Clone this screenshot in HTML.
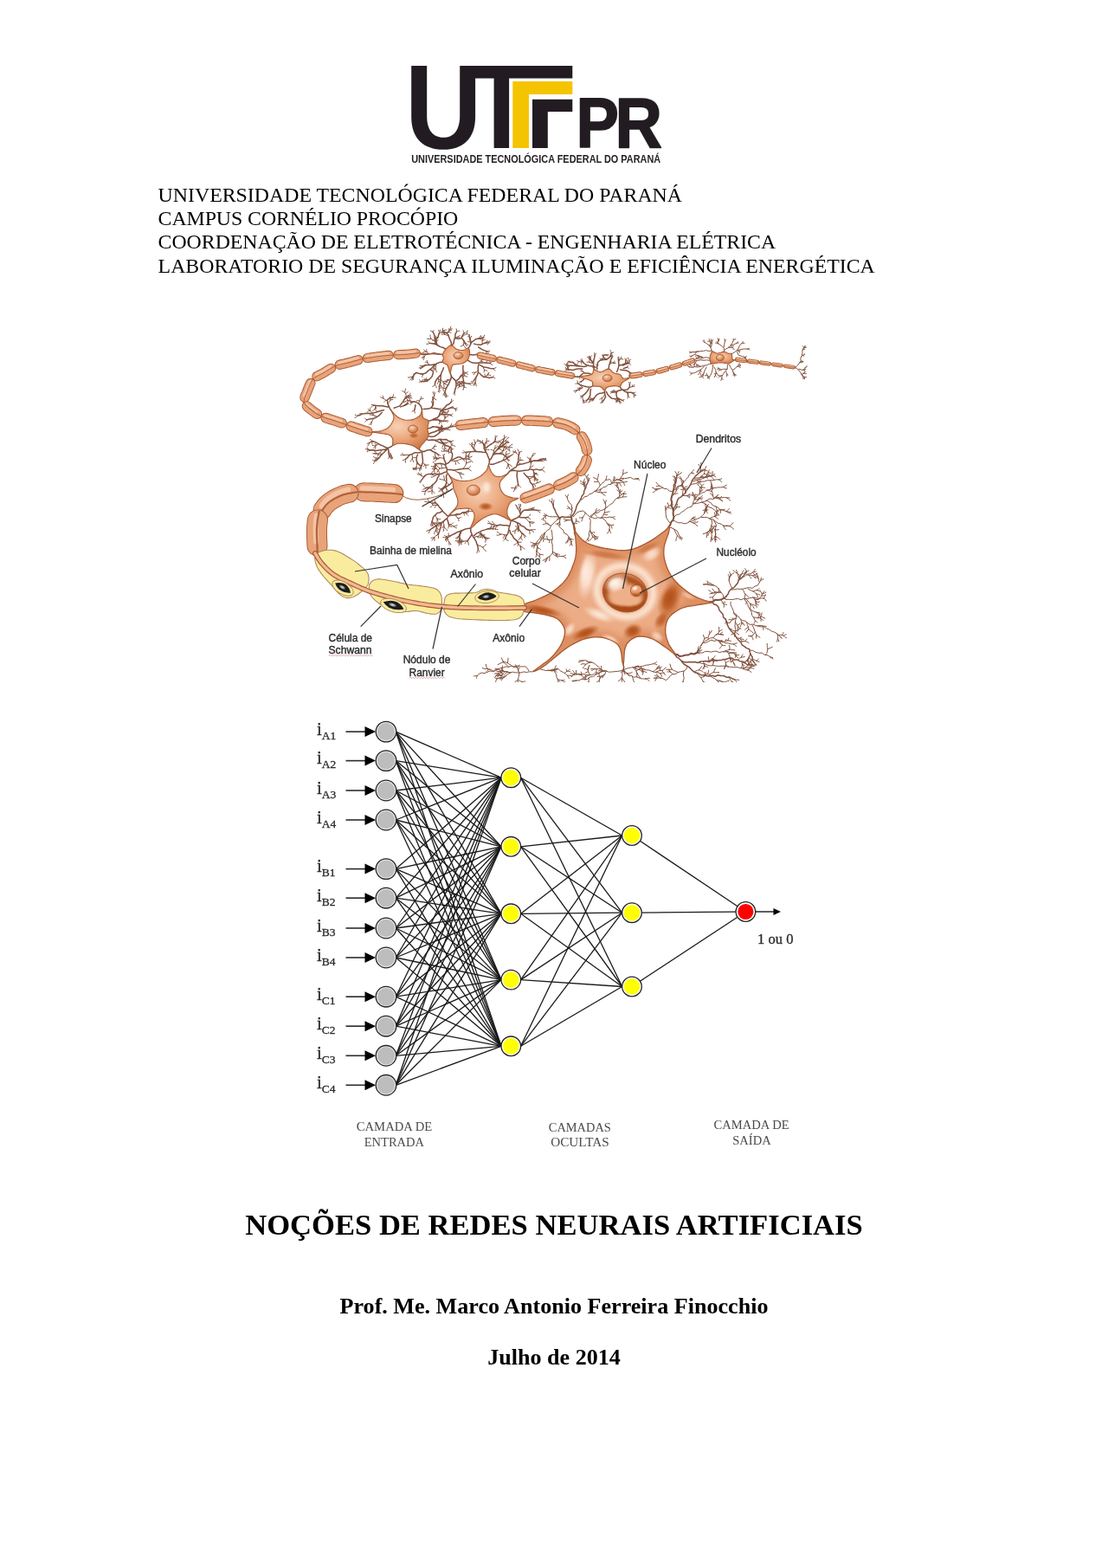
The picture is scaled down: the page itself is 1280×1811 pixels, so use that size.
<!DOCTYPE html>
<html lang="pt-BR"><head><meta charset="utf-8"><title>Noções de Redes Neurais Artificiais</title>
<style>
html,body{margin:0;padding:0;background:#fff;}
body{width:1280px;height:1811px;position:relative;overflow:hidden;font-family:"Liberation Serif",serif;color:#000;}
.abs{position:absolute;white-space:nowrap;line-height:1;}
.hdr{font-size:23.83px;left:182.6px;filter:grayscale(1);}
.c{left:0;width:1280px;text-align:center;font-weight:bold;filter:grayscale(1);}
svg{overflow:visible}
</style></head><body>
<svg width="0" height="0" style="position:absolute"><defs>
<filter id="bl" x="-5%" y="-5%" width="110%" height="110%"><feGaussianBlur stdDeviation="0.6"/></filter>
<filter id="bl2" x="-5%" y="-5%" width="110%" height="110%"><feGaussianBlur stdDeviation="0.7"/></filter>
</defs></svg>
<svg class="abs" style="left:0;top:0" width="1280" height="200" viewBox="0 0 1280 200"><g filter="url(#bl)">
<path fill="#231f20" d="M475.2 76 H493.2 V134 C493.2 150 500 158.8 512.2 158.8 C524.4 158.8 531.2 150 531.2 134 V76 H661.3 V90.6 H588.1 V171 H570.6 V90.6 H549.1 V135 C549.1 160 535 172.8 512.2 172.8 C489.4 172.8 475.2 160 475.2 135 Z"/>
<path fill="#f5c400" d="M592.3 94 H661.3 V109 H611 V171 H592.3 Z"/>
<path fill="#231f20" d="M615 114.7 H661.3 V129 H632.8 V171 H615 Z"/>
<g font-family="Liberation Sans, sans-serif" font-weight="bold" font-size="81.5" fill="#231f20" stroke="#231f20" stroke-width="1.6" stroke-linejoin="round"><text id="pP" x="665.6" y="170.4" textLength="49.5" lengthAdjust="spacingAndGlyphs">P</text><text id="pR" x="710.6" y="170.4" textLength="54.5" lengthAdjust="spacingAndGlyphs">R</text></g>
<text id="sub" x="475.2" y="187.5" font-family="Liberation Sans, sans-serif" font-weight="bold" font-size="12.6" fill="#231f20" textLength="288" lengthAdjust="spacingAndGlyphs">UNIVERSIDADE TECNOLÓGICA FEDERAL DO PARANÁ</text>
</g></svg>
<div class="abs hdr" id="l1" style="top:213.6px">UNIVERSIDADE TECNOLÓGICA FEDERAL DO PARANÁ</div>
<div class="abs hdr" id="l2" style="top:240.9px;letter-spacing:-0.07px">CAMPUS CORNÉLIO PROCÓPIO</div>
<div class="abs hdr" id="l3" style="top:268.2px;letter-spacing:-0.04px">COORDENAÇÃO DE ELETROTÉCNICA - ENGENHARIA ELÉTRICA</div>
<div class="abs hdr" id="l4" style="top:295.5px">LABORATORIO DE SEGURANÇA ILUMINAÇÃO E EFICIÊNCIA ENERGÉTICA</div>
<div class="abs c" id="t1" style="top:1397.3px;font-size:34.6px">NOÇÕES DE REDES NEURAIS ARTIFICIAIS</div>
<div class="abs c" id="t2" style="top:1496.3px;font-size:26.1px">Prof. Me. Marco Antonio Ferreira Finocchio</div>
<div class="abs c" id="t3" style="top:1555.3px;font-size:26.1px">Julho de 2014</div>
<svg class="abs" style="left:0;top:360px" width="1280" height="440" viewBox="0 360 1280 440">
<defs>
<radialGradient id="gb" cx="45%" cy="40%" r="65%"><stop offset="0" stop-color="#f7d2b6"/><stop offset="0.55" stop-color="#eaa57a"/><stop offset="1" stop-color="#cf7a46"/></radialGradient>
<radialGradient id="gn" cx="40%" cy="30%" r="80%"><stop offset="0" stop-color="#f9d9c2"/><stop offset="0.5" stop-color="#e39a6c"/><stop offset="1" stop-color="#b85a26"/></radialGradient>
<radialGradient id="gbig" gradientUnits="userSpaceOnUse" cx="715" cy="680" r="110"><stop offset="0" stop-color="#f4c3a0"/><stop offset="0.3" stop-color="#f2bb96"/><stop offset="0.6" stop-color="#e9a177"/><stop offset="1" stop-color="#dc8c5c"/></radialGradient>
<radialGradient id="gd"><stop offset="0" stop-color="#b2501a" stop-opacity="1"/><stop offset="0.45" stop-color="#b6551f" stop-opacity="0.8"/><stop offset="1" stop-color="#c06028" stop-opacity="0"/></radialGradient>
<radialGradient id="gl"><stop offset="0" stop-color="#fdeee3" stop-opacity="1"/><stop offset="0.45" stop-color="#fce6d6" stop-opacity="0.8"/><stop offset="1" stop-color="#f8d8c2" stop-opacity="0"/></radialGradient>
<radialGradient id="gw"><stop offset="0" stop-color="#fff6ef" stop-opacity="1"/><stop offset="0.5" stop-color="#fdebde" stop-opacity="0.8"/><stop offset="1" stop-color="#f8d8c2" stop-opacity="0"/></radialGradient>
<filter id="bl3" x="-20%" y="-20%" width="140%" height="140%"><feGaussianBlur stdDeviation="2.5"/></filter>
<filter id="bl1" x="-20%" y="-20%" width="140%" height="140%"><feGaussianBlur stdDeviation="1"/></filter>
<radialGradient id="gnb" cx="38%" cy="32%" r="75%"><stop offset="0" stop-color="#f8d8c0"/><stop offset="0.45" stop-color="#eaa67c"/><stop offset="1" stop-color="#cf7a48"/></radialGradient>
<filter id="bl4" x="-10%" y="-10%" width="120%" height="120%"><feGaussianBlur stdDeviation="4"/></filter>
<radialGradient id="gk"><stop offset="0" stop-color="#e6e6e6"/><stop offset="0.5" stop-color="#9a9a9a"/><stop offset="1" stop-color="#1c1c1c"/></radialGradient>
<clipPath id="clipimg"><rect x="340" y="372" width="600" height="416"/></clipPath>
</defs>
<g filter="url(#bl2)" clip-path="url(#clipimg)">
<g fill="none" stroke="#80503c" stroke-linecap="round" stroke-linejoin="round"><path stroke-width="1.5" d="M511 409.5l-3 -0.5 -3.3 -0.6 -3.3 -0.6 -3.3 0.8 -3.3 0.5 -3.3 0.3 -3.4 0.1 -2.9 -1.2M514.8 403.1l-2.7 -1.6 -3.3 -0.9 -2.9 -1.6 -3 -1.6 -3.3 -0.6 -3.1 -0.4M503.7 398l-1 -3.5 -0.6 -3.8 -0.3 -4 -1.7 -3.2M503.8 393l2.1 -4 1.5 -4.3M521.2 398.6l0.2 -3 -1.4 -3 -1.2 -2.8 -1.1 -3.3 -2.4 -2.2 -2.6 -1.5M515.2 384.4l1.8 -0.3 1.5 -0.8M522.6 398.6l1.6 -2.6 0.4 -3.3 1.2 -3.1 0.1 -3.4 1.5 -2.7M526.5 390.8l3.1 0.4 3.3 -0.7 1.5 -3.1 1.7 -2.7M533.9 391l2 2.7 1.5 3.1M541.4 401.8l1.5 -2.7 1.4 -3.1 -1 -3.3 -0.7 -3M544 395.6l2.7 -1.6 2.7 -2.3 3.4 -0.8 3.2 -0.1M547.7 397.1l3.6 1 4 0.2 3.5 -1.7 3.5 -1.4M552.7 400.9l2.9 2 3.3 1.7 3.4 1M542.8 409.5l3.5 0.4 3.5 -0.4M540.2 415.9l2.6 1.7 3.1 1.5 3.4 0.1 3.3 0.1 3.5 -0.4 3.4 0 3.4 0.3 3.1 0.3M552.7 420.9l3.1 1.5 3.3 1.6 3.6 0.6 3.6 0.9 3.5 0.2M552.5 422.2l-0.3 3.6 0.3 3.7 -1 3.6 -2 3.2 -1.9 3M553.9 430.9l2.1 2.3 2.7 2.2 3.3 0.2 3.4 0.8 3.1 -0.6M520.1 431l1.2 2.9 -0.3 3.5 -1.5 3.2 -1.3 3.2 -1.9 3 -1.5 3.1 -1 3.1M521.4 434.7l2.3 2.4 2.6 2.5 0.7 3.3 -0.1 3.5 -1.1 3.4 -0.7 3.2M535 422.2l-0.2 3.4 0.3 3.6 -0.4 3.5 0.1 3.6 0.8 3.6 0.1 3.6 0.5 3.3M535.2 442l3.5 0.7 3.6 0.5M527.7 439.3l2.6 -2 1.9 -3.1 2.6 -2M511 418.3l-3.2 0.3 -3.2 1.2 -2.6 2 -2.3 2.4 -2.5 2.2 -2.7 2 -2.5 2.4 -3 1.1M497.7 427.1l2.7 1.9 -0.2 2.8 -1.4 3.4 -2.5 2.6 -2.8 2.5 -3.7 0.3 -3.3 0.1M502.3 420.8l-3.5 0.8 -3.9 -0 -3.8 0.1 -3.4 1.5M509.8 432.2l-2.5 2.6 -2.5 3 -2 3.2 -0.4 3.3M488.5 432l-3.6 -0.4 -3.8 -1.1 -2.9 1.6 -0.7 3.4M512.4 424.7l-0.9 2.8 -1.5 2.9 -0.7 3.2 -0.3 3.2 -0.1 3.2 -0.4 3.2 -1.1 3.1 0.1 3"/><path stroke-width="1" d="M492.3 409.3l-0.9 1.2 -1.1 0.9 -1.2 0.8M489.1 412.2l-0.2 1.1 0 1.1 0.4 1M489.1 412.2l-0.8 0.3 -0.8 0.3 -0.6 0.6M490.3 411.4l-0.1 0.9 -0.1 0.9 -0.2 0.8M495.7 408.9l-1.1 -1.3 -1.4 -1 -1.6 -0.7M491.6 405.9l-1.2 0.3 -1.1 0.5 -1 0.8M491.6 405.9l-0.6 -0.7 -0.7 -0.6 -0.6 -0.8M493.2 406.6l-0.1 -1 -0.3 -1 -0.1 -1M485.2 408.3l-0.8 0.4 -0.9 0.4 -0.9 0.1M485.2 408.3l-1 -0.4 -1.1 -0.5 -1.1 -0.4M505.2 398.6l-0.6 -1.2 -0.2 -1.3 0.1 -1.4M504.5 394.7l-0.2 -0.9 -0 -1 -0.3 -0.8M504.5 394.7l0.4 -0.7 0.7 -0.6 0.5 -0.7M504.6 397.4l-0.7 -0.5 -0.7 -0.4 -0.7 -0.4M505.4 398.7l-0.5 -1.7 -0.8 -1.5 -1 -1.4M503.1 394.1l0 -1.3 -0.2 -1.3 -0.2 -1.3M503.1 394.1l-1.3 -0.5 -1.2 -0.5 -1.3 -0.1M504.9 397l-1 0 -1.1 -0.1 -1 -0.1M496.5 396.4l-1.2 0.5 -1.2 0.4 -1.3 0M496.5 396.4l-0.6 -0.6 -0.5 -0.6 -0.4 -0.7M502.6 393.6l0.4 -1.1 0.4 -1.2 0.4 -1.2M503.8 390.1l1 -0.3 1 -0.1 1 -0.1M503.8 390.1l-0.3 -0.6 -0 -0.7 0.1 -0.7M502.6 394.1l-1.7 -0.7 -1.4 -1.4 -1.7 -0.8M497.8 391.2l-1.4 0.3 -1.4 0 -1.5 -0.3M497.8 391.2l-0.5 -1.4 -0.2 -1.4 -0.2 -1.4M500.1 383.5l-0.9 -0.6 -1 -0.4 -1 -0.6M500.1 383.5l0.1 -0.8 0.4 -0.7 0.6 -0.6M506.8 386.4l1.5 -1.4 1.6 -1 1.3 -1.6M511.2 382.4l1.4 -0.7 1.4 -0.5 1.5 -0.1M511.2 382.4l0.1 -1.1 0.3 -1.1 0.1 -1.1M509.9 384l1.2 0.3 1.2 0.2 1.2 -0M507.4 384.7l-0 -1.2 -0.3 -1.2 -0.5 -1.1M507.4 384.7l0.7 -1.1 0.3 -1.2 0.2 -1.3M518.1 387.8l-1.5 -0.4 -1.4 -0.6 -1.3 -0.8M513.9 386l-1.3 0.2 -1.2 0.1 -1.2 -0M513.9 386l-0.9 -0.6 -0.8 -0.6 -0.7 -0.7M513.9 386l-0.3 -0.9 -0.4 -0.8 -0.3 -1M512.7 382.8l-0.7 0.3 -0.8 0.3 -0.8 0.3M512.7 382.8l-0.6 -0.6 -0.4 -0.7 -0.5 -0.6M517.4 383.9l0.7 -1.3 0.9 -1.1 0.9 -1.1M519.9 380.4l0.5 -1.1 0.1 -1.1 0.4 -1M519.9 380.4l0.8 -0.3 0.9 -0.2 0.8 0M519 381.5l0.9 0.2 0.8 -0.1 0.9 0.1M518.5 383.3l0.3 -1.2 0 -1.3 -0 -1.3M518.5 383.3l0.9 0.2 0.8 0.5 0.9 0.3M525.6 390.1l1.2 -0.2 1 -0.6 1.2 -0.3M529 389l0.6 0.2 0.7 0.2 0.7 0.3M529 389l0.7 -0.5 0.7 -0.6 0.9 -0.2M526.8 389.9l0.6 0.2 0.6 0.4 0.6 0.4M527.4 383.5l0.1 -1.3 -0.1 -1.2 -0.3 -1.2M527.4 383.5l1 -0.8 1.2 -0.4 1.3 -0.1M533.7 389l1.8 -1.2 1.7 -1.3 1.9 -0.9M539.1 385.6l1.2 0.4 1.2 0.3 1 0.6M539.1 385.6l0.6 -1.3 0.2 -1.3 0.2 -1.3M536.1 384.7l-0.2 -1 -0.4 -0.9 -0.4 -1M536.1 384.7l0.9 -0.1 0.7 -0.4 0.6 -0.5M535.9 393.7l-0 1.6 -0.2 1.7 -0.5 1.6M535.2 398.6l1 1 0.8 1 0.6 1.3M535.2 398.6l-1 0.5 -1.1 0.5 -1 0.7M535.9 395.3l0.8 0.5 0.9 0.4 1 0.2M537.4 396.8l1.2 0.4 1 0.7 1.2 0.5M537.4 396.8l0.4 1.2 0.8 1 0.8 0.9M543.8 397.2l-0.5 -1.7 -0.1 -1.7 -0.2 -1.8M543 392l-0.6 -1.3 -0.3 -1.4 -0.4 -1.5M543 392l0.3 -1.3 0.7 -1.1 0.7 -1.2M543.3 395.5l-0.9 -0.5 -1 -0.3 -1 -0.4M542.6 389.7l-0.5 -0.6 -0.7 -0.5 -0.8 -0.3M542.6 389.7l0.1 -0.9 -0.1 -1 -0.2 -1M549.6 391.6l1.4 -0.1 1.4 -0 1.2 -0.6M553.6 390.9l0.6 -0.9 0.4 -1 0.6 -1M553.6 390.9l1.1 -0.2 1.1 -0.4 1.2 -0.1M553.6 390.9l0.9 0.6 0.9 0.5 0.8 0.8M556 390.8l1.1 -0.5 1 -0.6 1.2 -0.4M556 390.8l0.9 0.2 1 -0 0.9 -0.2M558.7 396.6l1.6 -0 1.5 -0.6 1.4 -0.5M563.2 395.5l1.1 0.2 1 -0.2 1 -0.4M563.2 395.5l0.9 -0.7 0.9 -0.5 1 -0.5M561.8 396l0.6 0.7 0.6 0.8 0.7 0.6M557.2 397.4l-0.1 -2 -0 -2 0.4 -1.9M557.5 391.5l-0.7 -1.2 -0.6 -1.2 -0.6 -1.3M557.5 391.5l0.7 -1.5 0.7 -1.5 0.8 -1.4M557.1 393.4l1.1 -0.3 1.1 -0.5 1.1 -0.4M562.3 395.2l0.4 -0.6 0.2 -0.7 0 -0.8M562.3 395.2l0.8 0.5 0.8 0.6 0.9 0.4M561.6 405.4l0.2 1.4 0.6 1.3 1 1M563.4 409.1l1.1 0.3 1.1 0.4 1.2 0M563.4 409.1l0.4 0.7 0.4 0.7 0.7 0.6M563.4 409.1l0.2 0.8 0.1 0.9 0.1 0.8M562.3 405.6l1.2 0.1 1.1 -0.2 1.1 -0.3M562.3 405.6l0.8 0.7 0.9 0.5 0.9 0.5M549.8 409.5l1 -0.6 0.8 -0.8 0.8 -0.9M549.8 409.5l1.2 0.4 1.2 0.5 1.3 0.2M561.1 419.1l1.2 -1.4 1.2 -1.4 0.8 -1.6M564.3 414.7l-0.5 -0.8 -0.4 -1 -0.3 -1M564.3 414.7l1 -0.5 0.9 -0.7 1 -0.5M563.5 416.3l1 0.4 0.9 0.6 0.9 0.6M553.4 419.2l1 -1.1 1 -1.1 1 -1.1M556.4 415.9l-0.2 -0.8 0.1 -0.8 0.2 -0.9M556.4 415.9l0.8 -0.6 0.8 -0.7 0.9 -0.5M556.4 415.9l1 -0.5 1.1 -0.2 1.1 -0.4M555.4 417l0.8 0.4 0.8 0.3 0.9 0.1M566 419.5l1 -0.6 0.8 -0.9 0.9 -0.7M566 419.5l1 0.5 0.9 0.7 0.8 0.9M557.8 423.4l0.6 1.3 0.6 1.4 0.5 1.3M559.5 427.4l1.2 0.2 1.1 0.2 1.1 0.5M559.5 427.4l-0 0.8 -0.3 0.8 -0.1 0.9M569.8 425.7l1.1 -0.2 1.1 -0.4 1 -0.7M569.8 425.7l0.7 0.8 0.7 0.7 0.8 0.7M549.8 435.9l0.1 2 -0.3 2 -0.7 1.8M548.9 441.7l0.7 1.3 0.4 1.4 0.2 1.5M548.9 441.7l-0.2 1.3 -0.4 1.3 -0.8 1.1M548.9 441.7l-0.8 0.9 -0.8 0.9 -0.6 1.1M552.4 427.6l-0.9 1.2 -1.2 0.9 -1.3 0.5M549 430.2l-1.2 -0.1 -1.1 0.1 -1.2 0.2M549 430.2l-0.7 0.9 -0.6 0.9 -0.6 0.8M547.6 439.3l-0.5 1.2 -0.6 1.1 -0.9 0.9M547.6 439.3l-1.1 0.6 -1 0.6 -1.2 0.3M559 435.4l1.4 -0.6 1.4 -0.7 1.2 -0.9M563 433.2l0.4 -0.7 0.4 -0.8 0.4 -0.8M563 433.2l0.8 -0.8 0.5 -1 0.5 -1.1M563 433.2l1.3 -0.1 1.3 0 1.1 0.5M560.4 434.8l-0.1 -1 -0.3 -0.9 0.1 -0.9M568.5 435.8l0.6 -0.6 0.7 -0.4 0.7 -0.5M568.5 435.8l1.1 0.1 1.1 0.4 1.1 0.4M521 437.4l-1.2 0.5 -1.1 0.8 -1 0.8M517.7 439.5l-1 0.2 -1.1 0.1 -0.9 0.3M517.7 439.5l-0.7 0.7 -0.7 0.5 -0.8 0.4M518.7 438.7l-0.8 -0.1 -0.8 -0.1 -0.8 0.2M513.9 452.9l0.8 1 0.4 1.3 0.2 1.3M515.3 456.5l0.7 0.4 0.7 0.3 0.7 0.1M515.3 456.5l0.2 0.8 0.1 0.8 0.1 0.9M515.3 456.5l-0.3 0.7 -0.2 0.7 -0.2 0.7M514.7 453.9l0.1 0.8 -0 0.8 0.2 0.8M513.8 453l0.1 1.3 -0.2 1.4 -0 1.3M513.8 453l-0.8 1 -0.6 1.2 -0.3 1.2M527 442.7l1.7 0.2 1.8 0 1.8 -0.2M532.3 442.7l1 0.8 0.8 1 0.7 1M532.3 442.7l1.4 -0.2 1.3 -0.2 1.4 -0.3M528.7 442.9l0.8 -0.7 0.9 -0.6 1 -0.3M526.6 440.9l1.3 0.2 1.4 0 1.4 0.1M530.7 441.2l0.5 0.7 0.7 0.6 0.6 0.7M530.7 441.2l1 -0.3 1.1 -0.2 1.1 -0.2M529.3 441.1l0.8 0.1 0.8 -0.1 0.8 0.1M525.1 453l-0.1 1.1 0.2 1.1 0.1 1M525.1 453l-0.3 0.7 -0.5 0.6 -0.6 0.5M535.1 428.7l0.9 0.8 1.1 0.5 1.1 0.5M538.2 430.5l0.8 0.6 0.7 0.7 0.6 0.8M538.2 430.5l0.7 -0.2 0.8 -0.4 0.6 -0.4M536 445.2l-1.5 0.6 -1.6 0.3 -1.7 -0.1M531.2 446l-1 -0.9 -1 -0.9 -1 -0.9M531.2 446l-0.6 0.9 -0.8 0.7 -1 0.5M535.5 439.4l-1.2 1.6 -1.6 1.3 -1.3 1.6M531.4 443.9l-0.5 1.1 -0.5 1.1 -0.5 1M531.4 443.9l-1.5 0.8 -1.5 0.6 -1.7 0.1M531.4 443.9l-1.4 0.3 -1.3 0.8 -1.4 0.5M534.3 441l-0.5 1.1 -0.1 1.3 -0.2 1.2M536.2 446.8l0.7 0.4 0.6 0.3 0.8 0.2M536.2 446.8l-0.5 1.1 -0.4 1.2 -0.3 1.3M542.3 443.2l1.2 -0.4 1.2 -0.4 1.3 0M542.3 443.2l0.8 0.6 0.9 0.5 0.7 0.7M531.4 435.7l1.6 -0.7 1.8 -0.6 1.7 -0.5M536.5 433.9l0.3 -1.3 0.6 -1.2 1 -1M536.5 433.9l1.1 0.4 1.2 0.3 1 0.7M534.8 432.2l0.6 -0.7 0.3 -0.8 0.4 -0.7M534.8 432.2l1.2 -0.3 1 -0.5 1 -0.6M502.5 421.4l-0.5 1.2 -0.2 1.2 -0.5 1.1M501.3 424.9l0.2 0.9 0.3 0.7 0.1 0.9M501.3 424.9l-0.6 0.5 -0.4 0.6 -0.6 0.5M502 422.6l-0.7 0.1 -0.7 0.4 -0.7 0.2M503.6 420.5l0.1 1.9 -0.2 1.8 -0.5 1.7M503 425.9l0.6 1.2 0.3 1.3 0.6 1.3M503 425.9l-0.9 0.6 -0.8 0.8 -0.8 0.7M489 431.9l-0.5 1.1 -0.5 1.1 -0.2 1.2M489 431.9l-1.1 0.1 -1 0.1 -1 -0M495.9 438.3l-1.2 -0 -1.2 0.2 -1.2 0.2M492.3 438.7l-0.4 0.5 -0.5 0.5 -0.6 0.3M492.3 438.7l-0.7 -0.6 -0.8 -0.5 -0.7 -0.7M493.5 438.5l-0.4 -0.6 -0.3 -0.6 -0.3 -0.7M495.7 438.4l-1.5 0.3 -1.5 -0.3 -1.5 0.3M491.2 438.7l-0.5 0.8 -0.5 0.7 -0.3 0.9M491.2 438.7l-1.3 0 -1.2 0.2 -1.3 0.3M494.2 438.7l-0.6 0.7 -0.9 0.4 -0.8 0.4M486.5 440.7l-0.8 0.2 -0.8 0.2 -0.7 0.4M486.5 440.7l-0.7 -0.5 -0.6 -0.8 -0.6 -0.7M492.3 421.6l-1.4 0.9 -1.2 0.9 -1.4 0.7M488.3 424.1l-1.1 0.3 -1 0.5 -0.9 0.7M488.3 424.1l-0.6 0.9 -0.8 0.6 -0.8 0.4M496.3 421.6l-1 -0.7 -0.7 -1 -0.7 -1M493.9 418.9l-0.7 -0.4 -0.9 -0.3 -0.9 0M493.9 418.9l-0 -0.9 -0.3 -0.9 -0.5 -0.9M487.7 423.2l-1.1 0.7 -1.1 0.7 -1.3 0.4M487.7 423.2l-0.8 -0.3 -0.8 -0.3 -0.9 -0.3M506.4 435.9l-0 1.6 0.3 1.5 0.1 1.6M506.8 440.6l0.8 0.5 0.9 0.4 0.8 0.5M506.8 440.6l-0.6 0.9 -0.5 0.9 -0.3 1M506.4 437.5l0.7 0.5 0.8 0.6 0.7 0.7M502.4 444.3l0.8 1 0.7 1.2 0.3 1.2M502.4 444.3l-0.6 0.9 -1 0.7 -1.1 0.4M480.9 430.6l-1.4 1.6 -1.6 1.3 -1.4 1.6M476.5 435.1l-0.1 1.4 -0.1 1.4 -0.3 1.3M476.5 435.1l-1 1.3 -0.8 1.5 -1.2 1.2M476.5 435.1l-1.7 0.2 -1.6 0.6 -1.8 0.1M477.5 435.5l-0 1 0.1 0.9 -0.1 1M477.5 435.5l-0.4 0.7 -0.3 0.7 -0.3 0.8M508.3 443.8l1 1.5 1.1 1.4 1.2 1.3M511.6 448l1.2 0.4 1.2 -0 1.1 -0.4M511.6 448l0.4 1.1 -0 1.2 0.3 1.1M509.3 445.3l-0.1 1.1 0.2 1 0.2 1.1M509 437.9l1.1 1.7 1.6 1.3 1.2 1.6M512.9 442.5l1.3 -0.3 1.1 -0.6 1.3 -0.3M512.9 442.5l1.1 0.8 1.2 0.6 1.4 0.3M512.9 442.5l-0.1 1.5 0.1 1.5 0.2 1.5M511.7 440.9l1.2 -0.4 1.1 -0.2 1.2 0.2M507.5 449.3l0.4 1.2 0.1 1.2 -0.3 1.3M507.5 449.3l-0.5 1.1 -0.6 1.1 -0.2 1.2"/></g><g fill="none" stroke="#80503c" stroke-linecap="round" stroke-linejoin="round"><path stroke-width="1.5" d="M452.4 474.8l-1.9 -2.7 -1.5 -3.2 -1.2 -3.3 -0.4 -3.6 2.9 -2.3 3.2 -0.8M448.5 470l-3.2 -0.6 -3.5 -0.6 -3.5 0 -3.5 -0.4 -3.3 -0.3M443.5 473.8l-3.1 0.5 -3.1 1 -3.2 0.9 -3.3 0.9 -3.3 0.5 -3.4 -0.4 -3.3 0.6 -3.1 0.3M441.1 476.4l-2.1 2.4 -2.5 2 -2.9 1.7 -3.2 1.1 -3.4 0.3 -3 1M455.2 471.2l3.1 -1.1 3.1 -1 2 -2.5 2.2 -2.7 1.7 -2.9 2.1 -2.7 2.9 -1.3M462.7 469.9l3.8 -1.3 3.3 -2.2M487.5 474.8l-0.4 -3.1 -1.1 -3 -2.2 -2.4 -2.7 -1.8 -3.1 -0.8 -2.8 1.2M480 467.7l-0.5 3 -0.7 2.8M489 472.5l3.2 -0.2 3.3 -0.2 2.8 -1.3 2 -2.7 0 -3.4 -0.3 -3.2M499 471.3l4.1 0.5 4.2 0.7M495.2 486.2l3 -0.6 2.8 -1.7 3 -1.1 2.8 -1.7 1.1 -3.2 1.1 -3 2.4 -2.2 2.5 -2 2 -2.7 3 -1.3 2.2 -2.2M510.2 474.9l3.4 -1.7 4 -1 3.4 -1.5M509 478.8l3.9 -0.1 4.2 -0 3.9 0.7M500.2 485l3.6 -0.2 3.7 0.5 3.7 1.1 3.6 -0.2M494 494.9l3.1 -0.7 3.2 -1.4 3.6 0.4 3.2 0.2 3.2 1.1 3.4 0.5 3.5 -0.2 3.1 -1.7 3.2 -0.5M495.2 501.2l3.2 -1.4 3.6 -1.1 3.4 -1.5 3.6 -1 3.3 -1.1M495.2 503.8l3.2 0.6 3.5 -0.4 2.9 -1.8 2.8 -2.2 2.2 -2.3M492.7 507.5l2.9 1.1 3.4 -0.5 3.2 0.2 3.2 -0.3 3.1 -0.7 3.4 0.5 3.3 -0.3 2.9 1.7 2.9 0.7M502.7 508.8l3 1.3 3.2 1.4 3.3 1 2.9 1.9 3.3 1.1 2.6 1.9M483.9 518.9l2.6 2 3.6 0.6 3.3 -1.6 3.6 -0.4 3.1 2 3.3 1.4 2.6 2M487.5 521.5l0.2 3 0.3 3.1 0.4 3.2 -0 3.1 -1.1 3.1 -1 2.8M486 522.5l-3.2 0.4 -3.5 -0.2 -3 1.7 -3.4 1.1 -2.1 2.9 -2.5 2.1M482.4 525.2l-1.2 3.1 -0.1 3.5 1.4 3.3 2.3 2.2M453.6 514.5l-2.5 1.8 -2.9 1.1 -3.2 -0.9 -2.9 -1.6 -3.1 -1.2 -2.9 -1.8 -2.9 -1.5 -3 -0.9M448.5 517.6l-3.2 1.3 -3.7 0.6 -3.6 0.5 -3.7 0.5 -3.7 -0.7 -3.5 0.2M447.3 518.9l-2.2 2 -2.3 2.3 -2.4 2.2 -1.8 2.8 -2.4 2.2 -2.3 1.9M448.8 519l0.1 4.2 1.1 4.1"/><path stroke-width="1" d="M448 466.3l1 -1.5 1.2 -1.3 0.7 -1.6M450.9 461.9l1.1 -0 0.9 -0.4 1 -0.2M450.9 461.9l0.4 -1.1 -0.1 -1.2 -0.5 -1.1M447.5 462.7l-1.6 -0.5 -1.4 -0.7 -1.1 -1.1M443.4 460.4l-1.3 -0.5 -1.2 -0.6 -1.2 -0.5M443.4 460.4l-0.5 -1.1 -0.4 -1.1 -0.4 -1.1M445.9 462.2l-0.7 0.6 -0.6 0.7 -0.6 0.7M453.5 458.9l0.5 -1.1 0.4 -1.1 0.2 -1.1M453.5 458.9l1.2 0.3 1.2 -0.1 1.2 0.1M434.4 468.4l-0.6 1.2 -0.3 1.4 -0.4 1.3M433.1 472.3l0.6 0.8 0.7 0.7 0.6 0.8M433.1 472.3l-0.6 0.9 -0.9 0.6 -1 0.7M433.8 469.6l0.5 0.7 0.3 0.8 0.1 0.8M431.5 468.1l-0.8 0.9 -1 0.7 -1 0.7M431.5 468.1l-0.8 -0.3 -0.7 -0.3 -0.8 -0.1M430.4 477.1l-1.1 -0.8 -0.8 -1 -0.9 -1M427.6 474.3l-1 0.2 -1 0.3 -0.9 0.5M427.6 474.3l-0.9 -0.5 -0.7 -0.7 -0.8 -0.7M427.6 474.3l0 -0.9 0.1 -0.9 0.1 -0.9M418.5 478l-1.5 1 -1.6 0.6 -1.7 0.5M413.7 480.1l-1.3 -0.1 -1.2 -0.3 -1.1 -0.7M413.7 480.1l-1.1 0.9 -1.2 0.8 -1.3 0.6M417 479l-1 0.3 -1 0.1 -1.1 -0.1M417.7 478.1l-0.7 0.8 -0.9 0.7 -0.9 0.6M417.7 478.1l-0.7 -0.3 -0.8 0 -0.8 0.1M432 483.1l-1 1.2 -0.7 1.5 -0.9 1.4M429.4 487.2l-0.9 1 -0.9 1.1 -0.7 1.2M429.4 487.2l-0 1.2 -0.3 1 -0.4 1.1M435.7 481.3l-1.6 -0.6 -1.6 -0.5 -1.5 -0.8M431 479.4l-1.2 -0.1 -1.3 -0.2 -1.3 -0.2M431 479.4l-0.6 -0.7 -0.7 -0.7 -0.6 -0.7M432.5 480.2l-0.6 -0.8 -0.6 -0.8 -0.4 -0.9M424 484.9l-0.8 0.7 -0.7 0.8 -0.6 0.8M424 484.9l-0.8 -0.4 -0.8 -0.5 -0.7 -0.6M467.7 460.5l1.5 -0.5 1.4 -0.6 1.5 -0.2M472.1 459.2l1.3 0.5 1.3 0 1.2 0.4M472.1 459.2l0.8 -1 0.9 -0.8 0.8 -1M470.6 459.4l0.5 -0.7 0.5 -0.8 0.3 -0.9M469.3 458.4l-0.2 -1.9 -0.5 -1.8 -1 -1.6M467.6 453.1l-0.9 -0.6 -1 -0.5 -1 -0.5M467.6 453.1l0.3 -1.4 0.3 -1.4 0.4 -1.3M468.6 454.7l0.8 -0.7 1.1 -0.5 0.7 -0.9M472.3 457l0.7 -0.9 0.5 -1.1 0.8 -1M472.3 457l0.9 0.5 1 0.5 1 0.1M465.9 468.8l1.2 -0.2 1.2 -0.4 1 -0.6M469.3 467.6l0.3 -1 0.6 -0.9 0.2 -0.9M469.3 467.6l1 -0.2 0.9 -0.5 1 -0.2M468.3 468.2l0.6 -0.3 0.6 -0.4 0.5 -0.6M469.8 466.4l0.7 -0.9 0.5 -1 0.2 -1.2M469.8 466.4l0.8 -0.2 0.7 -0.4 0.6 -0.6M476.8 464.2l-1.9 -0.7 -1.9 -1 -2 -0.3M471 462.2l-1 -1.4 -1 -1.3 -1.2 -1.1M471 462.2l-1.5 0.9 -1.5 0.7 -1.6 0.8M474.9 463.5l-0.7 -1.1 -0.8 -0.9 -0.4 -1.2M483.8 466.4l0.2 -1.8 0.7 -1.7 0.8 -1.6M485.5 461.3l0.5 -1.1 0.5 -1 0.2 -1.1M485.5 461.3l1.2 -0.5 1.2 -0.5 1.2 -0.2M484.7 462.9l-1.1 -0.1 -1 -0.2 -1.1 0.1M475.2 464.9l-0.2 0.9 -0.4 0.8 -0.4 0.7M475.2 464.9l-0.9 -0.4 -0.9 -0.5 -0.8 -0.6M478.8 473.5l0 1.2 0.3 1.1 0.2 1.2M478.8 473.5l-0.8 0.6 -0.9 0.6 -1 0.4M500 462l0.9 -1.8 0.5 -2 0.3 -2M501.7 456.2l0.4 -1.1 0.2 -1.1 -0.2 -1.2M501.7 456.2l-0.7 -1.1 -0.6 -1.2 -0.2 -1.3M500.9 460.2l1.1 0.3 1 0.7 1 0.7M498.7 470.2l0.6 -1.2 0.3 -1.4 -0 -1.3M499.6 466.3l-0.6 -0.9 -0.2 -0.9 -0.2 -0.9M499.6 466.3l0.4 -0.7 0.6 -0.5 0.5 -0.6M500 461.5l-0.2 -1.1 -0.2 -1 0 -1.1M500 461.5l0.6 -1 0.2 -1.2 0.2 -1.2M507.3 472.5l0.7 -0.1 0.8 -0.3 0.7 -0.3M507.3 472.5l0.7 0.5 0.8 0.4 0.9 0.2M506.9 481l1.1 -1.6 1.6 -1.2 1.4 -1.5M511 476.7l0.5 -1.3 0.8 -1.2 1 -1M511 476.7l1.2 -0 1.3 -0.1 1.2 -0.4M509.6 478.2l1.1 -0.4 1.1 -0.6 1 -0.6M504.4 482.6l1.3 1.1 0.9 1.4 1.1 1.3M507.7 486.4l1 -0.1 0.9 0.1 1 0.3M507.7 486.4l0.9 0.6 0.6 0.8 0.9 0.6M507.7 486.4l0.1 1.2 -0.1 1.1 -0.5 1.1M509.8 474.1l1.2 0.3 1 0.6 1 0.8M513 475.8l0.5 0.5 0.5 0.5 0.3 0.6M513 475.8l0.9 0 0.8 0.1 0.9 0.2M521.1 464.5l0.2 -1.2 0.4 -1.2 0 -1.2M521.1 464.5l0.8 -0.5 0.8 -0.7 0.7 -0.7M520.9 470.8l1.5 0.5 1.6 0.1 1.5 0.7M525.5 472.1l0.9 -0.2 0.9 -0.4 0.7 -0.6M525.5 472.1l0.9 0.3 0.9 0.4 0.9 0.3M525.5 472.1l0.5 0.8 0.3 1 0.2 0.9M521 470.7l0.7 -0.5 0.7 -0.4 0.8 -0.3M521 470.7l0.9 -0 0.9 -0.2 0.9 0.1M514.5 478.7l1 -0.6 0.9 -0.9 0.6 -1M517 476.2l0.3 -0.6 0 -0.7 0.2 -0.7M517 476.2l0.5 -0.6 0.5 -0.6 0.7 -0.5M521 479.4l0.7 -0.5 0.6 -0.5 0.7 -0.4M521 479.4l0.6 0.5 0.4 0.6 0.5 0.6M511.7 486.4l1 -1.5 1.2 -1.2 0.9 -1.5M514.8 482.2l-0.4 -1.1 -0.6 -1 -0.8 -0.8M514.8 482.2l0.8 -0.7 1 -0.5 1.1 -0.2M513.9 483.7l-0.1 -1 -0.3 -1 -0.4 -1M514.8 486.2l1 -0.3 1 -0.1 1.1 0.2M514.8 486.2l0.9 0.3 0.8 0.5 0.7 0.7M505.8 493.3l0.8 1.2 1.1 1 1.4 0.6M509.1 496.1l0.8 0.9 0.9 0.9 1 0.8M509.1 496.1l0.9 -0.2 0.9 -0.3 0.9 -0.4M506.6 494.5l0.9 -0.2 0.9 0.1 0.8 0.3M517.9 494.4l0.8 -0.9 0.9 -0.8 0.9 -0.7M520.5 492l0.9 -0.1 0.8 -0 0.7 -0.3M520.5 492l0.4 -1 0.5 -0.8 0.4 -1M523.5 492.6l0.5 -0.9 0.6 -0.7 0.5 -0.8M523.5 492.6l1.3 0.1 1.2 -0.3 1.3 -0.2M507.4 496.6l0.8 -1 0.9 -0.9 0.7 -1.1M509.8 493.6l0.1 -0.9 -0 -0.8 -0.1 -0.9M509.8 493.6l0.4 -0.8 0.3 -0.8 0.1 -0.9M509.8 493.6l0.6 -0.4 0.7 -0.1 0.7 -0.4M509.8 495.9l1.9 0.4 1.9 -0.1 1.8 -0.5M515.4 495.7l1.5 0.5 1.5 0.2 1.5 0.3M515.4 495.7l0.7 -1.1 0.9 -0.9 0.8 -1.1M512.3 495.1l1 -0.6 1.1 -0.2 1 -0.6M512.3 495.1l0.6 0.5 0.5 0.6 0.7 0.5M506.7 500.7l0.6 -1.7 0.2 -1.8 0.1 -1.9M507.6 495.3l-1.1 -0.9 -1 -1.2 -0.9 -1.2M507.6 495.3l0.9 -1.2 1.2 -1 1.4 -0.6M507.5 497.2l-0.5 -1 -0.6 -0.9 -0.4 -1.1M509.8 497.7l0 -1 -0 -1 -0.2 -0.9M509.8 497.7l0.8 -0.3 0.8 -0.2 0.9 0M507.9 507.5l1.2 1.1 1.4 1.1 1.1 1.2M511.6 510.9l1.2 0.6 1.3 0.3 1.3 0.1M511.6 510.9l0.2 1.2 0.4 1.1 0.7 0.9M509.1 508.6l0.4 1 0.7 0.7 0.4 1M518.7 509.4l1 1.5 1.1 1.3 1 1.5M521.8 513.7l-0.7 1.2 -0.7 1.3 -0.3 1.4M521.8 513.7l1.4 0.7 1.4 0.3 1.3 0.8M507.7 507.5l1.8 1 1.6 1.4 1.4 1.6M512.5 511.5l-0.2 1.7 -0.6 1.7 -0.7 1.5M512.5 511.5l1.7 -0.2 1.8 0.1 1.7 -0.4M509.5 508.5l0.3 1.2 0.6 1.1 0.5 1.1M521 509.9l0.8 -0.4 0.9 -0.3 0.9 -0.2M521 509.9l0.6 0.8 0.5 0.9 0.6 0.7M519.4 516.2l-0.2 1.4 -0.5 1.3 -0.6 1.4M518.1 520.3l-0.6 0.6 -0.8 0.6 -0.8 0.4M518.1 520.3l0.3 1 -0.1 1.1 0.2 1.1M519.2 517.6l-0.4 0.7 -0.5 0.8 -0.5 0.6M513.1 513.1l0.3 1.5 0.4 1.4 0.1 1.5M513.9 517.5l0.8 0.6 0.7 0.8 0.8 0.6M513.9 517.5l-0.2 1 -0.2 1.1 -0.5 0.9M513.4 514.6l0.8 0.3 0.9 0.1 0.9 -0M521 517.4l0.9 0.3 0.7 0.4 0.8 0.4M521 517.4l0.5 0.6 0.5 0.6 0.3 0.8M497.2 519.6l1.5 -0.8 1.4 -1.1 1.1 -1.4M501.2 516.3l0.9 -0.3 1 -0.3 1 -0.1M501.2 516.3l0.4 -1.1 0.7 -0.9 0.9 -0.8M500.1 517.7l1 0.4 0.8 0.7 1 0.4M502.4 522.4l0.2 1.8 0 1.8 0.6 1.7M503.2 527.7l-0.6 1 -0.8 0.8 -0.5 1M503.2 527.7l1.1 0.7 1 0.8 1.2 0.6M506 524.9l0.9 0.3 0.8 0.4 0.8 0.4M506 524.9l0.3 0.7 0.1 0.7 0.4 0.7M486.3 539.7l-1.6 0.9 -1.9 0.3 -1.9 0.3M480.9 541.2l-1 0.8 -1.2 0.3 -1.3 0.1M480.9 541.2l-1.2 0.3 -1.3 -0 -1.2 -0.3M480.9 541.2l-1.3 -0.3 -1.4 -0.3 -1.3 0.1M484.7 540.6l0 1.2 0.2 1.1 -0 1.1M488.3 534.2l1.1 1 1.3 1 1.1 1M491.8 537.2l0.2 1.2 -0.1 1.3 -0 1.2M491.8 537.2l1.1 -0.1 1.1 -0 1.1 -0.2M490.7 536.2l-0.3 0.8 -0.4 0.9 -0.6 0.7M486.3 539.8l0.1 0.7 0.1 0.8 0.1 0.8M486.3 539.8l-0.4 0.8 -0.5 0.8 -0.5 0.9M473 525.5l-2 -0.2 -2 0 -2 0.4M467 525.7l-1 -0.6 -0.8 -0.7 -0.7 -1M467 525.7l-1.3 0.2 -1.4 -0.2 -1.4 -0.1M476.2 524.4l-0.1 1.9 0.4 1.9 -0.2 1.9M476.3 530.1l0.5 1.1 0.5 1.2 0.2 1.2M476.3 530.1l-0.7 1 -0.9 0.8 -0.5 1.1M476.5 528.2l1.2 0.2 1.1 0.2 1.2 -0M468.3 530.5l-0 1.2 0.1 1.2 -0 1.3M468.3 530.5l-1 0.4 -1 0.4 -1 0.4M482 534l-0.6 1.8 -0 1.9 -0.5 1.8M480.9 539.5l-0.8 0.8 -0.9 0.9 -0.9 0.6M480.9 539.5l-0.3 1.1 0 1.2 0.3 1.1M484.8 537.3l0.9 0.1 0.8 0.3 0.9 0.2M484.8 537.3l0.5 0.6 0.4 0.7 0.4 0.6M437.6 512.8l-1.5 0.4 -1.2 0.8 -1.1 1M433.8 515l0.1 1.1 -0.2 1.1 -0.3 1M433.8 515l-0.7 1 -0.8 0.7 -0.8 0.8M433.8 515l-1.1 -0.2 -1.2 -0.3 -1.2 -0.1M434.9 514l-0.8 -0.4 -0.7 -0.6 -0.5 -0.8M431.3 509.8l-1.5 0.4 -1.6 0.4 -1.4 0.9M426.8 511.5l-0.5 1.3 -0.7 1.1 -0.7 1.2M426.8 511.5l-0.9 0.1 -0.9 0.4 -0.9 0.4M429.8 510.2l-0.1 1 0.1 1 0.1 0.9M430.2 509.5l-1.1 0.3 -1.1 0.5 -1 0.7M430.2 509.5l-0.7 -0.8 -0.9 -0.6 -0.9 -0.3M441.2 519.6l-0.9 1.7 -1.2 1.5 -1.5 1.1M437.6 523.9l-1.6 0.2 -1.6 0.2 -1.6 -0.1M437.6 523.9l-0.6 1 -0.3 1 -0.1 1.1M439.1 522.8l0.8 0.9 0.6 1 0.8 0.8M428.3 519.9l-1.1 -0.4 -1.1 -0.4 -1.2 -0.3M424.9 518.8l-0.3 -0.6 -0.2 -0.7 -0.2 -0.7M424.9 518.8l-0.8 -0 -0.8 -0.1 -0.8 -0M427.2 519.5l-0.7 0 -0.7 -0.1 -0.7 -0.2M427.1 520l-1 0.5 -0.8 0.8 -1.1 0.5M427.1 520l-1 -0.2 -1 0.1 -1 0.2M438.9 527.8l-1.3 0.8 -1.5 0.5 -1.6 0M434.5 529.1l-1.1 -0.6 -1.1 -0.5 -0.9 -0.7M434.5 529.1l-0.9 0.8 -0.5 1 -0.2 1.2M436.1 529.1l-0.7 0.7 -0.4 0.9 -0.1 0.9M440.4 525.5l-2 -0.4 -1.9 -0.6 -1.8 -1M434.7 523.5l-1.4 0.1 -1.3 0.1 -1.4 0.2M434.7 523.5l-0.9 -1.2 -0.9 -1.2 -1.3 -1M433.9 532.3l-0.8 1 -0.9 0.9 -0.6 1.2M433.9 532.3l-1.1 0 -1.1 -0.2 -1 -0.6M448.9 521.5l1.4 1.2 1 1.5 0.5 1.8M451.8 526l0.6 1 0.6 0.9 0.5 1M451.8 526l0 1.4 0.2 1.3 -0.1 1.3M451.8 526l0.2 1.4 0.5 1.3 0.8 1.1M451.3 524.2l-0.7 0.9 -0.6 0.9 -0.8 0.7M450 527.3l0.6 0.9 0.7 0.9 0.9 0.7M450 527.3l-0.4 0.8 -0.6 0.8 -0.6 0.7"/></g><g fill="none" stroke="#80503c" stroke-linecap="round" stroke-linejoin="round"><path stroke-width="1.5" d="M686.2 426.6l-0.8 -3.1 0.2 -3.4 0.2 -3.4 0.9 -3.3 0.4 -3.2M685.2 419.2l-2.1 -2.7 -2.3 -2.6M684.1 423.1l-3.3 -0.6 -3.4 -0.9 -3 -2.1 -2 -2.8M677.6 423.1l-3.2 0.3 -3.4 -0.3 -3.3 -0.9 -3.2 -1.5 -2.4 -2.1M672.9 426l-3.6 0 -3.7 0.3 -3.7 1.2 -3.8 -0.6 -3.5 -0M670.1 423.1l-3.3 -0.4 -3.5 -0.4 -3.5 -0.1 -3.3 0M690 421.9l0.6 -3.4 2.5 -2.3 3.7 -0.6 3.6 -0.4 2.9 -1.7 2.5 -2.4M701 415.5l-3.2 -2.2 -1.7 -3.1 4 -0.2M703.2 425.7l0.3 -3.2 1.1 -3.2 0.9 -3.3 1.3 -3M690 426.6l-0.5 -2.1 0.5 -2.1M712.6 429.5l1.4 -3.4 0.9 -3.8 -0.2 -3.7 -0.3 -3.7M715.6 422.1l3.5 -0.8 3.6 -1.7 0.1 -3.7M719.3 422.1l3.4 -1.6 3.6 -1M716.5 426.9l3 0.6 3.2 0.3 3 1 2.5 1.7M720.2 425.8l2.1 -0.9 2.2 -0.7M716.4 446.8l1.5 2.9 3.4 0.7 3.5 -0.3 2.5 -2.8 0.1 -3.3M719.3 450.4l2.7 1.8 3.3 1.1 3.5 -0.1 3.1 0.8M717.9 450.4l-3.5 0.9 -3.6 1.7 -3.7 0.1M712.5 452.4l-0.6 3.3 0.8 3.5 3.2 1.7 2.9 1.5M724.7 453.4l0.8 2 0.1 2.2M712.7 459.9l2.1 1.8 1.3 2.5M698.5 451.5l0.1 3.4 1 3.5 -1.7 3.1 -2.1 2.7M698.2 453.2l-2.9 0.8 -3.3 0.6 -2.9 1.6 -2 2.7 -1.6 2.5M700.4 452.4l1.5 3.1 2.5 2.7 2.6 2.1 3.4 0.3M685.1 445.7l-3.2 1.6 -3.7 -0.6 -3.7 -0.8 -3.7 -1.1 -3.1 -1.9M680.5 448.6l-2.2 3.4 -2.7 3.2 -3.2 2.4M682.5 449.6l-0.6 3.3 -0 3.6 -1.6 3.4 -2.3 2.4M672.9 447.6l-3.4 2 -3.7 1.5M683.2 432.4l-2.8 -1.1 -3.2 -0.2 -3.1 -0.1 -2.6 1.9 -1.9 2.2M674.8 437.4l-1.5 1.8 -1.9 1.6M670.1 435.3l-3.1 -0.4 -3 -0"/><path stroke-width="1" d="M685.6 419.7l-1.4 -0.5 -1.4 -0.2 -1.4 -0.4M681.4 418.6l-0.5 -1 -0.1 -1.1 0.1 -1.1M681.4 418.6l-1.1 -0.3 -1.1 -0.1 -1.1 -0.1M684.2 419.2l-0.3 -0.9 -0 -0.8 -0 -0.9M687.1 410.2l-0.2 -0.8 -0.2 -0.9 -0.1 -0.9M687.1 410.2l0.6 -0.6 0.4 -0.8 0.4 -0.8M682.7 416.1l-0.1 -1.2 -0.2 -1.1 -0.4 -1.2M682 412.6l0.5 -0.7 0.5 -0.6 0.6 -0.6M682 412.6l-0.5 -0.4 -0.6 -0.4 -0.5 -0.5M682.4 413.8l-0.5 -0.6 -0.3 -0.6 -0.3 -0.6M680.8 413.9l-0.8 -0.5 -0.9 -0.4 -0.7 -0.5M680.8 413.9l-0.2 -0.9 -0.2 -0.9 -0 -0.9M673.2 417.9l-1.4 0 -1.4 -0.2 -1.4 -0.1M669 417.6l-0.7 -0.4 -0.8 -0.2 -0.8 -0.3M669 417.6l-0.7 0.8 -0.7 0.7 -0.5 0.8M671.8 417.9l-0.2 0.9 -0 0.8 0.1 0.8M672.4 416.7l-0.6 -0.2 -0.6 -0.2 -0.6 -0.3M672.4 416.7l-0.3 -0.7 0 -0.7 0 -0.8M662.9 419.3l-1.4 -0.4 -1.4 -0.3 -1.5 -0.3M658.6 418.3l-0.7 -0.5 -0.9 -0.3 -0.9 -0.2M658.6 418.3l-1.1 0 -1.1 0.5 -1.1 0.2M660.1 418.6l-0.7 -0.6 -0.7 -0.5 -0.8 -0.4M662.1 418.6l-0.6 -0.2 -0.7 -0.1 -0.6 0M662.1 418.6l-0.4 -0.5 -0.4 -0.5 -0.4 -0.4M657.3 426.9l-1.1 -1.2 -0.8 -1.5 -0.3 -1.6M655.1 422.6l-1.1 -0.8 -1.2 -0.6 -1 -0.9M655.1 422.6l0 -1 -0.2 -1 0.1 -1M655.1 422.6l0.5 -0.9 0.1 -0.9 0.2 -1M656.2 425.7l-0.1 -1 0.1 -1 0 -0.9M654.6 426.9l-0.5 0.4 -0.5 0.3 -0.5 0.4M654.6 426.9l-0.6 -0.8 -0.4 -0.9 -0.4 -0.9M658.9 422.2l-1 0.7 -0.9 0.9 -0.7 1M656.3 424.8l-0.8 0.4 -0.7 0.6 -0.9 0.2M656.3 424.8l0.1 1 0.5 1 0.2 1M656.5 422.2l-0.6 0.3 -0.7 0 -0.7 0.1M656.5 422.2l-0.6 -0.7 -0.9 -0.4 -0.6 -0.7M704.7 412.2l0.4 -1.5 0.3 -1.5 0.8 -1.3M706.2 407.9l-0.1 -1.2 -0.5 -1.1 -0.6 -1.1M706.2 407.9l0.9 -0.3 1 -0.3 0.8 -0.4M705.1 410.7l0.9 0 0.9 0.2 0.9 0.1M705.8 411.1l0.1 -1 0.1 -1.1 -0.2 -1M705.8 411.1l0.6 -0.2 0.6 -0.3 0.5 -0.4M698 413.5l-1 0.2 -1.1 0.3 -0.9 0.5M695 414.5l-0.7 -0.1 -0.7 -0.2 -0.6 -0.3M695 414.5l-0.5 0.4 -0.4 0.4 -0.4 0.5M697 413.7l-0.3 0.6 -0.1 0.6 -0.2 0.7M700.1 410l0.9 -0.3 1 0.1 1 -0M700.1 410l0.7 0.5 0.8 0.3 0.9 0.1M704.2 420.4l1.2 -0.6 1.4 -0.5 1.4 -0.3M708.2 419l0.8 -0.5 0.7 -0.6 0.4 -0.8M708.2 419l1 0.2 1 -0.1 0.9 0.1M708.2 419l0.8 0.3 0.8 0.3 0.8 0.1M705.4 419.8l0.3 -0.8 0.2 -0.9 0.1 -0.8M706.8 413l0.1 -0.9 0.1 -1 -0 -1M706.8 413l0.7 -0.2 0.5 -0.4 0.4 -0.5M689.7 425.1l-0.9 -0.5 -0.9 -0.5 -1 -0.2M686.9 423.9l-0.7 0.1 -0.7 0 -0.7 0.2M686.9 423.9l-0.6 -0.3 -0.7 -0.3 -0.4 -0.5M686.9 423.9l-0.3 -0.5 -0.2 -0.5 -0.2 -0.6M687.9 424.1l-0.6 0.3 -0.5 0.3 -0.5 0.3M690 422.4l-0.3 -0.6 -0.5 -0.5 -0.5 -0.4M690 422.4l0.5 -0.3 0.5 -0.4 0.4 -0.4M714.6 417.2l0.9 -0.8 0.8 -1 0.8 -0.8M717.1 414.6l0.2 -0.9 0.2 -0.8 0.2 -0.9M717.1 414.6l0.9 -0.1 0.9 0.2 0.9 0.3M715.5 416.4l0.1 -0.7 0 -0.8 0.3 -0.6M714.4 414.9l-0.2 -0.7 -0.1 -0.7 -0.1 -0.8M714.4 414.9l0.2 -0.9 0.3 -0.9 -0 -1M722.7 419.6l0.9 -0.2 1 -0.2 0.9 0M725.5 419.2l0.6 -0.5 0.6 -0.5 0.6 -0.5M725.5 419.2l0.5 0.3 0.5 0.3 0.5 0.2M722.8 415.9l-0.2 -0.7 -0.4 -0.5 -0.4 -0.6M722.8 415.9l0.3 -0.6 0.4 -0.6 0.1 -0.7M723.8 420.2l1.1 -1 0.8 -1.4 0.8 -1.3M726.5 416.5l-0.3 -1.1 -0.3 -1.2 -0.5 -1M726.5 416.5l0.9 -0.4 0.7 -0.5 0.7 -0.6M724.9 419.2l-0.3 -0.9 0 -0.9 0 -1M726.3 419.5l0.5 -0.6 0.4 -0.6 0.6 -0.5M726.3 419.5l0.9 0.4 0.8 0.6 0.6 0.8M726.8 429.5l0.2 1.1 0.3 1.1 0.1 1.1M727.4 432.8l-0.5 0.7 -0.3 0.8 -0.5 0.7M727.4 432.8l0.5 0.5 0.5 0.6 0.3 0.6M728.2 430.5l0.9 0.3 1 0.3 0.9 0.1M728.2 430.5l0.6 0.7 0.7 0.6 0.6 0.7M724.5 424.2l0.2 -0.6 0.4 -0.6 0.4 -0.5M724.5 424.2l0.6 0.2 0.5 0.4 0.6 0.4M727.3 447.4l1.1 -0.4 1.3 -0.1 1.2 -0.5M730.9 446.4l0.7 0 0.8 -0.1 0.7 -0.1M730.9 446.4l0.7 -0.6 0.7 -0.6 0.5 -0.8M729.7 446.9l0.4 -0.6 0.3 -0.7 0.1 -0.8M727.4 444l-0.2 -0.8 -0.4 -0.8 -0.2 -0.8M727.4 444l0.4 -0.8 0.3 -0.9 0.3 -0.9M729.8 453.5l0.8 1 0.9 0.9 0.9 0.9M732.4 456.3l0.1 0.8 0 0.9 -0 0.8M732.4 456.3l0.8 0.1 0.8 0.1 0.9 -0.1M731.9 454l0.8 -0.2 0.7 -0.3 0.6 -0.5M731.9 454l0.7 0.7 0.5 0.8 0.4 0.9M712.1 452.4l-1 -0.5 -1.2 -0.2 -1.1 -0.1M708.8 451.6l-0.6 -0.2 -0.7 -0 -0.6 -0.1M708.8 451.6l-0.5 0.6 -0.5 0.5 -0.5 0.6M709.9 451.7l-0.3 -0.6 -0.3 -0.6 -0.4 -0.6M707.1 453.1l-0.5 0.4 -0.6 0.3 -0.6 0.4M707.1 453.1l-0.6 -0.4 -0.6 -0.2 -0.5 -0.4M713.5 459.6l0.1 1 -0.2 1 -0.5 0.9M712.9 462.5l0.1 0.8 -0 0.8 -0 0.7M712.9 462.5l-0.2 0.7 -0.3 0.7 -0.4 0.6M712.9 462.5l-0.6 0.4 -0.5 0.5 -0.4 0.5M718.8 462.4l0.8 -0.3 0.6 -0.3 0.8 -0.2M718.8 462.4l0.5 0.5 0.6 0.3 0.7 0.1M725.6 457.6l0.5 0.4 0.5 0.5 0.7 0.3M725.6 457.6l-0.3 0.8 -0.1 0.9 -0.1 0.8M716.1 464.2l0.6 0.3 0.6 0.4 0.7 0.2M716.1 464.2l0.1 0.6 0.1 0.7 -0.2 0.7M698.9 455.8l-1.2 1.1 -0.8 1.5 -1.2 1.1M695.7 459.5l-0.1 1 -0.3 1 -0.1 1M695.7 459.5l-1 0.4 -0.9 0.6 -0.9 0.6M695.8 464.2l-0.2 0.7 -0.4 0.6 -0.5 0.5M695.8 464.2l-0.7 0.3 -0.8 0.2 -0.6 0.4M686.6 459.7l-1.6 0.5 -1.7 0.3 -1.5 0.8M681.8 461.3l-0.5 1.4 -0.4 1.3 -0.7 1.2M681.8 461.3l-0.9 -0.1 -1 -0.1 -1 -0M685 460.2l-0.1 1 -0.1 1 -0.3 0.9M685.5 461.4l-0.4 0.5 -0.5 0.4 -0.5 0.5M685.5 461.4l-0.7 0.2 -0.7 0.3 -0.7 0.3M709.5 460.5l1 1 1.3 0.7 1.4 0.4M713.2 462.6l0.7 -0.4 0.6 -0.6 0.5 -0.6M713.2 462.6l0.7 0.6 0.9 0.5 0.9 0.3M711.8 462.2l0.7 -0.5 0.7 -0.5 0.8 -0.2M710.4 460.6l0.8 -0.1 0.8 -0.1 0.8 -0.3M710.4 460.6l0.9 0.1 0.9 -0 0.9 -0.1M672.8 445.4l-1.1 0.8 -1 0.9 -1 1M669.7 448.1l-0.7 0.2 -0.8 0.1 -0.8 -0.2M669.7 448.1l-0.1 0.9 -0.1 1 -0.3 1M671.7 446.2l-0.6 -0.6 -0.6 -0.5 -0.7 -0.4M667.7 442.9l-0.9 0 -1 0.1 -0.9 0.2M667.7 442.9l-0.3 -1 -0.2 -1 -0.3 -1M673 457.2l0 1.6 0.2 1.6 0.4 1.6M673.6 462l0.7 1 1 0.8 1.2 0.5M673.6 462l0.5 1.1 0.6 1.1 0.4 1.2M673.6 462l0.1 1.2 0.1 1.2 0 1.2M672.4 457.6l-0.5 0.8 -0.5 0.7 -0.6 0.8M672.4 457.6l-0.7 0 -0.6 -0.2 -0.7 -0.2M681.3 457.9l0.7 0.9 0.7 1.1 0.3 1.2M683 461.1l1 0.2 0.9 0.5 1 0.2M683 461.1l-0.5 0.7 -0.4 0.8 -0 0.9M678 462.3l-0.2 0.8 -0.1 0.8 0.2 0.8M678 462.3l-0.7 0.2 -0.7 -0.1 -0.7 -0.2M665.8 451.1l-0.4 0.8 -0.3 0.8 -0.5 0.7M665.8 451.1l-1 0.1 -0.9 0.3 -1 0.3M675.9 431.1l-0.8 -0.9 -1 -0.7 -1.1 -0.6M673 428.9l-0.8 -0 -0.7 -0.2 -0.7 -0.2M673 428.9l-0.5 -0.9 -0.7 -0.6 -0.8 -0.5M669.6 435.1l-0 0.8 0 0.7 0.3 0.8M669.6 435.1l-1 0.4 -0.9 0.3 -1 0.1M671.4 440.8l-0.6 0.4 -0.7 0.4 -0.6 0.4M671.4 440.8l-0.6 -0.1 -0.6 0.2 -0.5 0.1M664 434.9l-0.8 0.3 -0.8 0.5 -0.8 0.5M664 434.9l-0.6 -0.8 -0.6 -0.8 -0.5 -0.8"/></g><g fill="none" stroke="#80503c" stroke-linecap="round" stroke-linejoin="round"><path stroke-width="1" d="M822.5 406l-1 -3.3 -1.7 -3.2 -3 -2.4 -2.9 -1.9M820.1 400l0.1 -0.9 0.1 -0.8 0.4 -0.8M820.7 397.5l-0.2 -0.7 -0 -0.7 -0.1 -0.7M820.7 397.5l0.4 -0.5 0.4 -0.4 0.4 -0.5M820.2 399.1l-0.5 -0.2 -0.4 -0.2 -0.5 -0.3M813.9 395.2l-0.6 -0.4 -0.6 -0.5 -0.7 -0.3M813.9 395.2l-0.3 -0.9 -0.2 -0.8 -0.3 -0.9M821.3 401l1 -3.4 0.2 -3.6M822.3 396.7l-0.7 -1 -0.8 -0.9 -1 -0.8M819.8 394l-0.7 0.1 -0.8 0.1 -0.7 -0M819.8 394l-0 -0.8 -0.3 -0.9 -0.3 -0.8M820.8 394.8l0.4 -0.7 0.2 -0.7 0.2 -0.7M822.5 394l-0.4 -0.7 -0.3 -0.7 -0.3 -0.7M822.5 394l0.4 -0.6 0.4 -0.5 0.6 -0.4M822.3 405l-3.2 0.5 -3.4 -0.8 -3.4 0.7 -3.4 0.3 -3.4 0.5 -3.4 0.2 -3.1 0.4M806.7 406l-0.9 -0.1 -0.8 0.1 -0.8 0.4M804.2 406.4l-0 0.8 -0.3 0.7 -0.3 0.6M804.2 406.4l-0.5 0.1 -0.6 0.3 -0.4 0.3M799 406.8l-0.8 0.3 -0.7 0.5 -0.7 0.2M799 406.8l-0.8 -0.1 -0.8 -0.3 -0.9 -0.1M836.3 406l0.4 -3.2 -2.1 -2.6 -2.8 -2 -2.8 -1.8M829.7 396.9l-0.1 -1.3 0.2 -1.2 0.2 -1.2M830 393.2l0.5 -0.6 0.3 -0.7 0.2 -0.7M830 393.2l-0.4 -0.8 -0.2 -0.9 -0.3 -0.8M829.8 394.4l0.4 -0.6 0.2 -0.8 0.3 -0.6M829 396.4l-0.8 -0 -0.8 -0.1 -0.8 -0.2M829 396.4l-0.4 -0.8 -0.4 -0.9 -0.6 -0.6M836.3 401l0.5 -3.5 0.7 -3.5M837.5 394l-0.1 -0.9 -0.3 -0.9 -0.2 -0.8M837.5 394l0.4 -0.6 0.5 -0.5 0.6 -0.5M837.7 403.6l3.2 -1.7 2.9 -2.6 2.2 -3.2 1.4 -3.4M841.6 401.3l1.5 0.2 1.5 -0.3 1.5 0.2M846.1 401.4l0.5 -0.7 0.4 -0.8 0.2 -0.8M846.1 401.4l0.8 0.6 0.7 0.9 0.5 0.9M844.6 401.2l0.2 -0.9 0.1 -0.9 0.1 -0.9M847.4 392.7l-0.3 -0.4 -0.1 -0.6 -0 -0.5M847.4 392.7l0.7 -0.5 0.9 -0.3 0.9 -0.4M844 398.7l3.7 -0.7 3.3 -1.7M851 396.3l0.6 -0.5 0.5 -0.5 0.6 -0.5M851 396.3l0.7 0 0.7 -0.2 0.7 0M845.2 408.6l3 -1.6 2.9 -2.1 2.2 -2.9 1.3 -3.4 2.7 -2.2M851.5 404.4l0.8 0.4 0.8 0.3 0.7 0.4M853.8 405.5l0.3 0.6 0.1 0.6 0 0.6M853.8 405.5l0.5 -0.3 0.4 -0.1 0.5 -0.1M852.3 404.8l0.3 0.3 0.5 0.3 0.4 0.3M857.3 396.4l0.5 -0.5 0.4 -0.7 0.4 -0.6M857.3 396.4l0.9 0 0.9 0.1 0.9 -0.1M851.5 404.9l3.8 -1.3 4.2 -0.6 4 0.1M863.5 403.1l0.6 -0.3 0.6 -0.3 0.7 -0.1M863.5 403.1l0.9 0.2 0.9 0.4 0.7 0.6M851.4 406.5l1.8 3.6 3.9 1.5 3.9 0.9M859.6 412.2l0.8 1.1 1 1 0.7 1.2M862.1 415.5l0.1 1.2 0.6 1 0.2 1.2M862.1 415.5l0.5 0.7 0.7 0.6 0.7 0.5M861 412.5l0.6 -0.3 0.5 -0.4 0.4 -0.5M861 412.5l0.3 0.7 0.3 0.7 0.2 0.7M819.8 413.7l-3.3 -1 -3.8 0.4 -3.4 -1.6 -3.5 -1.1 -3.7 -0.9 -3.1 1.7M811.4 412.5l-1.5 0 -1.4 -0.2 -1.4 0.1M807.1 412.4l-0.6 -0.6 -0.7 -0.5 -0.8 -0.4M807.1 412.4l-0.6 0.8 -0.6 0.7 -0.9 0.4M808.5 412.3l-0.7 -0.5 -0.6 -0.5 -0.8 -0.4M799 411.2l-0.4 0.6 -0.5 0.6 -0.4 0.5M799 411.2l-0.7 0.1 -0.8 0.1 -0.7 -0.2M812.2 413.8l-3.5 0.4 -3.5 -0.4M805.2 413.8l-0.7 0.4 -0.7 0.3 -0.8 0.3M805.2 413.8l-0.6 -0.7 -0.4 -0.7 -0.5 -0.8M819.8 416.2l-3.3 -0.3 -3.5 0.3 -3.5 -0.3 -3.5 0.4 -3.2 -0.1M805.2 416.3l-0.9 1.2 -0.8 1.3 -0.8 1.2M802.7 420l-0.7 0.7 -0.7 0.5 -0.8 0.5M802.7 420l-0.3 1.2 -0.1 1.2 -0.4 1.1M803.5 418.8l-0.5 0.7 -0.4 0.8 -0.5 0.7M802.8 416.2l-0.5 0.6 -0.3 0.6 -0.5 0.6M802.8 416.2l-0.7 -0.4 -0.5 -0.7 -0.3 -0.8M822.3 420.1l-3.1 0.4 -3.1 1.4 -3.3 0.3 -3.2 1.2 -3.3 0.6 -3.4 -0.4 -3.3 0.8 -3.1 -0.6M809.7 423.3l-1 -0.6 -1.2 -0.3 -1.1 -0.4M806.4 422l-0.7 0.2 -0.7 0.1 -0.7 0.1M806.4 422l-0.6 -0.3 -0.5 -0.4 -0.6 -0.2M806.4 422l-0.7 -0.5 -0.7 -0.5 -0.7 -0.6M800.3 424.2l-0.9 -0.6 -0.7 -0.9 -0.8 -0.8M797.9 421.9l-0 -0.7 -0.1 -0.6 -0.1 -0.6M797.9 421.9l-0.8 -0.5 -0.7 -0.6 -0.8 -0.4M796.5 423.8l-0.7 -0.2 -0.6 -0.3 -0.6 -0.3M796.5 423.8l-0.5 -0.3 -0.6 -0.3 -0.4 -0.4M813.6 422.7l-2.1 2.6 -2.9 2 -3.1 1.8 -3.2 1.6 -3.3 0.5M809.5 426.7l-0.4 1.3 -0.4 1.2 -0.2 1.4M808.5 430.6l-0.6 0.7 -0.6 0.6 -0.8 0.6M808.5 430.6l0.8 0.8 0.4 1.1 0.2 1.1M809.1 428l0.5 0.6 0.7 0.5 0.6 0.5M799 431.2l-0.5 0.6 -0.4 0.8 -0.6 0.6M799 431.2l-0.9 -0.4 -0.7 -0.6 -0.6 -0.6M816.2 424l-2.1 4 -1.5 4.3M813.1 430.9l-1 1.1 -0.7 1.4 -0.5 1.4M810.9 434.8l-0.9 0.4 -1.1 0.2 -0.9 0.3M810.9 434.8l0.5 0.8 0.8 0.6 0.8 0.7M812.6 432.3l-0.2 0.7 -0 0.7 -0.1 0.8M812.6 432.3l-0.4 0.4 -0.5 0.4 -0.5 0.3M823.7 421.5l-0.4 2.9 -0.3 3.2 -0.9 3.1 -1.4 3 -1.8 2.3M819.6 435.1l-1 -0.4 -0.9 -0.5 -0.8 -0.6M816.9 433.6l-0.9 0.2 -0.8 -0.1 -0.9 0.1M816.9 433.6l-0.2 -0.8 -0.3 -0.7 -0.2 -0.9M817.7 434.2l-0.1 0.6 -0.2 0.6 -0 0.6M818.9 436l0.1 0.6 0.2 0.6 0.2 0.6M818.9 436l-0.6 0.3 -0.5 0.4 -0.6 0.3M825.1 424l1.6 3.4 0.7 3.6M827.2 430l-0.2 1.2 -0.1 1.1 -0.4 1.1M826.5 433.4l0.4 0.6 0.4 0.6 0.5 0.5M826.5 433.4l-0.6 0.6 -0.4 0.8 -0.2 0.8M827 431.2l-0.6 0.2 -0.7 0.2 -0.6 0.3M827.4 431l0.6 0.4 0.7 0.4 0.6 0.2M827.4 431l-0.1 0.5 -0.3 0.5 -0.4 0.4M841.2 420.2l-0.9 3 -0.1 3.3 -2.5 2.2 -1.8 2.8 -1.8 2.7 -0.3 3.1M834.5 433.7l-1 0 -1 0.2 -1 0.3M831.5 434.2l-0.7 -0.4 -0.8 -0.4 -0.8 -0.2M831.5 434.2l-0.3 0.7 -0.6 0.6 -0.6 0.6M833.5 433.7l-0.4 0.5 -0.4 0.5 -0.3 0.5M833.8 437.3l0.4 0.3 0.5 0.3 0.5 0.4M833.8 437.3l-0.3 0.7 -0.4 0.7 -0.2 0.8M839.8 426.3l-4.3 0 -4 1.2M833.3 427l-0.8 -0.6 -0.8 -0.3 -0.9 -0.3M830.8 425.8l-0.8 0.1 -0.7 0.3 -0.7 0.3M830.8 425.8l-0.4 -0.6 -0.6 -0.6 -0.5 -0.5M831.5 427.5l-0.4 0.4 -0.4 0.3 -0.4 0.3M831.5 427.5l-0.7 -0.5 -0.6 -0.5 -0.4 -0.7M842.6 421.5l1.6 3.1 2.1 3.1 1.1 3.3M847 429.8l0.7 0.9 0.4 1 0.7 0.8M848.8 432.5l0 0.7 -0.1 0.7 0.1 0.7M848.8 432.5l0.6 0.2 0.6 0.1 0.5 0.4M848.1 431.7l0.3 0.5 0.2 0.6 0.3 0.7M847.4 431l0.5 0.4 0.4 0.5 0.4 0.4M847.4 431l-0.1 0.8 -0.1 0.9 -0 0.8M846.4 427.3l2.6 -1.5 2.3 -2.4 2.3 -2M851.3 423.4l0.9 -0.1 0.8 -0.1 0.8 -0M853.8 423.2l0.5 0.4 0.5 0.5 0.3 0.6M853.8 423.2l0.6 -0.2 0.6 -0.1 0.6 -0.3M853.6 421.4l0 -0.7 0.3 -0.6 0.3 -0.6M853.6 421.4l0.6 0.1 0.6 0 0.6 0M838.8 429l0.5 1.7 0.6 1.6M839.9 432.3l0.3 0.4 0.4 0.4 0.3 0.5M839.9 432.3l-0.4 0.8 -0.1 0.8 -0.1 0.9"/></g><g fill="none" stroke="#80503c" stroke-linecap="round" stroke-linejoin="round"><path stroke-width="1.5" d="M516.2 544.8l0.2 -3.4 -1.7 -3.4 0.1 -3.7 -1.6 -3.2 -0.6 -3.4M515.2 536.1l3.1 -1.7 2.6 -2.8 1.3 -3.1 0.5 -3.7 -1.4 -3.3M522.7 531.1l2.9 -1.5 3.2 -1.6 3.2 0.1 2.8 1.8M517.7 542.5l3.2 0 3.4 0.7 3.4 -0.6 3.4 -0.7 3.3 -0.5 3.4 -0.1 3.2 -0M514.8 537.4l-2.7 -1.5 -3.3 -0.6 -3.1 0.3 -3 0.6M516 545.1l-3.2 0.7 -3.1 1.7 -3.6 0 -3.5 0.1 -3.5 -0.1 -3.5 -0.1 -3.4 1 -2.6 2.5 -1.9 2.7M507.4 549l-1.9 2.8 -1 3.5 -2.4 2.7 -2.8 2.3 -2.5 2.7 -2.9 2.1 -2.5 2.2M516.2 547.7l-0.7 3.1 0.4 3.3 -0.1 3.3 -1.1 3.1 -2.2 2.4 -2.3 1.9M564.4 537.3l1 -3.2 -0.1 -3.5 -1.5 -3.2 -1.2 -3.3 -1.8 -2.9 -1.6 -3.2 -0.1 -3.6 -1.5 -2.9M561 522.5l-3.2 -0.3 -3.3 -0.4 -3.4 0 -3.4 -0.5 -3.4 0.4 -3.4 0.4 -3.2 0.4M549.8 521.1l-2.6 -2.8 -2 -3.1M561.5 517.4l2.3 -2 2.7 -1.9 2.8 -1.7 2.5 -2.2 0.6 -3.1M565.1 532.3l2.2 -2.5 1.6 -3.2 1.6 -3.2 2.5 -2.4 2.1 -2.9 1.9 -2.9 2.1 -2.8 2.2 -2.8 1.1 -3.1M575.2 518.6l3 -2.6 3.6 -2.1 3 -2.5M570.2 525l3.4 -1.3 3.9 0.3 3.5 0.6 2.9 2.3 2.2 2.9M566.5 536.2l3.1 0.1 3.1 -1.2 3 -1.1 3.1 -1.1 2.9 -1.5 3.1 -1.2 2.6 -2 2.4 -1.8M586.4 547.3l1.8 -2.6 2.6 -2.1 2.8 -1.8 2.9 -1.7 1 -3.3 1.2 -3.1 0.2 -3.5 0.4 -3.3 0.7 -3.2M597.7 537.4l3 -1.2 3.5 -0.4 3.2 -0.9 3.3 -1 3.3 -1.2 3.4 -0.8 3.5 0 3.2 -1.4 3.2 -0.4M590.2 543.8l3.1 -0.6 3.3 0.6 3.3 0.5 3.3 -0.6 3.3 -0.4 3.3 -0.3 3.2 -1.1 3.3 0.9 3.3 -0.9 3.3 1 3.1 -0.4M605.2 546.4l1.9 2.4 2.4 2.3 2.2 2.6 0.9 3.3 2.3 2.5 1.2 2.8M597.5 545.2l-0.4 3.6 0.4 3.8 0.6 3.7 0.6 3.5M590.2 601.2l2.8 -1.2 3 -1.2 2.7 -1.7 2.4 -2.2 1.3 -3 2.5 -2.4 3.3 -0.6 3.3 0.4 3.2 -0.5 3.3 0.3 3 0.3M600.2 597.5l3.1 0.3 3.4 0 3 -0.3M590.2 601.3l3.2 0.6 3.2 1.4 3.3 1.3 2.4 2.6 3.3 1.3 2.4 2.7 3 1.2M597.6 604l0.6 2.9 0.5 3.3 1.8 2.7 2 2.5 2.3 1.9M589.9 602.7l-0.6 3.2 -1.2 3.3 -0.5 3.5 -0.8 3.5 -2.2 2.9 -0.8 3.2M588.5 607.5l-3.5 -0.7 -3.8 -0.1 -3.9 -0.6 -3.3 1.3M588.9 612.7l0.8 3.1 2.3 2.8 1.6 3.1 2.7 2.1 2.3 2.3M543.8 610.2l-0.1 3.2 1.3 3.2 1.3 3 2 2.7 1.6 2.9 1.1 3.2 1.1 3.2 0.3 3.2M544.9 617.7l-2.4 3.5 -2.4 3.6M543.5 610.1l-3.1 0.3 -3.2 0.9 -3.1 1.2 -3 1.3 -3.2 1 -2.9 1.7 -3 1.4 -2.8 1.8 -2.7 1.4M533.6 612.7l-2.2 3.3 -1.3 3.8M547.7 618.6l2.6 -2.4 3.3 -1.6 3.3 -1.7 3.5 -1 3.5 -1.1 3.4 -0.7M555.2 615.2l2.1 3.1 2.5 2.8M517.3 596.1l-2.5 -2.3 -2.6 -2.6 -2.3 -2.9 -2.5 -2.8 -2.2 -3 -2.5 -2.3M517.7 596.2l3.2 -1.2 3.5 0.1 3.3 -1.4 3.7 0.2 3.1 -2 3.5 -0.5 3 -1.3M517.3 597.7l-2.2 2 -2.6 2.1 -2.3 2.4 -3.4 0.8 -2.8 1.6 -2.5 2.2 -2.8 1.7 -2.3 1.8M509.9 604l-0.3 3.3 -1.2 3.4 -0.9 3.4 -1.2 3.2M516.3 599l1.5 4 0.9 4.3M511 590.1l-2.5 1.8 -3.4 0.6 -2.3 2.4 -2.3 2.4 -0.9 3.3 -0.8 2.9M522.3 556.4l-2 2.7 -3.1 2.1 -2.9 1.8 -2.8 1.9"/><path stroke-width="1" d="M515.8 540.2l-2.6 0.2 -2.5 0.5 -2.6 0.1M508.1 541l-1.7 -1.3 -1.3 -1.7 -1.6 -1.3M508.1 541l-1.2 1.5 -1 1.5 -1 1.5M510.7 540.9l-0.4 -1.5 -0.2 -1.6 -0.3 -1.5M512.9 529.5l-2.5 -0.6 -2.5 -0.1 -2.5 0.6M505.4 529.4l-0.9 1.3 -1.2 1.1 -0.9 1.3M505.4 529.4l-1.4 0.3 -1.4 0 -1.4 -0M505.4 529.4l-1.7 -0.2 -1.6 -0.8 -1.7 -0.6M507.9 528.8l-1.2 0.9 -1.5 0.5 -1.3 0.7M512.6 527.7l-0.4 -0.8 -0.1 -1 -0.2 -0.9M512.6 527.7l0.1 -1.2 0.4 -1.2 0.7 -1M520.4 532.1l2.5 0.1 2.4 0.1 2.5 -0M527.8 532.3l1.6 -0.9 1.8 -0.7 1.9 -0.4M527.8 532.3l1 0.9 0.8 1.2 0.8 1.1M525.3 532.3l0.8 1.2 0.4 1.4 0.1 1.5M521.9 522.8l-2.5 -0.5 -2.2 -1.2 -2.4 -0.4M514.8 520.7l-1.4 -0.9 -1.2 -1 -1.3 -1M514.8 520.7l-1.6 0.5 -1.6 0.1 -1.6 -0.4M521.3 521.5l-0.8 -1.3 -0.6 -1.5 -0.8 -1.4M521.3 521.5l0.2 -1.5 0 -1.5 -0 -1.5M534.2 529.5l2.4 0.3 2.4 0.3 2.4 -0.2M541.4 529.9l1 -1.2 1.3 -0.8 1.5 -0.7M541.4 529.9l1.7 1.1 1.6 1.3 1.3 1.6M534.8 529.9l1.2 -0.1 1.2 0.1 1.2 0.4M534.8 529.9l0.5 1 0.7 0.9 0.8 0.7M524.8 543.1l2 1.5 2.2 0.9 2 1.5M531 547l0.8 1.9 0.7 1.8 0.8 1.9M531 547l1.7 0.3 1.6 0.3 1.7 0.3M529 545.5l1.5 0.3 1.5 0.2 1.4 0.1M534.9 541.4l1.6 -2.1 1.5 -2.1 0.7 -2.4M538.7 534.8l1.7 -0.5 1.6 -0.6 1.7 -0.4M538.7 534.8l0 -1.6 -0 -1.6 -0.1 -1.5M541 541.3l0.9 -0.9 0.8 -1 0.9 -0.8M541 541.3l1.1 0.8 1 0.9 1.1 0.8M503.6 536l-1 1.9 -0.6 2.2 -0.2 2.2M501.8 542.3l-1.2 1.4 -1.2 1.5 -0.8 1.6M501.8 542.3l-0 1.4 0.2 1.4 0.4 1.3M502 540.1l-1.2 -0.6 -1.2 -0.6 -1.2 -0.3M502.7 536.2l-0.6 0.9 -0.6 1 -0.5 1M502.7 536.2l-0.9 -0.9 -0.8 -0.9 -0.7 -1M489.9 550.6l-1.5 -0.5 -1.5 -0.6 -1.2 -1.1M485.7 548.4l-1.2 -0.1 -1.2 -0.2 -1.2 -0.5M485.7 548.4l-0.8 -0.9 -0.9 -0.8 -1 -0.8M486.9 549.5l-0.3 -0.9 -0 -1 -0.2 -0.9M508.5 547.5l-1.1 -2.2 -1.1 -2.1 -1.8 -1.6M504.5 541.6l-1.8 -0.1 -1.7 0.1 -1.8 0M504.5 541.6l-1.3 -0.9 -1.5 -0.6 -1.2 -1M504.5 541.6l-0.7 -1.3 -0.3 -1.4 0.1 -1.4M507.5 547.5l-1.9 0.8 -1.9 0.8 -2.1 0.6M501.6 549.7l-1 0.8 -1.2 0.5 -1.3 -0M501.6 549.7l-1.4 -0.9 -1.5 -0.8 -1.6 -0.4M487.7 553.6l-0.8 1.3 -0.5 1.5 -0.9 1.2M487.7 553.6l-1.2 0.8 -1.1 1 -0.7 1.3M500 559.7l-0.3 2.2 -0.6 2.2 -0 2.3M499.1 566.4l0.9 1.3 1.1 0.9 1.1 1.1M499.1 566.4l-0 1.4 -0.2 1.3 0.2 1.4M499.1 566.4l-1.4 1 -1.7 0.5 -1.7 -0M499.7 561.9l-0.8 1.2 -1 0.9 -0.9 1M497.7 562l-1.8 0.9 -1.9 0.6 -2 0.3M492 563.8l-1.3 -1 -1.1 -1.2 -0.7 -1.6M492 563.8l-1 0.6 -1.1 0.4 -1.1 0.4M495.9 562.9l-1.2 -0.2 -1.2 -0 -1.1 0.3M491.4 567.3l-0.2 1.4 -0.5 1.3 0 1.4M491.4 567.3l-1.3 -0 -1.3 0.2 -1.4 -0.1M514.8 560.2l0.6 1.8 0.2 1.8 0.8 1.7M516.4 565.5l-0.4 1.2 -0.4 1.1 -0.3 1.2M516.4 565.5l0.9 0.7 0.8 0.8 0.8 0.8M515.4 562l-0.1 1.1 0.2 1.1 0.3 1M510.7 564.4l0.2 2.1 0.8 2 0.1 2.2M511.8 570.7l0.6 1.3 0.2 1.3 -0.1 1.4M511.8 570.7l-0.6 1 -0.7 1 -1.1 0.6M511.7 568.5l1.2 0.4 1.1 0.8 1 0.8M510.2 564.8l-0.2 1 -0.5 0.9 -0.7 0.7M510.2 564.8l-1.3 0.8 -1.1 1 -0.9 1.3M557.6 511.6l-1.3 -0.5 -1.1 -0.9 -1.3 -0.5M553.9 509.7l-0.9 -0.1 -0.8 -0 -0.9 -0.3M553.9 509.7l-0.6 -0.8 -0.8 -0.7 -0.8 -0.6M556.3 511.1l-0.7 0.4 -0.9 0.2 -0.7 0.4M559 514.2l0.7 -1.4 0.8 -1.4 1.3 -1M561.8 510.4l0.3 -1.3 0.1 -1.4 0 -1.4M561.8 510.4l1 -0.5 1.1 -0.4 1.2 -0.2M560.5 511.4l1 0.1 0.9 0.4 0.7 0.6M561 521.6l0.1 -2.2 -0.4 -2.2 -0.6 -2.1M560.1 515.1l0.4 -1.2 0.4 -1.2 0.4 -1.2M560.1 515.1l-1 -1.3 -0.6 -1.5 -0.9 -1.4M561.1 519.4l1.3 -0.1 1.3 0.1 1.3 -0M557.6 511.5l-1.1 -1 -1.2 -1 -1.2 -0.7M557.6 511.5l-0.1 -1 0 -0.9 -0.1 -1M543.9 521.7l-1 1.1 -0.8 1.2 -0.5 1.3M541.6 525.3l0.2 1.1 0.1 1.2 -0.1 1.1M541.6 525.3l-0.2 0.9 0.1 0.8 -0.1 0.9M541.6 525.3l-0.8 0.5 -0.6 0.7 -0.6 0.8M539.2 522.3l-0.7 1.8 -0.3 1.9 -0.1 1.9M538.1 527.9l1.1 1.1 1.2 1 1.5 0.6M538.1 527.9l-0.7 0.8 -0.7 0.9 -0.6 0.9M538.2 526l1 0.6 0.9 0.6 1.1 0.4M537.7 522.5l-1.1 0.3 -1.3 0.2 -1.2 -0.2M537.7 522.5l-0.8 -0.5 -0.7 -0.7 -0.6 -0.7M547.6 518.6l0.3 -2.2 0.4 -2.2 0.8 -2.1M549.1 512.1l-0.6 -1.3 -0.3 -1.5 -0.4 -1.4M549.1 512.1l0.7 -1.3 1 -1.2 1.1 -1M548.3 514.2l-1.3 -0.4 -1.1 -0.8 -1.2 -0.5M545.2 515.2l-0.9 -0.8 -0.8 -1 -1 -0.6M545.2 515.2l-0 -1.4 -0 -1.4 0.2 -1.3M569.9 511.2l2.2 -0.9 2.4 -0.4 2.3 -0.2M576.8 509.7l1.1 0.8 1.1 0.8 1.3 0.4M576.8 509.7l1.6 -0.9 1.5 -0.9 1.4 -1.1M572.1 510.3l1.3 0.6 1.4 0.5 1.4 -0M572.4 506.5l-0.2 -1.1 0.1 -1.1 -0.1 -1M572.4 506.5l0.3 -1.2 0.7 -1.1 1 -0.7M570.1 524.1l0.1 -2.1 0.5 -2 0.9 -1.9M571.6 518.1l0.2 -1.5 0.5 -1.4 0.9 -1.2M571.6 518.1l1.4 -0.8 1.2 -1.1 1.1 -1.1M570.7 520l-1.2 0 -1.2 -0.4 -1.2 -0.3M574 519.7l2 -1.1 2.1 -1.1 1.6 -1.7M579.7 515.8l0.8 -1.5 0.7 -1.6 0.2 -1.8M579.7 515.8l1.9 0.3 1.7 0.8 1.5 1.2M576 518.6l1.4 0.3 1.3 0.5 1 1M578.4 513.3l1.8 -1.3 1.6 -1.6 2 -1M583.8 509.4l1.4 0.4 1.3 0.5 1.3 0.5M583.8 509.4l1 -1.6 1.1 -1.4 1.6 -0.9M582.4 506.5l0.2 -1.3 0.1 -1.3 -0 -1.2M582.4 506.5l0.8 -0.8 0.9 -0.8 1 -0.5M580 514.9l2.6 0.2 2.4 1.1 2.6 0.2M587.6 516.4l1.2 -1.3 1.5 -1 1.7 -0.7M587.6 516.4l1.4 0.4 1.4 -0.1 1.4 0.1M587.6 516.4l0.5 1.6 0.5 1.6 0.4 1.7M585 516.2l0.6 1.4 1.1 1.1 0.7 1.4M578.4 515.9l1.6 -0 1.6 0.1 1.6 0M583.2 516l0.7 0.9 0.8 0.9 0.4 1M583.2 516l0.8 -0.6 0.6 -0.7 0.3 -0.9M580 515.9l0.4 -0.9 0.6 -0.7 0.6 -0.8M584.8 511.4l0.5 -0.9 0.7 -0.8 0.9 -0.6M584.8 511.4l1 0.1 1.1 -0 1 -0.3M576.6 523.9l1.5 -0.9 1.5 -0.8 1.2 -1.3M580.8 520.9l0.6 -1.2 0.4 -1.4 0.8 -1.2M580.8 520.9l0.4 -0.8 0.2 -1 0.3 -0.9M580.8 520.9l1.3 -0.5 1 -0.9 1.1 -0.9M578.1 523l1 0.1 1 -0.2 1 -0.4M586.1 529.8l0.9 0.8 1 0.7 0.9 0.7M586.1 529.8l0.5 0.9 0.4 0.9 0.2 1M581.3 531.6l2.3 1 2 1.5 1.5 2M587.1 536.1l1.7 0.6 1.5 1 1.1 1.4M587.1 536.1l0.5 1.8 0.5 1.9 0.7 1.8M587.1 536.1l-0.5 1.7 -0.6 1.8 -0.6 1.7M581.3 531.6l0.6 -2.3 1.3 -2 1.4 -2M584.6 525.3l1.3 -0.7 1.4 -0.4 1.2 -0.8M584.6 525.3l-0.2 -1.5 0.3 -1.5 0.7 -1.4M583.2 527.3l1.4 -0.3 1.5 0 1.4 -0.2M589.8 526.4l0.7 -0.7 0.9 -0.4 0.8 -0.5M589.8 526.4l1.3 -0.5 1.1 -0.8 1.1 -0.9M597.8 535.1l0.9 -1.2 1 -1.1 1 -1.2M600.7 531.6l1.2 -0.2 1.2 -0.1 1.2 0.4M600.7 531.6l0.2 -1 0.1 -1 0.2 -1.1M598.7 533.9l0.6 0.6 0.7 0.6 0.7 0.6M599.3 526.1l-0.9 -1.3 -1.3 -0.9 -1.1 -1.2M596 522.7l-1.1 -0.2 -1 -0.2 -1 0.2M596 522.7l-1.1 -0.7 -1.1 -0.5 -1.2 -0.5M596 522.7l-0.2 -1 -0.3 -1 -0.5 -0.9M600 522.7l-0.6 -1.3 -0.8 -1.2 -0.7 -1.3M600 522.7l0.8 -0.7 1 -0.4 1 -0.4M611.2 533.7l0.9 -2.3 1.1 -2.3 1.5 -1.9M614.7 527.2l0.4 -1.4 0.5 -1.3 0.8 -1.1M614.7 527.2l1.4 -1.2 1.3 -1.2 1 -1.4M612.1 531.4l-0.8 -1.3 -1.1 -1 -0.8 -1.2M617 532l2.4 0.7 2.6 -0.2 2.5 -0.2M624.5 532.3l1.9 0.2 2 -0.5 1.9 -0.5M624.5 532.3l1.5 -1 1.7 -0.8 1.8 -0.4M622 532.5l1.4 -0.5 1.3 -0.7 1.4 -0.5M627.3 530.1l1.1 -0.2 1.2 -0.2 1.1 -0.3M627.3 530.1l1.4 0.1 1.4 0.3 1.2 0.8M615.8 542.6l0.6 2.5 -0 2.4 0.8 2.4M617.2 549.9l1.3 1.5 1.4 1.5 1.8 1.1M617.2 549.9l0.6 1.9 -0 2 -0 2M616.4 545.1l1.1 0.9 1.4 0.6 1.5 0.1M615.8 542.7l1 2.2 0.6 2.4 0.1 2.5M617.5 549.8l0.6 1.7 0.7 1.6 0.7 1.6M617.5 549.8l0.2 1.5 -0.2 1.6 -0.5 1.4M617.5 549.8l-1.8 1.2 -1.8 1.1 -2 0.6M617.4 547.3l1.4 0.4 1.4 0.4 1.3 0.8M611.5 542.4l0.8 -2.5 0.8 -2.4 0.3 -2.6M613.4 534.9l-0.5 -2 -0.4 -2.1 -0.5 -1.9M613.4 534.9l-0.3 -1.7 0.3 -1.7 -0.2 -1.8M613.4 534.9l1.1 -1.4 1.4 -1 1.7 -0.5M612.3 539.9l1.4 -0.5 1.3 -0.8 1.2 -1.1M626 542.5l0.9 -0.9 0.7 -1.1 0.8 -1M626 542.5l1.2 0.6 0.9 1 0.9 1.1M614.5 559.1l2 -0 2 -0.3 1.8 -1M620.3 557.8l1.6 -0.4 1.4 -0.7 1.5 -0.7M620.3 557.8l0.4 -1.2 0.2 -1.2 -0.1 -1.3M616.5 559.1l0.9 0.8 0.8 0.9 0.6 1M608.5 550.2l2.3 0.3 2.4 -0 2.3 -0.2M615.5 550.3l1.4 -1.2 1.2 -1.4 1.6 -0.9M615.5 550.3l1.1 1.4 1.4 1.2 1.1 1.4M616.1 562.3l0.7 0.9 0.4 1.2 -0 1.2M616.1 562.3l-0.1 1.6 -0.6 1.4 -0.6 1.5M598.6 559.1l-1.4 1.3 -1.3 1.5 -1 1.6M594.9 563.5l-1.4 0.1 -1.5 0 -1.4 -0.1M594.9 563.5l-0.3 1.5 -0.5 1.5 -0.9 1.3M595.9 561.9l0.3 1.1 -0 1.2 -0.5 1M598.7 559.8l0.8 1 0.8 1 1.1 0.8M598.7 559.8l0 0.9 -0.2 0.8 -0.5 0.8M601.9 593.1l-1.2 -2 -0.6 -2.2 -0 -2.3M600.1 586.6l0.9 -1.2 0.5 -1.4 -0 -1.5M600.1 586.6l-0.1 -1.5 -0.2 -1.4 -0.1 -1.4M609.3 589l1.3 -0.9 1.5 -0.4 1.6 -0.3M613.7 587.4l1.3 -0.4 1.1 -0.5 1.2 -0.6M613.7 587.4l1 -0.1 0.9 0.1 0.9 -0M601.3 594.3l-0.9 -2.4 -0.9 -2.4 -1.5 -2.1M598 587.4l-0.8 -1.2 -0.5 -1.3 -0.7 -1.3M598 587.4l-0.4 -1.8 -0.9 -1.5 -1.3 -1.3M600.4 591.9l0.7 -1.4 0.3 -1.5 0.2 -1.5M621 589.4l1.1 -0.2 1.2 0.2 1.1 -0M621 589.4l1 0.9 1 0.9 0.7 1.1M606.3 597.8l1.8 1.6 1.5 2 2 1.4M611.6 602.8l1.9 -0.1 1.9 0.3 1.9 0.3M611.6 602.8l1.3 0.9 1.6 0.5 1.5 0.2M611.6 602.8l0.5 1.7 0.3 1.8 0.1 1.7M609.8 597.5l1 -1 1.1 -1.1 0.7 -1.4M609.8 597.5l0.9 0.8 1.2 0.5 0.9 0.8M606.5 609.5l1.9 1.4 2.2 1 2.3 0.5M612.9 612.4l1.4 0.5 1.3 0.8 1.1 1M612.9 612.4l1.8 -0.4 1.8 -0.4 1.9 0.1M600.6 605.4l-0.4 1.6 -0.7 1.5 -0.7 1.4M598.8 609.9l0.2 1 0 1 0.2 1M598.8 609.9l-0.4 1.4 -0.1 1.3 0.2 1.4M598.8 609.9l-0.9 1 -1.1 0.8 -1 0.8M611 612.4l1.1 0 1.1 -0.2 1 -0.4M611 612.4l0.8 1.3 0.3 1.5 -0.1 1.5M603 615.8l-0.2 1.8 -0.4 1.7 -0.6 1.6M601.8 620.9l-1 0.9 -1.1 0.9 -0.8 1.1M601.8 620.9l0.4 1 0.6 0.9 0.5 0.8M602.4 619.3l-0.8 0.6 -0.8 0.7 -0.7 0.8M598.4 608.4l-1 1.3 -0.8 1.4 -1.1 1.2M595.5 612.3l-0.3 1.3 -0.3 1.3 -0.1 1.3M595.5 612.3l-1 0.7 -1.1 0.6 -1.3 0.2M597.4 609.7l-0.7 -0.7 -0.6 -0.8 -0.4 -0.9M604.8 617.3l1 0.7 1.1 0.6 0.7 1M604.8 617.3l0.5 1.3 0.6 1.2 0.3 1.3M585.4 618l-2.4 -0.2 -2.4 -0.7 -2.4 -0M578.2 617.1l-1.4 -0.9 -1.1 -1.1 -1.5 -0.7M578.2 617.1l-1.3 0.7 -1.4 0.4 -1.5 -0.1M583 617.8l-0.5 1.4 -0.7 1.3 -0.7 1.2M583.8 622.3l0.9 1 1.2 0.6 1.3 0.6M583.8 622.3l-0.8 0.7 -0.9 0.7 -0.7 0.7M575.8 606.7l-2.4 -0.2 -2.3 -0.7 -2.4 -0.2M568.7 605.6l-0.8 1.2 -0.7 1.3 -0.3 1.5M568.7 605.6l-1.7 -0.2 -1.7 -0.7 -1.8 -0.3M568.7 605.6l-1.8 -1 -1.4 -1.4 -1.5 -1.4M571.1 605.8l-0.8 -1.2 -0.9 -1.1 -0.6 -1.3M574 607.4l-0.9 1.3 -0.5 1.5 -0.4 1.5M574 607.4l-1.4 -0.2 -1.4 0.1 -1.4 -0.3M596.9 624.4l0.9 2.4 1.6 2 1.7 2M601.1 630.8l1.8 0.9 1.7 1.1 1.3 1.4M601.1 630.8l0.6 1.4 0.1 1.6 -0.4 1.5M601.1 630.8l0.1 1.5 0.4 1.5 0.5 1.4M597.8 626.8l-1.1 1.2 -1.4 0.7 -1.4 0.6M598.6 626.1l1.2 0.2 1.3 -0 1.3 -0.2M598.6 626.1l0.2 1.5 -0.2 1.5 -0.6 1.4M551.1 628.9l2.2 1.2 2.3 0.7 2 1.4M557.6 632.2l1.5 -0.9 1.3 -1.2 1 -1.5M557.6 632.2l1.1 1.7 1.4 1.4 1.3 1.5M547.1 620.7l1.8 -0.4 1.6 -0.7 1.8 -0.2M552.3 619.4l0.7 -0.8 1 -0.6 1 -0.5M552.3 619.4l1.2 0.4 1.2 0.6 1.3 0.3M550.5 619.6l0.9 0.6 1 0.4 1 0.5M552.4 634.8l0.6 0.7 0.3 0.9 0.2 0.9M552.4 634.8l-0.6 1.2 -0.6 1.3 -0.2 1.4M540.6 624.1l-2.4 0.6 -2.3 0.5 -2.4 0.7M533.5 625.9l-1.1 1.4 -1.3 1.3 -1.2 1.4M533.5 625.9l-1.5 0.7 -1.6 0.2 -1.6 0M533.5 625.9l-1.6 -0.2 -1.6 -0.3 -1.6 -0.1M535.9 625.2l-1.5 -0.2 -1.3 -0.6 -1.4 -0.5M540.1 624.8l0.7 1.4 0.3 1.5 0.3 1.5M540.1 624.8l-1.2 0.6 -0.9 1 -0.8 1.2M533.8 612.6l-1.3 2.1 -0.9 2.3 -1.1 2.2M530.5 619.2l-1.3 0.7 -1.3 0.8 -1.3 0.7M530.5 619.2l0.6 1.9 0 2 0.1 2.1M532.5 614.7l-0.3 1.4 -0.7 1.3 -0.6 1.4M517.4 620.6l-0.2 1.8 0.5 1.8 0.9 1.5M518.6 625.7l0.2 1.2 0.1 1.1 0.1 1.2M518.6 625.7l1 1 0.9 1.1 0.4 1.4M517.2 622.4l-1 0.4 -1 0.3 -0.9 0.6M520.5 618.9l-1.6 -0.1 -1.7 0.2 -1.5 0.6M515.7 619.6l-0.5 0.9 -0.1 1 -0.2 1M515.7 619.6l-0.9 -0.4 -0.9 -0.4 -0.7 -0.7M518.9 618.8l-0.5 -0.9 -0.2 -1 -0 -1M516.5 621.1l-0.6 1.3 -0.2 1.4 0.1 1.5M516.5 621.1l-1.6 -0.3 -1.5 -0 -1.6 -0.2M531.2 616.7l-0 2.3 -0.2 2.3 0.1 2.3M531.1 623.6l0.9 1.7 0.8 1.8 0.3 1.9M531.1 623.6l-0.4 1.5 -0.3 1.5 -0.2 1.5M531.1 623.6l-1.6 0.8 -1.6 0.4 -1.8 -0.2M531 621.3l1.1 0.9 1 1 1.1 0.9M530.1 619.8l0.1 1.4 0.1 1.4 0.2 1.4M530.1 619.8l-0.9 0.8 -0.8 1 -0.5 1.2M552.5 615.2l1.3 1 1.5 0.8 1.1 1.2M556.4 618.2l1.3 -0.2 1.2 -0.2 1.3 0.1M556.4 618.2l0.4 1.1 0.5 1 0.2 1.2M555.3 617l0 1 0.2 0.9 0.3 1M563.5 610.9l2.1 0.3 2.1 -0.4 2.2 -0.3M569.9 610.5l0.6 -1.1 0.4 -1.2 0.2 -1.3M569.9 610.5l1.7 0.5 1.7 0.4 1.7 0.1M567.3 610.1l1.2 -1 1.5 -0.6 1.4 -0.6M567.3 610.1l0.8 0.5 0.8 0.5 0.8 0.5M556.5 617.1l1.7 1.2 1.7 1.3 1.1 1.7M561 621.3l1.4 0.4 1.5 0.1 1.5 -0.3M561 621.3l0.2 1.7 -0.3 1.6 -0.1 1.7M559.9 619.6l0.8 0.8 1.1 0.7 1.2 0.2M559.8 621.1l1.4 0.2 1.3 0.5 1.2 0.7M559.8 621.1l0.8 0.9 0.6 1 0.9 0.9M506.2 583.8l-2 -0.3 -2 -0.2 -2 -0M500.2 583.3l-1.1 -1.3 -1 -1.3 -1.4 -0.9M500.2 583.3l-0.9 1 -0.9 0.9 -1.2 0.7M504.2 583.5l-0.9 0.8 -0.6 1 -0.4 1.1M503.6 581l-2.5 0.5 -2.5 -0.3 -2.3 -1.2M496.3 580l-1 -1.2 -0.7 -1.4 -0.5 -1.5M496.3 580l-1.9 0 -1.8 -0.4 -1.9 -0.4M502.7 580.2l-1.3 0 -1.3 0 -1.2 -0.4M502.7 580.2l-0.2 -1 -0.2 -0.9 -0.5 -0.9M534 592.3l1.5 0.3 1.6 -0 1.5 0.3M538.6 592.9l1.1 -0.6 1.1 -0.5 1 -0.7M538.6 592.9l0.7 0.9 0.8 0.7 0.8 0.9M535.5 592.6l0.4 0.9 0.5 0.8 0.3 0.9M525.5 594.7l1.1 1.1 1.1 1.2 1 1.3M528.7 598.3l1.3 0.1 1.3 -0.2 1.1 -0.6M528.7 598.3l0.6 1 0.5 1.2 0.2 1.2M526.6 595.8l0.8 -0.6 0.9 -0.3 0.9 -0.5M541 590.1l0.5 -1.5 0.1 -1.5 0.6 -1.4M541 590.1l1.6 0.3 1.5 0.3 1.6 0M505 606l-0.8 2.3 -0.4 2.3 -0.5 2.3M503.3 612.9l1.1 1.2 0.9 1.2 1 1.1M503.3 612.9l-0.8 1.1 -0.6 1.2 -0.4 1.3M512.1 602.3l0.5 2.2 0.3 2.2 0.2 2.2M513.1 608.9l1.2 1.3 1.4 1.1 1 1.4M513.1 608.9l-0.3 1.5 -0.3 1.6 -0.3 1.5M512.9 606.7l-0.7 1.2 -0.7 1.1 -0.9 1M511.7 602.6l-2.3 0.8 -2.5 0.3 -2.4 0.5M504.5 604.2l-1.6 -0.2 -1.6 0.1 -1.7 -0.1M504.5 604.2l-1.3 0.6 -1.4 0.5 -1.1 1M496.4 612.3l-0.3 1.2 -0.3 1.2 -0.5 1.1M496.4 612.3l-1.3 0.3 -1.2 0.4 -1.2 0.5M506.7 616.2l-1.8 1.3 -1.5 1.7 -1.6 1.5M501.8 620.7l-0 1.2 0.2 1.3 -0.1 1.2M501.8 620.7l-1 1.1 -0.8 1.2 -1.1 1M501.8 620.7l-1.3 0.1 -1.2 0.3 -1.2 0.4M506.3 617.3l-0 1.4 0.1 1.4 0.2 1.5M506.3 617.3l-0.8 0.4 -0.8 0.4 -0.6 0.6M518.2 604.9l1.9 1 1.9 1.2 2 0.8M524 607.9l1.4 -0.3 1.4 -0.5 1.4 -0.1M524 607.9l1 0.9 1.2 0.6 1.3 0.4M520.1 605.9l1.3 -0.4 1.1 -0.8 0.9 -0.8M518.7 607.3l1 0.4 1 0.4 1 0.5M518.7 607.3l-0.2 1 -0.5 0.8 -0.3 1M502.9 594.8l0.4 1.6 0.9 1.4 0.8 1.4M505 599.2l1.3 0.2 1.3 0.2 1.2 -0.2M505 599.2l0.5 1 0.3 1 -0 1M505 599.2l0.1 1.1 -0.1 1.1 -0.5 0.9M499.2 602l1.8 1.8 1.3 2.1 1.6 1.9M503.9 607.8l1.5 -0.1 1.6 -0.4 1.4 -0.7M503.9 607.8l0.7 1.4 0.9 1.2 0.9 1.2M503.9 607.8l0.7 2 0.4 2 -0 2.1M501 603.8l-0.7 1.3 -0.9 1.2 -1 1.2M498.8 603.5l0.2 1.6 0.6 1.4 0.4 1.5M498.8 603.5l-0.6 1 -0.3 1.1 -0.2 1.2M519.2 559.9l-2.1 -1.5 -1.8 -1.7 -1.7 -2M513.6 554.7l-0.3 -1.7 -0.3 -1.8 -0.3 -1.7M513.6 554.7l-1.9 -0.6 -1.9 -0.3 -2 -0.5M511.5 564.9l-0.3 0.9 -0.2 1 -0.2 0.9M511.5 564.9l-1.6 -0 -1.5 -0.6 -1.5 -0.6"/></g>
<path d="M510 409.5 L486 408 M429 499 L434 499.5" stroke="#a85a32" stroke-width="1.2" fill="none"/>
<g fill="none" stroke-linecap="round" stroke-linejoin="round"><path d="M480.4 408.1 L478.7 408.3 L476.9 408.5 L475.1 408.7 L473.3 408.9 L471.6 409.1 L470 409.2 L468.5 409.3 L466.9 409.4 L465.4 409.5 L463.9 409.5 L462.4 409.6 L460.8 409.7 L459.7 409.7" stroke="#a85a32" stroke-width="11.1"/><path d="M480.4 408.1 L478.7 408.3 L476.9 408.5 L475.1 408.7 L473.3 408.9 L471.6 409.1 L470 409.2 L468.5 409.3 L466.9 409.4 L465.4 409.5 L463.9 409.5 L462.4 409.6 L460.8 409.7 L459.7 409.7" stroke="#e9a379" stroke-width="9.2"/><path d="M480.4 408.1 L478.7 408.3 L476.9 408.5 L475.1 408.7 L473.3 408.9 L471.6 409.1 L470 409.2 L468.5 409.3 L466.9 409.4 L465.4 409.5 L463.9 409.5 L462.4 409.6 L460.8 409.7 L459.7 409.7" stroke="#f6cfb4" stroke-width="2.9" transform="translate(-0.6 -2.2)" opacity="0.75"/><path d="M485.2 407.5 L484.6 407.6 L483.4 407.7 L482 407.9 L480.4 408.1 L478.7 408.3 L476.9 408.5 L475.1 408.7 L473.3 408.9 L471.6 409.1 L470 409.2 L468.5 409.3 L466.9 409.4 L465.4 409.5 L463.9 409.5 L462.4 409.6 L460.8 409.7 L459.3 409.7 L457.7 409.8 L456.1 409.9 L454.8 410" stroke="#a85a32" stroke-width="1" stroke-linecap="butt" opacity="0.9"/><path d="M449.3 410.4 L447.7 410.6 L445.9 410.7 L444.1 410.9 L442.3 411.1 L440.6 411.3 L438.8 411.5 L437 411.7 L435.2 411.9 L433.4 412.2 L431.6 412.4 L429.8 412.7 L428 412.9 L426.2 413.2 L424.4 413.5 L424.3 413.5" stroke="#a85a32" stroke-width="11.2"/><path d="M449.3 410.4 L447.7 410.6 L445.9 410.7 L444.1 410.9 L442.3 411.1 L440.6 411.3 L438.8 411.5 L437 411.7 L435.2 411.9 L433.4 412.2 L431.6 412.4 L429.8 412.7 L428 412.9 L426.2 413.2 L424.4 413.5 L424.3 413.5" stroke="#e9a379" stroke-width="9.3"/><path d="M449.3 410.4 L447.7 410.6 L445.9 410.7 L444.1 410.9 L442.3 411.1 L440.6 411.3 L438.8 411.5 L437 411.7 L435.2 411.9 L433.4 412.2 L431.6 412.4 L429.8 412.7 L428 412.9 L426.2 413.2 L424.4 413.5 L424.3 413.5" stroke="#f6cfb4" stroke-width="2.9" transform="translate(-0.6 -2.2)" opacity="0.75"/><path d="M454.2 410 L452.8 410.1 L451.1 410.3 L449.4 410.4 L447.7 410.6 L445.9 410.7 L444.1 410.9 L442.3 411.1 L440.6 411.3 L438.8 411.5 L437 411.7 L435.2 411.9 L433.4 412.2 L431.6 412.4 L429.8 412.7 L428 412.9 L426.2 413.2 L424.4 413.5 L422.7 413.8 L420.9 414.2 L419.5 414.4" stroke="#a85a32" stroke-width="1" stroke-linecap="butt" opacity="0.9"/><path d="M414.1 415.7 L412.6 416.1 L411 416.5 L409.4 416.9 L407.8 417.4 L406.2 417.8 L404.6 418.3 L403 418.7 L401.4 419.1 L399.8 419.5 L398.1 419.9 L396.5 420.3 L394.9 420.6 L393.3 421 L392.2 421.3" stroke="#a85a32" stroke-width="11.3"/><path d="M414.1 415.7 L412.6 416.1 L411 416.5 L409.4 416.9 L407.8 417.4 L406.2 417.8 L404.6 418.3 L403 418.7 L401.4 419.1 L399.8 419.5 L398.1 419.9 L396.5 420.3 L394.9 420.6 L393.3 421 L392.2 421.3" stroke="#e9a379" stroke-width="9.4"/><path d="M414.1 415.7 L412.6 416.1 L411 416.5 L409.4 416.9 L407.8 417.4 L406.2 417.8 L404.6 418.3 L403 418.7 L401.4 419.1 L399.8 419.5 L398.1 419.9 L396.5 420.3 L394.9 420.6 L393.3 421 L392.2 421.3" stroke="#f6cfb4" stroke-width="2.9" transform="translate(-0.6 -2.3)" opacity="0.75"/><path d="M418.9 414.6 L417.5 414.9 L415.9 415.2 L414.2 415.7 L412.6 416.1 L411 416.5 L409.4 416.9 L407.8 417.4 L406.2 417.8 L404.6 418.3 L403 418.7 L401.4 419.1 L399.8 419.5 L398.1 419.9 L396.5 420.3 L394.9 420.6 L393.3 421 L391.7 421.5 L390.2 421.9 L388.7 422.4 L387.5 422.9" stroke="#a85a32" stroke-width="1" stroke-linecap="butt" opacity="0.9"/><path d="M382.4 425.4 L381.7 425.8 L380.4 426.6 L379.1 427.3 L377.8 428.1 L376.5 428.9 L375.3 429.7 L374 430.5 L372.7 431.2 L371.4 431.9 L370.1 432.6 L368.7 433.2 L367.4 433.9 L366.2 434.6 L365.9 434.7" stroke="#a85a32" stroke-width="11.4"/><path d="M382.4 425.4 L381.7 425.8 L380.4 426.6 L379.1 427.3 L377.8 428.1 L376.5 428.9 L375.3 429.7 L374 430.5 L372.7 431.2 L371.4 431.9 L370.1 432.6 L368.7 433.2 L367.4 433.9 L366.2 434.6 L365.9 434.7" stroke="#e9a379" stroke-width="9.5"/><path d="M382.4 425.4 L381.7 425.8 L380.4 426.6 L379.1 427.3 L377.8 428.1 L376.5 428.9 L375.3 429.7 L374 430.5 L372.7 431.2 L371.4 431.9 L370.1 432.6 L368.7 433.2 L367.4 433.9 L366.2 434.6 L365.9 434.7" stroke="#f6cfb4" stroke-width="3" transform="translate(-0.6 -2.3)" opacity="0.75"/><path d="M386.9 423.1 L385.8 423.6 L384.4 424.3 L383 425 L381.7 425.8 L380.4 426.6 L379.1 427.3 L377.8 428.1 L376.5 428.9 L375.3 429.7 L374 430.5 L372.7 431.2 L371.4 431.9 L370.1 432.6 L368.7 433.2 L367.4 433.9 L366.2 434.6 L365 435.3 L363.8 436.1 L362.7 437 L361.9 437.8" stroke="#a85a32" stroke-width="1" stroke-linecap="butt" opacity="0.9"/><path d="M358.8 442.5 L358.5 443.1 L357.8 444.5 L357.2 446 L356.6 447.5 L356 448.9 L355.5 450.3 L355 451.7 L354.5 453 L353.9 454.4 L353.3 455.7 L352.8 457 L352.3 458.4 L352 459.2" stroke="#a85a32" stroke-width="11.6"/><path d="M358.8 442.5 L358.5 443.1 L357.8 444.5 L357.2 446 L356.6 447.5 L356 448.9 L355.5 450.3 L355 451.7 L354.5 453 L353.9 454.4 L353.3 455.7 L352.8 457 L352.3 458.4 L352 459.2" stroke="#e9a379" stroke-width="9.7"/><path d="M358.8 442.5 L358.5 443.1 L357.8 444.5 L357.2 446 L356.6 447.5 L356 448.9 L355.5 450.3 L355 451.7 L354.5 453 L353.9 454.4 L353.3 455.7 L352.8 457 L352.3 458.4 L352 459.2" stroke="#f6cfb4" stroke-width="3" transform="translate(-0.6 -2.3)" opacity="0.75"/><path d="M361.5 438.2 L360.8 439.1 L360 440.4 L359.2 441.7 L358.5 443.1 L357.8 444.5 L357.2 446 L356.6 447.5 L356 448.9 L355.5 450.3 L355 451.7 L354.5 453 L353.9 454.4 L353.3 455.7 L352.8 457 L352.3 458.4 L351.8 459.7 L351.5 460.9 L351.3 462.2 L351.3 463.4 L351.5 464.2" stroke="#a85a32" stroke-width="1" stroke-linecap="butt" opacity="0.9"/><path d="M354.5 469 L355.1 469.6 L356.2 470.6 L357.3 471.5 L358.4 472.3 L359.5 473.2 L360.5 474 L361.5 474.8 L362.5 475.5 L363.5 476.3 L364.5 477 L365.5 477.6 L366.4 478.2" stroke="#a85a32" stroke-width="11.7"/><path d="M354.5 469 L355.1 469.6 L356.2 470.6 L357.3 471.5 L358.4 472.3 L359.5 473.2 L360.5 474 L361.5 474.8 L362.5 475.5 L363.5 476.3 L364.5 477 L365.5 477.6 L366.4 478.2" stroke="#e9a379" stroke-width="9.8"/><path d="M354.5 469 L355.1 469.6 L356.2 470.6 L357.3 471.5 L358.4 472.3 L359.5 473.2 L360.5 474 L361.5 474.8 L362.5 475.5 L363.5 476.3 L364.5 477 L365.5 477.6 L366.4 478.2" stroke="#f6cfb4" stroke-width="3" transform="translate(-0.6 -2.3)" opacity="0.75"/><path d="M351.6 464.8 L351.9 465.6 L352.5 466.7 L353.2 467.7 L354.1 468.7 L355.1 469.6 L356.2 470.6 L357.3 471.5 L358.4 472.3 L359.5 473.2 L360.5 474 L361.5 474.8 L362.5 475.5 L363.5 476.3 L364.5 477 L365.5 477.6 L366.6 478.3 L367.7 478.9 L368.8 479.5 L370 480.1 L370.9 480.6" stroke="#a85a32" stroke-width="1.1" stroke-linecap="butt" opacity="0.9"/><path d="M376.3 482.6 L376.6 482.7 L378.1 483.2 L379.6 483.7 L381.1 484.1 L382.6 484.6 L384 485 L385.5 485.5 L387 486 L388.4 486.5 L389.9 487 L391.3 487.5 L392.8 488 L394.3 488.5 L395 488.7" stroke="#a85a32" stroke-width="11.8"/><path d="M376.3 482.6 L376.6 482.7 L378.1 483.2 L379.6 483.7 L381.1 484.1 L382.6 484.6 L384 485 L385.5 485.5 L387 486 L388.4 486.5 L389.9 487 L391.3 487.5 L392.8 488 L394.3 488.5 L395 488.7" stroke="#e9a379" stroke-width="9.9"/><path d="M376.3 482.6 L376.6 482.7 L378.1 483.2 L379.6 483.7 L381.1 484.1 L382.6 484.6 L384 485 L385.5 485.5 L387 486 L388.4 486.5 L389.9 487 L391.3 487.5 L392.8 488 L394.3 488.5 L395 488.7" stroke="#f6cfb4" stroke-width="3.1" transform="translate(-0.6 -2.4)" opacity="0.75"/><path d="M371.5 480.8 L372.5 481.3 L373.8 481.8 L375.2 482.3 L376.6 482.7 L378.1 483.2 L379.6 483.7 L381.1 484.1 L382.6 484.6 L384 485 L385.5 485.5 L387 486 L388.4 486.5 L389.9 487 L391.3 487.5 L392.8 488 L394.3 488.5 L395.8 489 L397.2 489.5 L398.7 490 L399.9 490.4" stroke="#a85a32" stroke-width="1.1" stroke-linecap="butt" opacity="0.9"/><path d="M405.5 492.3 L406.1 492.5 L407.6 493 L409.1 493.5 L410.5 494 L412 494.5 L413.5 495 L415 495.5 L416.6 496 L418.2 496.5 L420 497 L421.7 497.6 L423.4 498.1 L424.7 498.4" stroke="#a85a32" stroke-width="11.9"/><path d="M405.5 492.3 L406.1 492.5 L407.6 493 L409.1 493.5 L410.5 494 L412 494.5 L413.5 495 L415 495.5 L416.6 496 L418.2 496.5 L420 497 L421.7 497.6 L423.4 498.1 L424.7 498.4" stroke="#e9a379" stroke-width="10"/><path d="M405.5 492.3 L406.1 492.5 L407.6 493 L409.1 493.5 L410.5 494 L412 494.5 L413.5 495 L415 495.5 L416.6 496 L418.2 496.5 L420 497 L421.7 497.6 L423.4 498.1 L424.7 498.4" stroke="#f6cfb4" stroke-width="3.1" transform="translate(-0.6 -2.4)" opacity="0.75"/><path d="M400.5 490.6 L401.7 491 L403.2 491.5 L404.6 492 L406.1 492.5 L407.6 493 L409.1 493.5 L410.5 494 L412 494.5 L413.5 495 L415 495.5 L416.6 496 L418.2 496.5 L420 497 L421.7 497.6 L423.4 498.1 L425.1 498.5 L426.6 499 L428 499.4 L429.1 499.7 L429.7 499.9" stroke="#a85a32" stroke-width="1.1" stroke-linecap="butt" opacity="0.9"/></g>
<g fill="none" stroke-linecap="round" stroke-linejoin="round"><path d="M554.9 410.8 L555.1 410.8 L557 411.2 L559 411.6 L561.1 412.1 L563.3 412.5 L565.6 413 L567.8 413.5 L569.7 413.9" stroke="#a85a32" stroke-width="8.4"/><path d="M554.9 410.8 L555.1 410.8 L557 411.2 L559 411.6 L561.1 412.1 L563.3 412.5 L565.6 413 L567.8 413.5 L569.7 413.9" stroke="#e9a379" stroke-width="6.5"/><path d="M554.9 410.8 L555.1 410.8 L557 411.2 L559 411.6 L561.1 412.1 L563.3 412.5 L565.6 413 L567.8 413.5 L569.7 413.9" stroke="#f6cfb4" stroke-width="2.2" transform="translate(-0.4 -1.7)" opacity="0.75"/><path d="M551.3 410.1 L552.1 410.2 L553.5 410.5 L555.1 410.8 L557 411.2 L559 411.6 L561.1 412.1 L563.3 412.5 L565.6 413 L567.8 413.5 L570 414 L572.2 414.5 L573.3 414.8" stroke="#a85a32" stroke-width="0.8" stroke-linecap="butt" opacity="0.9"/><path d="M577.4 415.8 L579.2 416.3 L581.7 416.9 L584.2 417.5 L586.6 418.1 L589.1 418.8 L591.6 419.4 L592.3 419.6" stroke="#a85a32" stroke-width="8.2"/><path d="M577.4 415.8 L579.2 416.3 L581.7 416.9 L584.2 417.5 L586.6 418.1 L589.1 418.8 L591.6 419.4 L592.3 419.6" stroke="#e9a379" stroke-width="6.3"/><path d="M577.4 415.8 L579.2 416.3 L581.7 416.9 L584.2 417.5 L586.6 418.1 L589.1 418.8 L591.6 419.4 L592.3 419.6" stroke="#f6cfb4" stroke-width="2.1" transform="translate(-0.4 -1.6)" opacity="0.75"/><path d="M573.9 414.9 L574.5 415.1 L576.8 415.7 L579.2 416.3 L581.7 416.9 L584.2 417.5 L586.6 418.1 L589.1 418.8 L591.6 419.4 L594 420 L595.8 420.4" stroke="#a85a32" stroke-width="0.8" stroke-linecap="butt" opacity="0.9"/><path d="M599.8 421.5 L601.2 421.8 L603.6 422.5 L606.1 423.1 L608.5 423.7 L610.9 424.3 L613.3 424.9 L614.8 425.3" stroke="#a85a32" stroke-width="8"/><path d="M599.8 421.5 L601.2 421.8 L603.6 422.5 L606.1 423.1 L608.5 423.7 L610.9 424.3 L613.3 424.9 L614.8 425.3" stroke="#e9a379" stroke-width="6.1"/><path d="M599.8 421.5 L601.2 421.8 L603.6 422.5 L606.1 423.1 L608.5 423.7 L610.9 424.3 L613.3 424.9 L614.8 425.3" stroke="#f6cfb4" stroke-width="2.1" transform="translate(-0.4 -1.6)" opacity="0.75"/><path d="M596.3 420.6 L596.4 420.6 L598.8 421.2 L601.2 421.8 L603.6 422.5 L606.1 423.1 L608.5 423.7 L610.9 424.3 L613.3 424.9 L615.6 425.5 L618 426 L618.2 426" stroke="#a85a32" stroke-width="0.8" stroke-linecap="butt" opacity="0.9"/><path d="M622.1 426.9 L622.7 427 L625 427.5 L627.3 427.9 L629.6 428.4 L631.8 428.8 L634.1 429.2 L636.4 429.7 L637.5 429.9" stroke="#a85a32" stroke-width="7.8"/><path d="M622.1 426.9 L622.7 427 L625 427.5 L627.3 427.9 L629.6 428.4 L631.8 428.8 L634.1 429.2 L636.4 429.7 L637.5 429.9" stroke="#e9a379" stroke-width="5.9"/><path d="M622.1 426.9 L622.7 427 L625 427.5 L627.3 427.9 L629.6 428.4 L631.8 428.8 L634.1 429.2 L636.4 429.7 L637.5 429.9" stroke="#f6cfb4" stroke-width="2" transform="translate(-0.4 -1.6)" opacity="0.75"/><path d="M618.8 426.2 L620.3 426.5 L622.7 427 L625 427.5 L627.3 427.9 L629.6 428.4 L631.8 428.8 L634.1 429.2 L636.4 429.7 L638.7 430.1 L640.9 430.5" stroke="#a85a32" stroke-width="0.8" stroke-linecap="butt" opacity="0.9"/><path d="M644.8 431.2 L646 431.4 L648.6 431.9 L651.3 432.3 L653.9 432.8 L656.5 433.2 L658.8 433.6 L660.4 433.9" stroke="#a85a32" stroke-width="7.6"/><path d="M644.8 431.2 L646 431.4 L648.6 431.9 L651.3 432.3 L653.9 432.8 L656.5 433.2 L658.8 433.6 L660.4 433.9" stroke="#e9a379" stroke-width="5.7"/><path d="M644.8 431.2 L646 431.4 L648.6 431.9 L651.3 432.3 L653.9 432.8 L656.5 433.2 L658.8 433.6 L660.4 433.9" stroke="#f6cfb4" stroke-width="2" transform="translate(-0.4 -1.5)" opacity="0.75"/><path d="M641.5 430.6 L643.4 430.9 L646 431.4 L648.6 431.9 L651.3 432.3 L653.9 432.8 L656.5 433.2 L658.8 433.6 L660.9 434 L662.6 434.3 L663.7 434.4" stroke="#a85a32" stroke-width="0.8" stroke-linecap="butt" opacity="0.9"/></g>
<g fill="none" stroke-linecap="round" stroke-linejoin="round"><path d="M730.3 434 L731.1 433.9 L733.8 433.5 L736.8 433 L739.2 432.7" stroke="#a85a32" stroke-width="6.9"/><path d="M730.3 434 L731.1 433.9 L733.8 433.5 L736.8 433 L739.2 432.7" stroke="#e9a379" stroke-width="5"/><path d="M730.3 434 L731.1 433.9 L733.8 433.5 L736.8 433 L739.2 432.7" stroke="#f6cfb4" stroke-width="1.8" transform="translate(-0.3 -1.4)" opacity="0.75"/><path d="M727.3 434.5 L728.8 434.2 L731.1 433.9 L733.8 433.5 L736.8 433 L740.1 432.5 L742.2 432.2" stroke="#a85a32" stroke-width="0.8" stroke-linecap="butt" opacity="0.9"/><path d="M745.7 431.6 L747.1 431.4 L750.5 430.8 L753.9 430.2 L754.8 430" stroke="#a85a32" stroke-width="6.7"/><path d="M745.7 431.6 L747.1 431.4 L750.5 430.8 L753.9 430.2 L754.8 430" stroke="#e9a379" stroke-width="4.8"/><path d="M745.7 431.6 L747.1 431.4 L750.5 430.8 L753.9 430.2 L754.8 430" stroke="#f6cfb4" stroke-width="1.7" transform="translate(-0.3 -1.3)" opacity="0.75"/><path d="M742.8 432.1 L743.6 432 L747.1 431.4 L750.5 430.8 L753.9 430.2 L757 429.5 L757.7 429.3" stroke="#a85a32" stroke-width="0.8" stroke-linecap="butt" opacity="0.9"/><path d="M761 428.5 L763.2 428 L766.4 427.1 L769.7 426.2 L770.1 426.1" stroke="#a85a32" stroke-width="6.5"/><path d="M761 428.5 L763.2 428 L766.4 427.1 L769.7 426.2 L770.1 426.1" stroke="#e9a379" stroke-width="4.6"/><path d="M761 428.5 L763.2 428 L766.4 427.1 L769.7 426.2 L770.1 426.1" stroke="#f6cfb4" stroke-width="1.7" transform="translate(-0.3 -1.3)" opacity="0.75"/><path d="M758.3 429.2 L760.1 428.8 L763.2 428 L766.4 427.1 L769.7 426.2 L772.8 425.3" stroke="#a85a32" stroke-width="0.8" stroke-linecap="butt" opacity="0.9"/><path d="M776.1 424.3 L779 423.4 L781.9 422.6 L784.6 421.7 L785.2 421.5" stroke="#a85a32" stroke-width="6.3"/><path d="M776.1 424.3 L779 423.4 L781.9 422.6 L784.6 421.7 L785.2 421.5" stroke="#e9a379" stroke-width="4.4"/><path d="M776.1 424.3 L779 423.4 L781.9 422.6 L784.6 421.7 L785.2 421.5" stroke="#f6cfb4" stroke-width="1.6" transform="translate(-0.3 -1.3)" opacity="0.75"/><path d="M773.4 425.1 L776 424.4 L779 423.4 L781.9 422.6 L784.6 421.7 L787 421 L787.9 420.7" stroke="#a85a32" stroke-width="0.8" stroke-linecap="butt" opacity="0.9"/><path d="M791 419.7 L791.4 419.6 L793.3 419 L795.2 418.3 L796.9 417.7 L798.4 417.2 L799.8 416.7 L800.2 416.5" stroke="#a85a32" stroke-width="6.1"/><path d="M791 419.7 L791.4 419.6 L793.3 419 L795.2 418.3 L796.9 417.7 L798.4 417.2 L799.8 416.7 L800.2 416.5" stroke="#e9a379" stroke-width="4.2"/><path d="M791 419.7 L791.4 419.6 L793.3 419 L795.2 418.3 L796.9 417.7 L798.4 417.2 L799.8 416.7 L800.2 416.5" stroke="#f6cfb4" stroke-width="1.6" transform="translate(-0.3 -1.2)" opacity="0.75"/><path d="M788.4 420.5 L789.2 420.3 L791.4 419.6 L793.3 419 L795.2 418.3 L796.9 417.7 L798.4 417.2 L799.8 416.7 L801 416.2 L802.1 415.8 L802.7 415.6" stroke="#a85a32" stroke-width="0.8" stroke-linecap="butt" opacity="0.9"/></g>
<g fill="none" stroke-linecap="round" stroke-linejoin="round"><path d="M851.7 415.3 L853.1 415.5 L855.8 415.9 L858.8 416.2 L860.4 416.4" stroke="#a85a32" stroke-width="5.4"/><path d="M851.7 415.3 L853.1 415.5 L855.8 415.9 L858.8 416.2 L860.4 416.4" stroke="#e9a379" stroke-width="3.5"/><path d="M851.7 415.3 L853.1 415.5 L855.8 415.9 L858.8 416.2 L860.4 416.4" stroke="#f6cfb4" stroke-width="1.4" transform="translate(-0.3 -1.1)" opacity="0.75"/><path d="M849.3 415 L850.8 415.2 L853.1 415.5 L855.8 415.9 L858.8 416.2 L862.1 416.7 L862.7 416.7" stroke="#a85a32" stroke-width="0.8" stroke-linecap="butt" opacity="0.9"/><path d="M865.6 417.1 L869.1 417.6 L872.8 418 L874.5 418.3" stroke="#a85a32" stroke-width="5.2"/><path d="M865.6 417.1 L869.1 417.6 L872.8 418 L874.5 418.3" stroke="#e9a379" stroke-width="3.3"/><path d="M865.6 417.1 L869.1 417.6 L872.8 418 L874.5 418.3" stroke="#f6cfb4" stroke-width="1.4" transform="translate(-0.3 -1)" opacity="0.75"/><path d="M863.3 416.8 L865.5 417.1 L869.1 417.6 L872.8 418 L876.4 418.5 L876.7 418.6" stroke="#a85a32" stroke-width="0.8" stroke-linecap="butt" opacity="0.9"/><path d="M879.5 418.9 L880 419 L883.8 419.5 L887.9 420.1 L888.5 420.2" stroke="#a85a32" stroke-width="5"/><path d="M879.5 418.9 L880 419 L883.8 419.5 L887.9 420.1 L888.5 420.2" stroke="#e9a379" stroke-width="3.1"/><path d="M879.5 418.9 L880 419 L883.8 419.5 L887.9 420.1 L888.5 420.2" stroke="#f6cfb4" stroke-width="1.3" transform="translate(-0.2 -1)" opacity="0.75"/><path d="M877.3 418.6 L880 419 L883.8 419.5 L887.9 420.1 L890.7 420.5" stroke="#a85a32" stroke-width="0.8" stroke-linecap="butt" opacity="0.9"/><path d="M893.4 420.9 L896.9 421.4 L901.4 422 L902.6 422.2" stroke="#a85a32" stroke-width="4.8"/><path d="M893.4 420.9 L896.9 421.4 L901.4 422 L902.6 422.2" stroke="#e9a379" stroke-width="2.9"/><path d="M893.4 420.9 L896.9 421.4 L901.4 422 L902.6 422.2" stroke="#f6cfb4" stroke-width="1.2" transform="translate(-0.2 -1)" opacity="0.75"/><path d="M891.3 420.6 L892.3 420.7 L896.9 421.4 L901.4 422 L904.7 422.5" stroke="#a85a32" stroke-width="0.8" stroke-linecap="butt" opacity="0.9"/><path d="M907.3 422.8 L909.9 423.2 L913.6 423.7 L916.6 424.2 L916.7 424.2" stroke="#a85a32" stroke-width="4.6"/><path d="M907.3 422.8 L909.9 423.2 L913.6 423.7 L916.6 424.2 L916.7 424.2" stroke="#e9a379" stroke-width="2.7"/><path d="M907.3 422.8 L909.9 423.2 L913.6 423.7 L916.6 424.2 L916.7 424.2" stroke="#f6cfb4" stroke-width="1.2" transform="translate(-0.2 -0.9)" opacity="0.75"/><path d="M905.3 422.6 L905.8 422.6 L909.9 423.2 L913.6 423.7 L916.6 424.2 L918.7 424.5" stroke="#a85a32" stroke-width="0.8" stroke-linecap="butt" opacity="0.9"/></g>
<g fill="none" stroke-linecap="round" stroke-linejoin="round"><path d="M531.8 491 L532.3 491 L534.4 490.7 L536.5 490.5 L538.7 490.2 L540.9 490 L543 489.7 L545 489.5 L546.9 489.3 L548.8 489.1 L550.7 488.9 L552.7 488.7 L554.6 488.5 L556.5 488.3 L558.5 488.1 L558.6 488" stroke="#a85a32" stroke-width="12.1"/><path d="M531.8 491 L532.3 491 L534.4 490.7 L536.5 490.5 L538.7 490.2 L540.9 490 L543 489.7 L545 489.5 L546.9 489.3 L548.8 489.1 L550.7 488.9 L552.7 488.7 L554.6 488.5 L556.5 488.3 L558.5 488.1 L558.6 488" stroke="#e9a379" stroke-width="10.2"/><path d="M531.8 491 L532.3 491 L534.4 490.7 L536.5 490.5 L538.7 490.2 L540.9 490 L543 489.7 L545 489.5 L546.9 489.3 L548.8 489.1 L550.7 488.9 L552.7 488.7 L554.6 488.5 L556.5 488.3 L558.5 488.1 L558.6 488" stroke="#f6cfb4" stroke-width="3.1" transform="translate(-0.6 -2.4)" opacity="0.75"/><path d="M526.5 491.7 L527.3 491.6 L528.8 491.4 L530.4 491.2 L532.3 491 L534.4 490.7 L536.5 490.5 L538.7 490.2 L540.9 490 L543 489.7 L545 489.5 L546.9 489.3 L548.8 489.1 L550.7 488.9 L552.7 488.7 L554.6 488.5 L556.5 488.3 L558.5 488.1 L560.4 487.9 L562.3 487.7 L563.9 487.5" stroke="#a85a32" stroke-width="1.1" stroke-linecap="butt" opacity="0.9"/><path d="M569.8 487 L569.8 487 L571.7 486.8 L573.6 486.7 L575.4 486.5 L577.3 486.4 L579.2 486.2 L581.1 486.1 L583 486 L584.9 485.9 L586.9 485.8 L588.9 485.7 L590.8 485.7 L592.8 485.6 L594.8 485.6 L596.8 485.5 L596.8 485.5" stroke="#a85a32" stroke-width="12.2"/><path d="M569.8 487 L569.8 487 L571.7 486.8 L573.6 486.7 L575.4 486.5 L577.3 486.4 L579.2 486.2 L581.1 486.1 L583 486 L584.9 485.9 L586.9 485.8 L588.9 485.7 L590.8 485.7 L592.8 485.6 L594.8 485.6 L596.8 485.5 L596.8 485.5" stroke="#e9a379" stroke-width="10.3"/><path d="M569.8 487 L569.8 487 L571.7 486.8 L573.6 486.7 L575.4 486.5 L577.3 486.4 L579.2 486.2 L581.1 486.1 L583 486 L584.9 485.9 L586.9 485.8 L588.9 485.7 L590.8 485.7 L592.8 485.6 L594.8 485.6 L596.8 485.5 L596.8 485.5" stroke="#f6cfb4" stroke-width="3.2" transform="translate(-0.6 -2.4)" opacity="0.75"/><path d="M564.5 487.5 L566.1 487.3 L568 487.2 L569.8 487 L571.7 486.8 L573.6 486.7 L575.4 486.5 L577.3 486.4 L579.2 486.2 L581.1 486.1 L583 486 L584.9 485.9 L586.9 485.8 L588.9 485.7 L590.8 485.7 L592.8 485.6 L594.8 485.6 L596.8 485.5 L598.7 485.5 L600.6 485.5 L602.2 485.5" stroke="#a85a32" stroke-width="1.1" stroke-linecap="butt" opacity="0.9"/><path d="M608.2 485.6 L609.6 485.6 L611.3 485.6 L613 485.7 L614.7 485.7 L616.5 485.8 L618.2 485.9 L620 486 L621.8 486.1 L623.7 486.2 L625.6 486.3 L627.5 486.4 L629.4 486.5 L631.3 486.7 L633 486.8" stroke="#a85a32" stroke-width="12.3"/><path d="M608.2 485.6 L609.6 485.6 L611.3 485.6 L613 485.7 L614.7 485.7 L616.5 485.8 L618.2 485.9 L620 486 L621.8 486.1 L623.7 486.2 L625.6 486.3 L627.5 486.4 L629.4 486.5 L631.3 486.7 L633 486.8" stroke="#e9a379" stroke-width="10.4"/><path d="M608.2 485.6 L609.6 485.6 L611.3 485.6 L613 485.7 L614.7 485.7 L616.5 485.8 L618.2 485.9 L620 486 L621.8 486.1 L623.7 486.2 L625.6 486.3 L627.5 486.4 L629.4 486.5 L631.3 486.7 L633 486.8" stroke="#f6cfb4" stroke-width="3.2" transform="translate(-0.6 -2.5)" opacity="0.75"/><path d="M602.8 485.5 L604.3 485.5 L606.1 485.5 L607.9 485.5 L609.6 485.6 L611.3 485.6 L613 485.7 L614.7 485.7 L616.5 485.8 L618.2 485.9 L620 486 L621.8 486.1 L623.7 486.2 L625.6 486.3 L627.5 486.4 L629.4 486.5 L631.3 486.7 L633.2 486.8 L635 487 L636.9 487.2 L638.4 487.5" stroke="#a85a32" stroke-width="1.1" stroke-linecap="butt" opacity="0.9"/><path d="M644.4 488.4 L646 488.7 L647.7 489.1 L649.5 489.5 L651.2 489.9 L652.9 490.4 L654.5 490.9 L656 491.5 L657.5 492.2 L658.9 492.9 L660.3 493.6 L661.6 494.4 L662.9 495.2 L664.1 496.1 L664.2 496.2" stroke="#a85a32" stroke-width="12.4"/><path d="M644.4 488.4 L646 488.7 L647.7 489.1 L649.5 489.5 L651.2 489.9 L652.9 490.4 L654.5 490.9 L656 491.5 L657.5 492.2 L658.9 492.9 L660.3 493.6 L661.6 494.4 L662.9 495.2 L664.1 496.1 L664.2 496.2" stroke="#e9a379" stroke-width="10.5"/><path d="M644.4 488.4 L646 488.7 L647.7 489.1 L649.5 489.5 L651.2 489.9 L652.9 490.4 L654.5 490.9 L656 491.5 L657.5 492.2 L658.9 492.9 L660.3 493.6 L661.6 494.4 L662.9 495.2 L664.1 496.1 L664.2 496.2" stroke="#f6cfb4" stroke-width="3.2" transform="translate(-0.6 -2.5)" opacity="0.75"/><path d="M639 487.5 L640.5 487.8 L642.3 488.1 L644.1 488.4 L646 488.7 L647.7 489.1 L649.5 489.5 L651.2 489.9 L652.9 490.4 L654.5 490.9 L656 491.5 L657.5 492.2 L658.9 492.9 L660.3 493.6 L661.6 494.4 L662.9 495.2 L664.1 496.1 L665.3 497.1 L666.4 498 L667.5 499 L668.3 499.8" stroke="#a85a32" stroke-width="1.1" stroke-linecap="butt" opacity="0.9"/><path d="M672.1 504.5 L672.9 505.7 L673.6 506.9 L674.3 508.2 L674.9 509.4 L675.5 510.7 L676 512 L676.5 513.3 L676.9 514.6 L677.3 516 L677.6 517.3 L677.9 518.7 L678.1 519.7" stroke="#a85a32" stroke-width="12.6"/><path d="M672.1 504.5 L672.9 505.7 L673.6 506.9 L674.3 508.2 L674.9 509.4 L675.5 510.7 L676 512 L676.5 513.3 L676.9 514.6 L677.3 516 L677.6 517.3 L677.9 518.7 L678.1 519.7" stroke="#e9a379" stroke-width="10.7"/><path d="M672.1 504.5 L672.9 505.7 L673.6 506.9 L674.3 508.2 L674.9 509.4 L675.5 510.7 L676 512 L676.5 513.3 L676.9 514.6 L677.3 516 L677.6 517.3 L677.9 518.7 L678.1 519.7" stroke="#f6cfb4" stroke-width="3.3" transform="translate(-0.6 -2.5)" opacity="0.75"/><path d="M668.7 500.2 L669.5 501.1 L670.4 502.2 L671.3 503.3 L672.1 504.5 L672.9 505.7 L673.6 506.9 L674.3 508.2 L674.9 509.4 L675.5 510.7 L676 512 L676.5 513.3 L676.9 514.6 L677.3 516 L677.6 517.3 L677.9 518.7 L678.2 520.1 L678.3 521.5 L678.5 522.8 L678.5 524.2 L678.5 525.2" stroke="#a85a32" stroke-width="1.1" stroke-linecap="butt" opacity="0.9"/><path d="M677.6 531.3 L677.4 532 L677 533.2 L676.6 534.5 L676.1 535.7 L675.6 536.9 L675 538 L674.4 539.1 L673.8 540.2 L673.1 541.2 L672.3 542.3 L671.5 543.3 L671.1 543.8" stroke="#a85a32" stroke-width="12.7"/><path d="M677.6 531.3 L677.4 532 L677 533.2 L676.6 534.5 L676.1 535.7 L675.6 536.9 L675 538 L674.4 539.1 L673.8 540.2 L673.1 541.2 L672.3 542.3 L671.5 543.3 L671.1 543.8" stroke="#e9a379" stroke-width="10.8"/><path d="M677.6 531.3 L677.4 532 L677 533.2 L676.6 534.5 L676.1 535.7 L675.6 536.9 L675 538 L674.4 539.1 L673.8 540.2 L673.1 541.2 L672.3 542.3 L671.5 543.3 L671.1 543.8" stroke="#f6cfb4" stroke-width="3.3" transform="translate(-0.6 -2.5)" opacity="0.75"/><path d="M678.5 525.8 L678.4 526.8 L678.3 528.1 L678 529.4 L677.7 530.7 L677.4 532 L677 533.2 L676.6 534.5 L676.1 535.7 L675.6 536.9 L675 538 L674.4 539.1 L673.8 540.2 L673.1 541.2 L672.3 542.3 L671.5 543.3 L670.7 544.3 L669.8 545.2 L668.9 546.2 L668 547.1 L667.2 547.8" stroke="#a85a32" stroke-width="1.1" stroke-linecap="butt" opacity="0.9"/><path d="M662.3 551.6 L661.4 552.2 L660.2 553 L658.9 553.8 L657.7 554.5 L656.3 555.3 L655 556 L653.6 556.7 L652.3 557.4 L650.8 558 L649.4 558.7 L647.9 559.3 L646.4 559.9 L645.5 560.3" stroke="#a85a32" stroke-width="12.8"/><path d="M662.3 551.6 L661.4 552.2 L660.2 553 L658.9 553.8 L657.7 554.5 L656.3 555.3 L655 556 L653.6 556.7 L652.3 557.4 L650.8 558 L649.4 558.7 L647.9 559.3 L646.4 559.9 L645.5 560.3" stroke="#e9a379" stroke-width="10.9"/><path d="M662.3 551.6 L661.4 552.2 L660.2 553 L658.9 553.8 L657.7 554.5 L656.3 555.3 L655 556 L653.6 556.7 L652.3 557.4 L650.8 558 L649.4 558.7 L647.9 559.3 L646.4 559.9 L645.5 560.3" stroke="#f6cfb4" stroke-width="3.3" transform="translate(-0.6 -2.6)" opacity="0.75"/><path d="M666.8 548.2 L666 548.9 L664.9 549.8 L663.8 550.6 L662.6 551.4 L661.4 552.2 L660.2 553 L658.9 553.8 L657.7 554.5 L656.3 555.3 L655 556 L653.6 556.7 L652.3 557.4 L650.8 558 L649.4 558.7 L647.9 559.3 L646.4 559.9 L644.9 560.5 L643.3 561.2 L641.7 561.8 L640.3 562.4" stroke="#a85a32" stroke-width="1.2" stroke-linecap="butt" opacity="0.9"/><path d="M634.5 564.8 L632.7 565.5 L630.8 566.2 L628.8 567 L626.9 567.8 L624.9 568.5 L623 569.3 L621 570 L619 570.8 L616.8 571.5 L614.5 572.4 L612.2 573.2 L609.9 574 L607.7 574.7 L606.9 575" stroke="#a85a32" stroke-width="12.9"/><path d="M634.5 564.8 L632.7 565.5 L630.8 566.2 L628.8 567 L626.9 567.8 L624.9 568.5 L623 569.3 L621 570 L619 570.8 L616.8 571.5 L614.5 572.4 L612.2 573.2 L609.9 574 L607.7 574.7 L606.9 575" stroke="#e9a379" stroke-width="11"/><path d="M634.5 564.8 L632.7 565.5 L630.8 566.2 L628.8 567 L626.9 567.8 L624.9 568.5 L623 569.3 L621 570 L619 570.8 L616.8 571.5 L614.5 572.4 L612.2 573.2 L609.9 574 L607.7 574.7 L606.9 575" stroke="#f6cfb4" stroke-width="3.4" transform="translate(-0.6 -2.6)" opacity="0.75"/><path d="M639.7 562.6 L638.3 563.2 L636.5 563.9 L634.6 564.7 L632.7 565.5 L630.8 566.2 L628.8 567 L626.9 567.8 L624.9 568.5 L623 569.3 L621 570 L619 570.8 L616.8 571.5 L614.5 572.4 L612.2 573.2 L609.9 574 L607.7 574.7 L605.7 575.4 L603.9 576.1 L602.4 576.6 L601.5 576.9" stroke="#a85a32" stroke-width="1.2" stroke-linecap="butt" opacity="0.9"/></g>
<g fill="none" stroke-linecap="round" stroke-linejoin="round"><path d="M455.4 570.1 L454.9 570.1 L452 569.8 L449 569.6 L445.9 569.4 L442.9 569.2 L440 569 L437 568.9 L433.6 568.7 L430.1 568.6 L426.5 568.5 L422.9 568.4 L419.7 568.3" stroke="#a85a32" stroke-width="22"/><path d="M455.4 570.1 L454.9 570.1 L452 569.8 L449 569.6 L445.9 569.4 L442.9 569.2 L440 569 L437 568.9 L433.6 568.7 L430.1 568.6 L426.5 568.5 L422.9 568.4 L419.7 568.3" stroke="#e9a379" stroke-width="20.1"/><path d="M455.4 570.1 L454.9 570.1 L452 569.8 L449 569.6 L445.9 569.4 L442.9 569.2 L440 569 L437 568.9 L433.6 568.7 L430.1 568.6 L426.5 568.5 L422.9 568.4 L419.7 568.3" stroke="#f6cfb4" stroke-width="5.7" transform="translate(-1.1 -4.4)" opacity="0.75"/><path d="M465 570.9 L464.5 570.9 L462.5 570.7 L460.3 570.5 L457.7 570.3 L454.9 570.1 L452 569.8 L449 569.6 L445.9 569.4 L442.9 569.2 L440 569 L437 568.9 L433.6 568.7 L430.1 568.6 L426.5 568.5 L422.9 568.4 L419.4 568.3 L416.2 568.2 L413.3 568.1 L410.9 568.1 L410 568" stroke="#a85a32" stroke-width="2" stroke-linecap="butt" opacity="0.9"/></g>
<g fill="none" stroke-linecap="round" stroke-linejoin="round"><path d="M403.5 569.8 L403.4 569.8 L401.2 570.2 L399 570.8 L396.9 571.3 L395 572 L393.2 572.7 L391.4 573.5 L389.6 574.4 L387.8 575.3 L386 576.2 L384.3 577.3 L382.6 578.4 L381 579.5 L379.4 580.7 L378 582 L376.6 583.4 L375.2 585.1 L373.9 586.9 L372.6 588.7 L372.6 588.9" stroke="#a85a32" stroke-width="22"/><path d="M403.5 569.8 L403.4 569.8 L401.2 570.2 L399 570.8 L396.9 571.3 L395 572 L393.2 572.7 L391.4 573.5 L389.6 574.4 L387.8 575.3 L386 576.2 L384.3 577.3 L382.6 578.4 L381 579.5 L379.4 580.7 L378 582 L376.6 583.4 L375.2 585.1 L373.9 586.9 L372.6 588.7 L372.6 588.9" stroke="#e9a379" stroke-width="20.1"/><path d="M403.5 569.8 L403.4 569.8 L401.2 570.2 L399 570.8 L396.9 571.3 L395 572 L393.2 572.7 L391.4 573.5 L389.6 574.4 L387.8 575.3 L386 576.2 L384.3 577.3 L382.6 578.4 L381 579.5 L379.4 580.7 L378 582 L376.6 583.4 L375.2 585.1 L373.9 586.9 L372.6 588.7 L372.6 588.9" stroke="#f6cfb4" stroke-width="5.7" transform="translate(-1.1 -4.4)" opacity="0.75"/><path d="M413 568.2 L412.9 568.2 L411.4 568.4 L409.6 568.7 L407.7 569 L405.6 569.4 L403.4 569.8 L401.2 570.2 L399 570.8 L396.9 571.3 L395 572 L393.2 572.7 L391.4 573.5 L389.6 574.4 L387.8 575.3 L386 576.2 L384.3 577.3 L382.6 578.4 L381 579.5 L379.4 580.7 L378 582 L376.6 583.4 L375.2 585.1 L373.9 586.9 L372.6 588.7 L371.4 590.6 L370.3 592.5 L369.3 594.2 L368.4 595.7 L367.6 597 L367.5 597.2" stroke="#a85a32" stroke-width="2" stroke-linecap="butt" opacity="0.9"/></g>
<g fill="none" stroke-linecap="round" stroke-linejoin="round"><path d="M367 600.4 L366.7 602.2 L366.4 604.8 L366.2 607.4 L366 610 L365.9 612.9 L366 616.2 L366 619.8 L366.2 623.5 L366.3 627.3 L366.5 630.5" stroke="#a85a32" stroke-width="24"/><path d="M367 600.4 L366.7 602.2 L366.4 604.8 L366.2 607.4 L366 610 L365.9 612.9 L366 616.2 L366 619.8 L366.2 623.5 L366.3 627.3 L366.5 630.5" stroke="#e9a379" stroke-width="22.1"/><path d="M367 600.4 L366.7 602.2 L366.4 604.8 L366.2 607.4 L366 610 L365.9 612.9 L366 616.2 L366 619.8 L366.2 623.5 L366.3 627.3 L366.5 630.5" stroke="#f6cfb4" stroke-width="6.2" transform="translate(-1.2 -4.8)" opacity="0.75"/><path d="M368.8 590 L368.8 590.2 L368.5 591.7 L368.2 593.4 L367.8 595.4 L367.4 597.5 L367.1 599.8 L366.7 602.2 L366.4 604.8 L366.2 607.4 L366 610 L365.9 612.9 L366 616.2 L366 619.8 L366.2 623.5 L366.3 627.3 L366.5 631 L366.6 634.4 L366.8 637.5 L366.9 640 L367 641" stroke="#a85a32" stroke-width="2.2" stroke-linecap="butt" opacity="0.9"/></g>
<g fill="none" stroke="#80503c" stroke-linecap="round" stroke-linejoin="round"><path stroke-width="1" d="M918.9 424.3l2.3 -2 1.9 -2.5 1.9 -2.6 -0.1 -3.4 1.5 -3.1 0.5 -3.2 0.3 -3.3 1.4 -2.8M923.7 419l0.9 -0.2 0.7 -0.3 0.8 -0.4M926.1 418.1l0.2 -0.4 0.1 -0.5 0.1 -0.5M926.1 418.1l0.4 -0.2 0.5 -0.2 0.5 -0.2M926.1 418.1l0.6 -0 0.7 -0 0.6 -0.1M924.6 418.8l0.2 -0.4 0.2 -0.5 0.3 -0.4M926.1 411.4l0.7 -0.5 0.7 -0.4 0.7 -0.6M928.2 409.9l0.6 -0 0.5 -0.2 0.5 -0.3M928.2 409.9l0.4 -0.3 0.4 -0.4 0.5 -0.3M927.5 410.5l0.4 0.3 0.4 0.4 0.4 0.3M927.2 404.2l0.6 -0.9 0.7 -0.8 0.8 -0.8M929.3 401.7l0.3 -0.7 0.1 -0.7 0.1 -0.7M929.3 401.7l0.4 -0.6 0.4 -0.5 0.2 -0.6M929.3 401.7l0.8 -0 0.7 -0.2 0.7 -0.3M927.8 403.3l0.7 0.2 0.6 0.1 0.7 0.1M928.6 401.4l-0.3 -0.7 -0.5 -0.6 -0.5 -0.5M928.6 401.4l0.5 -0.3 0.5 -0.5 0.2 -0.5M918.9 424.6l2.9 2.1 2.6 2.8 1.9 3.3 1.7 3.2M926.3 433l1 0.6 1 0.9 0.8 0.8M929.1 435.3l0.4 0.8 0 0.8 0.1 0.8M929.1 435.3l0.9 0.1 0.9 0.2 0.9 0.2M925.9 432.2l1.1 -0.2 1 -0.4 0.9 -0.5M928.9 431.1l0.9 0.2 0.8 0.3 0.9 -0M928.9 431.1l0.4 -0.6 0.5 -0.5 0.4 -0.6M928 431.6l0.4 -0.4 0.6 -0.3 0.5 -0.4M928 436l0.3 0.3 0.4 0.3 0.2 0.5M928 436l0 0.5 0 0.5 -0 0.6M922.7 426.2l3 0.8 3.1 0.5M927.7 427.3l0.9 -0.7 0.7 -1 0.8 -0.9M930.1 424.7l0.6 -0.4 0.7 -0.4 0.7 -0.2M930.1 424.7l0.6 -0.8 0.7 -0.6 0.8 -0.7M928.6 426.6l0.7 -0.3 0.6 -0.2 0.8 0.1M928.8 427.5l0.5 -0.3 0.6 -0.1 0.6 -0.3M928.8 427.5l0.4 0.6 0.4 0.6 0.4 0.7"/></g>
<path d="M511.2 409.5 L511.8 408.1 L512.7 406.4 L513.8 404.7 L515 403.2 L516.4 401.8 L518 400.4 L519.6 399.3 L521.2 398.9 L522.8 399.4 L524.3 400.7 L525.8 402.2 L527.5 403.2 L529.3 403.9 L531.2 404.3 L533.2 404.5 L535 404.5 L536.8 403.9 L538.5 402.9 L540.1 402 L541.2 402 L542 403.2 L542.4 405.2 L542.6 407.5 L542.5 409.5 L542.2 411.2 L541.6 412.9 L540.9 414.4 L540 415.8 L539 416.9 L537.8 417.9 L536.5 418.8 L535 419.5 L533.2 420 L531.2 420.3 L529.3 420.5 L527.5 420.8 L526 420.9 L524.7 420.9 L523.5 421.2 L522.5 422 L521.7 424.1 L521.1 427 L520.6 429.6 L520 430.8 L519.3 429.7 L518.6 427.2 L517.8 424.2 L516.9 422 L515.5 420.7 L513.8 419.9 L512.2 419.2 L511.2 418.2 L511.1 417.1 L511.6 415.8 L512.2 414.4 L512.5 413.2 L512.2 412.3 L511.7 411.5 L511.3 410.6Z" fill="url(#gb)" stroke="#a85a32" stroke-width="1.1" stroke-linejoin="round"/><ellipse cx="529.4" cy="410.7" rx="5.5" ry="4" fill="url(#gn)" stroke="#a85a32" stroke-width="0.9" transform="rotate(0 529.4 410.7)"/>
<path d="M430 498.8 L431.3 498.5 L434.4 498.3 L438.1 498.1 L441.2 497.5 L443.7 496.6 L446 495.5 L448.1 494.2 L450 492.5 L451.7 490.3 L453.2 487.7 L454.4 484.9 L455 482.5 L454.7 480.1 L453.7 477.7 L452.7 475.8 L452.5 475 L453.4 475.7 L454.9 477.4 L456.8 479.5 L458.8 481.2 L460.7 482.5 L462.9 483.6 L465.2 484.4 L467.5 485 L470 485.2 L472.6 485.2 L475.1 484.9 L477.5 484.4 L479.7 483.6 L481.7 482.5 L483.5 481.2 L485 480 L486 478.5 L486.6 476.8 L487.1 475.4 L487.5 475 L487.8 476.1 L487.9 478.2 L488.1 480.6 L488.8 482.5 L490.1 483.6 L492 484.3 L493.8 485 L495 486.2 L495.2 488.1 L494.7 490.4 L494.1 492.8 L493.8 495 L494 497 L494.5 499 L494.9 500.8 L495 502.5 L494.7 503.9 L494.2 505 L493.5 506.1 L492.5 507.5 L491.1 509.3 L489.4 511.3 L487.6 513.3 L486.2 515 L485.4 516.4 L485 517.6 L484.6 518.4 L483.8 518.8 L482.5 518.3 L481.1 517.3 L479.4 516 L477.5 515 L475.2 514.2 L472.7 513.5 L470 512.9 L467.5 512.5 L465.1 512.3 L462.8 512.2 L460.6 512.3 L458.8 512.5 L457.1 513 L455.7 513.9 L454.6 514.5 L453.8 514.4 L453.5 513.2 L453.7 511.4 L453.9 509.3 L453.8 507.5 L453.2 506 L452.4 504.7 L451.4 503.5 L450 502.5 L448.2 501.8 L446.1 501.4 L443.7 501 L441.2 500.6 L438.1 500.1 L434.4 499.6 L431.3 499.2Z" fill="url(#gb)" stroke="#a85a32" stroke-width="1.1" stroke-linejoin="round"/><ellipse cx="478" cy="503" rx="6" ry="3.5" fill="url(#gd)" opacity="0.8"/><ellipse cx="477" cy="495.6" rx="5.5" ry="4.5" fill="url(#gn)" stroke="#a85a32" stroke-width="0.9" transform="rotate(0 477 495.6)"/>
<path d="M683.4 432.5 L684.8 431.1 L685.2 429.3 L685.5 427.8 L686.2 426.9 L687.8 427.1 L689.6 428.2 L691.6 429.2 L693.7 429.7 L696 429 L698.6 427.7 L701 426.4 L703.1 425.9 L704.7 426.6 L706.1 427.9 L707.3 429.5 L708.7 430.6 L710.6 431.2 L712.6 431.6 L714.6 431.9 L716.2 432.5 L717.4 433.6 L718.1 435 L718.9 436.3 L720 437.2 L722 437.2 L724.5 436.7 L726.7 436.2 L727.5 436.2 L726.4 437.2 L723.9 438.7 L721.1 440.4 L719.1 441.9 L718 443.2 L717.5 444.6 L717 445.8 L716.2 446.6 L715.1 446.7 L713.8 446.3 L712.4 445.8 L710.6 445.6 L708.4 445.9 L705.8 446.3 L703.2 446.8 L701.2 447.5 L700.1 448.5 L699.5 449.8 L699.1 450.9 L698.4 451.2 L697.5 450.6 L696.4 449.2 L695.2 447.7 L693.7 446.6 L691.7 446.2 L689.4 446.2 L687 446.1 L685.3 445.6 L684.6 444.5 L684.7 443 L684.5 441.4 L683.4 440 L680.3 438.7 L675.9 437.5 L672 436.3 L670.3 435.3 L672 434.5 L675.9 434 L680.3 433.4Z" fill="url(#gb)" stroke="#a85a32" stroke-width="1.1" stroke-linejoin="round"/><ellipse cx="701.7" cy="436.7" rx="5.5" ry="4" fill="url(#gn)" stroke="#a85a32" stroke-width="0.9" transform="rotate(0 701.7 436.7)"/>
<path d="M820 413.8 L820.3 411.9 L820.8 409.6 L821.5 407.6 L822.5 406.2 L823.8 406.1 L825.3 406.8 L827 407.7 L828.8 408.1 L830.6 407.8 L832.6 407.2 L834.5 406.5 L836.2 406.2 L837.7 406.5 L839 407 L840.1 407.7 L841.2 408.1 L842.3 408.2 L843.4 408.2 L844.3 408.2 L845 408.8 L845.5 410 L845.7 411.9 L845.9 413.7 L846.2 415 L846.9 415.5 L847.8 415.5 L848.5 415.5 L848.8 415.6 L848.3 416.1 L847.3 416.8 L846.1 417.5 L845 418.1 L844.2 418.7 L843.4 419.3 L842.5 419.8 L841.2 420 L839.4 419.8 L837.3 419.4 L834.9 419 L832.5 418.8 L829.9 419 L827.1 419.5 L824.5 419.9 L822.5 420 L821.4 419.7 L821 419.1 L820.8 418.3 L820.6 417.5 L820.3 416.7 L820 415.9 L819.9 415Z" fill="url(#gb)" stroke="#a85a32" stroke-width="1.1" stroke-linejoin="round"/><ellipse cx="831.9" cy="413.1" rx="4.5" ry="3.5" fill="url(#gn)" stroke="#a85a32" stroke-width="0.9" transform="rotate(0 831.9 413.1)"/>
<path d="M516.2 545 L516.6 545.4 L517.8 547.2 L519.5 549.5 L521.2 551.2 L523.1 552.5 L525.2 553.5 L527.5 554.4 L530 555 L532.9 555.4 L536 555.5 L539.3 555.4 L542.5 555 L545.7 554.2 L549.1 553 L552.2 551.5 L555 550 L557.4 548.2 L559.4 546.2 L561.1 544.3 L562.5 542.5 L563.3 540.8 L563.7 539.1 L564 537.8 L564.4 537.5 L565 538.6 L565.7 540.6 L566.6 543 L567.5 545 L568.6 546.5 L569.7 548 L571 549.2 L572.5 550 L574.2 550.4 L576.2 550.5 L578.2 550.3 L580 550 L582 549.3 L584.1 548.3 L585.7 547.5 L586.2 547.5 L585.2 548.7 L583 550.6 L580.5 552.9 L578.8 555 L577.9 556.8 L577.3 558.7 L577.2 560.5 L577.5 562.5 L578.2 564.7 L579.3 567.1 L580.8 569.4 L582.5 571.2 L584.7 572.6 L587.4 573.6 L590.1 574.4 L592.5 575 L594.7 575.3 L596.8 575.3 L598.3 575.3 L598.8 575.6 L597.5 576.4 L595 577.4 L592.2 578.6 L590 580 L588.6 581.7 L587.6 583.6 L586.8 585.6 L586.2 587.5 L585.9 589.4 L585.8 591.3 L585.9 593.2 L586.2 595 L587.2 596.9 L588.6 598.8 L589.8 600.4 L590 601.2 L589 601 L587.1 600 L584.8 598.7 L582.5 597.5 L580.2 596.4 L577.7 595.2 L575.1 594.2 L572.5 593.8 L570 593.8 L567.5 594.4 L565 595.2 L562.5 596.2 L560 597.5 L557.4 599.1 L554.9 600.8 L552.5 602.5 L549.9 604.7 L547.3 607.3 L545 609.3 L543.8 610 L543.9 608.7 L545.1 605.9 L546.5 602.7 L547.5 600 L547.9 597.9 L548 595.9 L547.9 594.1 L547.5 592.5 L546.7 591 L545.5 589.5 L544.1 588.3 L542.5 587.5 L540.5 587.1 L538.3 587.1 L535.9 587.3 L533.8 587.5 L531.8 587.6 L530 587.7 L528.2 588 L526.2 588.8 L523.7 590.6 L520.8 593.3 L518.4 595.5 L517.5 596.2 L518.9 594.7 L521.9 591.6 L525.2 588 L527.5 585 L528.5 582.9 L528.9 581 L528.9 579.3 L528.8 577.5 L528.4 575.6 L527.7 573.7 L527 571.8 L526.2 570 L525.6 568.4 L524.9 566.9 L524.3 565.4 L523.8 563.8 L523.5 562.1 L523.4 560.3 L523.1 558.4 L522.5 556.2 L521 553.3 L519 549.8 L517.1 546.7Z" fill="url(#gb)" stroke="#a85a32" stroke-width="1.1" stroke-linejoin="round"/><ellipse cx="562" cy="563" rx="7" ry="9" fill="url(#gl)" opacity="0.9"/><ellipse cx="561" cy="585" rx="9" ry="5" fill="url(#gd)" opacity="0.95"/><ellipse cx="546.9" cy="566.2" rx="7.5" ry="6" fill="url(#gn)" stroke="#a85a32" stroke-width="0.9" transform="rotate(0 546.9 566.2)"/>
<path d="M523.7 563.7 Q512.5 572.5 492.5 576.2 T463 571" stroke="#a85a32" stroke-width="1" fill="none"/>
<g fill="none" stroke="#80503c" stroke-linecap="round" stroke-linejoin="round"><path stroke-width="2" d="M665 618.8l-1.2 -3.3 0.3 -3.8 -0.8 -3.6 -1.2 -3.5 -1.5 -3.4 -0.5 -3.5M772.6 608.8l1.7 -2.7 1.1 -3.2 2.3 -2.6 0.8 -3.4 -0.9 -3.4 0.3 -3.4 -0.9 -3.3 -1.6 -3 0.9 -3.6 -1 -3.3 0.7 -3.4 1 -3.2 0.8 -3.2 0.8 -3.3 0.1 -3.5 1.9 -2.9 0.3 -3.2M820.2 694.9l3.2 -0 2.8 -2.2 3.5 0.3 3.3 -0.4 2.8 -1.5M779.2 755.6l3.2 0.3 2.9 2.2 3.4 -0.6 3.2 -0.9 3.4 -0.1 3 -1.8 3.6 0.8 2.9 -1.4"/><path stroke-width="1.5" d="M659.8 597.5l-3.2 -0.4 -3.5 0.3 -3.6 -0.6 -3.4 1.4 -2 -3.1 -1.8 -2.9 -1.1 -3.2 -1.8 -3.1 -0.3 -3.2M661.1 595.8l1.8 -2.5 1.4 -2.9 1.1 -3 0.8 -3.2 1.6 -2.8 1.9 -2.7 1.5 -2.9 1.1 -3.1 2.2 -2.5 0.3 -3.4 1.6 -2.8 0.8 -3.1 1.5 -2.9 1.2 -2.8M777.6 589.8l1.1 -2.8 1.6 -2.8 1.2 -3 1 -3 1.6 -2.9 2.9 -1.5 2.2 -2.4 2.6 -2 1.2 -3.1 2.1 -2.5 1.7 -2.7 1.6 -2.8 1 -3.2 2.1 -2.5 1.8 -2.8 2.6 -2 2.3 -2.3 2.9 -1.6 2.7 -1.3M836.2 690.8l2.5 -1.9 2.3 -2.6 1.2 -3.4 2.3 -2.5 3.3 -1.7 2.2 -2.6 2.2 -2.6 1 -3.5 3 -1.9 2.4 -2.5 2.1 -2.7 1.6 -2.7M822.7 695.2l1.7 2.5 3.4 1 2.2 2.6 0.9 3.3 2 2.5 2.3 2.4 0.4 3.4 2.7 2.2 1 3.1 1 3.1 1.2 3 1.8 2.7 2 2.5 2.4 2.2 1.9 2.6 1.6 2.8 2.1 2.4 2.5 2.2 1.4 3.1 2.8 1.8 2.5 2 3.2 1.2 0.5 3.4 1.2 2.9 1.7 2.8 0.2 3.2 1.6 2.7M780.2 756.2l1.4 2.7 3.1 1.8 2.1 2.3 2.8 1.4 3.2 0.6 3.4 -0.6 3.3 0.4 3.2 -0.3 3.4 1 3.2 -1.5 3.2 -0.2 3.3 -0.3 3.5 0.9 3.1 -1.7 3.3 0 3.3 0.1 3.4 -0.2 3.2 -0.9 3.3 -0.4 3.2 -1 3.4 -0.2 3.1 2 3.3 0 2.9 1.6 3.5 0.3 2.5 1.9M787.7 764.2l1.9 2.4 2.9 1.9 3 1.6 2.4 2.3 2.4 2.5 2.8 1.9 3.3 0.8 2.9 1.8 3.4 0.3 3.3 0.7 3.4 0.6 3.3 -0.7 3.4 1 3.4 -1.6 3.3 0.7 3.5 0.1 3 1.8 3.6 -0.2 3 1.7 2.9 1.1M720 764.2l-0.1 3.1 0.8 3.4 -0.7 3"/><path stroke-width="1" d="M660.5 600.9l-1.8 -0.2 -1.8 -0 -1.8 -0.1M655.1 600.6l-0.9 0.7 -1 0.5 -1.1 0.2M655.1 600.6l-1.3 -0.6 -1.3 -0.3 -1.3 -0.4M656.9 600.7l-1.1 0 -1.1 0.3 -1 0M662.6 606.3l0.9 -1.5 0.8 -1.5 1.2 -1.3M665.5 602l1.3 -0 1.3 0.4 1.2 0.8M665.5 602l0 -1 0.1 -1 0 -0.9M663.5 604.8l1 -0.1 1.1 -0.1 1 -0.1M660.1 597.7l-0.5 -1 -0.7 -1 -0.6 -1M660.1 597.7l0.2 -0.9 0.3 -0.9 0.3 -1M639.2 584.4l-0.7 -1.5 -0.4 -1.5 -0.5 -1.5M637.6 579.9l-1.3 -0.4 -1.1 -0.8 -0.7 -1.1M637.6 579.9l0.2 -1.3 0.1 -1.3 -0.1 -1.3M648.3 597.3l-1.1 1.7 -0.5 2 -0.2 2M646.5 603l0.4 1.2 0.1 1.3 -0 1.3M646.5 603l-0.4 1.2 0.1 1.2 0.4 1.2M646.5 603l-1.2 1.2 -1.6 0.7 -1.6 0.3M647.2 599l-1.2 0.3 -1.2 0.3 -1.2 -0.1M639.1 582.7l-0.9 -1 -0.7 -1.2 -1 -0.9M639.1 582.7l0.2 -1.6 0.3 -1.7 0.5 -1.6M645.8 597.5l-3.6 -0.8 -3.8 0.2 -3.9 -0.3 -3.3 -1.5M631.7 595.3l-1.5 0.7 -1.2 1.1 -1.1 1.2M627.9 598.3l-0.1 0.9 0 1 0 1M627.9 598.3l-0.8 0.6 -0.8 0.6 -0.8 0.6M630.2 596l-0 0.9 -0 1 0.3 1M631.2 595.1l-1.1 0 -1.1 0.2 -1.1 0.1M631.2 595.1l-0.7 -0.7 -0.8 -0.6 -0.6 -0.8M645.8 598.2l-1.9 2.4 -2.6 2 -2.3 2.4 -2.6 2.2 -1 3.5 -3 1.7 -2.3 2.4 -2.6 2 -2.6 2.1 -1.3 3.3 -2.5 2.2 -1.7 2.9 -1.8 2.5M636.5 607.1l-1.9 -0.6 -1.6 -1.1 -1.9 -0.7M631.1 604.7l-0.7 -1.4 -0.5 -1.4 -1.1 -1.2M631.1 604.7l-1.3 0.3 -1.3 0.4 -1.3 0.5M634.6 606.5l-0.8 -0.9 -0.7 -0.9 -0.7 -0.9M629.1 615.6l-0 1.9 -0.5 1.9 -0.8 1.8M627.8 621.2l-0.9 1 -1 1.1 -1 1M627.8 621.2l0.2 1.5 -0.2 1.4 0 1.5M628.6 619.4l-0.9 0.7 -0.9 0.7 -1.1 0.6M619.3 627.4l0.5 1.8 0.8 1.7 0.9 1.8M621.5 632.7l-0.6 1.4 -0.2 1.4 -0.7 1.4M621.5 632.7l1 0.5 1.1 0.6 0.9 0.7M619.8 629.2l-1.1 0.6 -1.1 0.2 -1.1 -0.1M617.6 629.8l-0.2 1.1 -0.5 1.1 -0.1 1.1M617.6 629.8l-1.1 0.7 -1.1 0.5 -1.2 0.4M644.2 605.2l1.6 2.6 2.1 2.5 2.8 1.9 1 3.5 3.3 1.5 2 2.7 1.8 2.4M657.5 620.5l0.9 2 0.8 2 0.6 2.1M659.8 626.6l-0.4 1.2 -0.3 1.2 -0.6 1.1M659.8 626.6l0.5 1.1 0.4 1.3 0.3 1.2M658.4 622.5l-0.8 0.9 -0.7 1.1 -0.9 1M657.2 620.1l-0.6 1.4 -0.3 1.5 -0.6 1.4M655.7 624.4l-0.2 0.9 -0.2 0.8 -0.3 0.9M655.7 624.4l-0.9 0.9 -0.7 1 -0.6 1M656.6 621.5l0.6 0.6 0.9 0.4 0.7 0.6M658.8 622.3l1.2 0.3 1.2 0.4 1.2 0.2M658.8 622.3l0.5 1.2 0.6 1.1 0.8 1M637 612.2l0.7 3.2 0.3 3.3 0.3 3.4 -1.1 3.5 1 3.4 -0 3.4 0.2 3.3 0.1 3.3 2.3 2.6 3.4 0.6 3.4 0.3 3.2 -0M638 622.9l-1.6 0.5 -1.8 0.1 -1.7 -0.4M632.9 623.1l-0.7 -1.2 -0.4 -1.4 0.1 -1.4M632.9 623.1l-1.4 -0.1 -1.4 -0.4 -1.4 0.1M634.6 623.5l-0.1 1 0.2 1.1 -0.2 1M638.5 638.3l-1.6 2.4 -2 1.9 -2.4 1.6M632.5 644.2l-0.6 1.8 -0.7 1.7 -1.1 1.6M632.5 644.2l-1 1.3 -0.9 1.4 -1 1.4M632.5 644.2l-1.9 0.9 -1.6 1.4 -1.9 0.8M634.9 642.6l-0 1.7 -0.1 1.7 -0.1 1.7M638.4 637.1l1.6 1 1.6 0.9 1.6 0.8M643.2 639.8l1.1 0.1 1 0.2 1 0.4M643.2 639.8l0.2 1.4 0.3 1.4 0.4 1.4M641.6 639l0.4 1 0.3 1.1 0.1 1.1M650.8 642.5l0.8 -0.6 0.9 -0.4 1 -0.3M650.8 642.5l1 0.7 1.1 0.7 0.9 0.9M629.9 616.2l-2.4 2.1 -1.8 2.8 -1.3 3.1 -1.5 3 -2.1 2.8 -0.6 3.3 -0.6 3.3 0.4 3.2M619.6 636.7l1.6 0.9 1.4 1.2 1 1.5M623.6 640.3l1.3 0 1.3 0.3 1.3 0.3M623.6 640.3l0 1.5 0 1.5 0.5 1.5M623.3 626.4l-1.8 0.9 -2.1 0.4 -2 0.2M617.4 627.9l-1 1 -1.3 0.6 -1.2 0.7M617.4 627.9l-1.4 -0.6 -1.5 -0.4 -1.4 -0.7M620 639.8l1 0.9 0.8 1.1 1.1 0.8M620 639.8l-0.2 1.2 -0.4 1.3 -0.4 1.3M660 597.3l-0.2 -3.5 1.1 -3.4 -0.5 -3.5 0.1 -3.7 -2.8 -2.5 -1.7 -3.2 -0.9 -3.3M660.9 590.3l-0.8 -1.3 -1.1 -1 -1.1 -1.1M657.9 586.9l-0.9 0.2 -0.9 -0 -0.9 0.2M657.9 586.9l-0.8 -0.9 -0.7 -1 -0.9 -0.8M660.1 589l0.3 -0.9 0.5 -0.7 0.4 -0.8M655.1 574.2l-0.8 -0.6 -0.6 -0.8 -0.4 -0.9M655.1 574.2l0.6 -0.9 0.3 -1.1 0.6 -0.9M676.7 562.9l-1.2 -1.6 -0.9 -1.8 -0.4 -2M674.2 557.5l-1.3 -0.4 -1.2 -0.9 -1.3 -0.6M674.2 557.5l0.3 -1.6 0.4 -1.5 0.5 -1.4M675.5 561.3l0.3 -1.2 0.1 -1.2 -0.3 -1.2M679.4 556.4l-0.6 -1.7 -0.7 -1.7 -0.5 -1.8M677.6 551.2l0.7 -1.1 0.8 -1.1 0.7 -1.1M677.6 551.2l-0.6 -1.3 -0.9 -1.2 -0.7 -1.3M675.6 565.3l-0.2 -1.8 -0.5 -1.8 -0.6 -1.7M674.3 560l-1.2 -0.7 -1.3 -0.4 -1.2 -0.7M674.3 560l-0.2 -1.4 0.1 -1.4 0.6 -1.3M674.3 560l0.7 -1.4 0.8 -1.3 0.9 -1.2M679.9 555.2l-0 -1.3 -0.2 -1.3 -0.5 -1.1M679.9 555.2l0.6 -0.9 0.2 -1 0.3 -1.1M670.2 577.4l2.9 -1 2.2 -2.7 3.3 -0.6 2.3 -2.4 3.2 -0.9 2.5 -2 2.5 -2 2.4 -2.2 1.6 -2.8 2.2 -2.4 2.7 -1.9 1.8 -2.3M686.7 567.6l2.8 0.4 2.7 0.7 2.8 0.2M695 568.9l1.8 -0 1.8 -0.2 1.9 -0.1M695 568.9l1 1.5 1.5 1 1.6 0.8M692.2 568.7l1 -1.4 0.6 -1.5 0.3 -1.7M693.3 560.6l-0.9 -2.5 -1.5 -2.1 -1 -2.4M689.9 553.6l-1.5 -0.8 -1.5 -0.6 -1.4 -0.9M689.9 553.6l0.8 -1.9 0.5 -2 0.2 -2M690.9 556l-1.5 0.5 -1.5 0.1 -1.5 -0.4M699.8 554.2l0.6 -1.4 0.2 -1.5 0.4 -1.5M699.8 554.2l1.7 0.1 1.6 -0.4 1.6 -0.1M687.7 567.4l2.9 -1.2 3.5 -0.7 2.5 -2.6 3.4 -0.8 2.6 -2.3 3.5 -0.7 2.9 -1.8 2.4 -2.7 3.4 -0.9 3.2 -1.3 3.5 0.2 3.4 -0.4 3.4 -0.9 3.2 2 3.3 -0.3M713.8 554l2.2 0.9 2.1 0.8 2 1.2M720.1 556.9l0.8 1.2 0.3 1.4 0.7 1.2M720.1 556.9l1.5 -0.1 1.4 -0.3 1.5 -0.3M716 554.9l1.3 -0.3 1.3 -0.4 1.4 -0.4M716.6 553l1 -1.9 1.2 -1.7 1 -1.9M719.8 547.5l-0.1 -1.7 0.3 -1.6 0.1 -1.7M719.8 547.5l1.6 -0.9 1.7 -0.4 1.6 -0.8M708.3 557.7l2.2 -0 2.2 -0.4 2.2 0.2M714.9 557.5l1.5 -0 1.3 -0.3 1.4 -0.3M714.9 557.5l1.2 1 0.8 1.3 0.5 1.5M712.7 557.3l-0 1.3 0 1.3 -0.1 1.4M705.4 559.2l1.4 -1.3 1 -1.6 1.2 -1.5M709 554.8l-0 -1.5 0.1 -1.5 0.4 -1.5M709 554.8l0.7 -1 0.6 -1.1 0.5 -1.1M709 554.8l1.4 -0.2 1.4 -0.5 1.1 -0.8M706.8 557.9l-0.5 -1 -0.4 -1.1 -0.2 -1.1M734.8 553l0.9 -0.4 1.1 -0.1 1 -0.1M734.8 553l1.3 0.4 1.4 0.3 1.3 0.7M662.2 596.8l2.2 -2.2 2.2 -2.7 3.2 -1.3 3.6 -0.5 2.8 1.9 2.2 2.5 2.7 2.1 3 1.1 3.3 1.3 3.4 -1.2 3.3 0.5 3.4 -0.9 3.3 0.5 3.3 -0.8 3.2 0.4M682.7 597.2l1.8 -1.9 1.5 -2 1.9 -1.8M687.9 591.5l0.2 -1.4 0.6 -1.3 0.7 -1.3M687.9 591.5l1.4 -1.1 1.6 -0.8 1.6 -0.9M686 593.3l1.3 0.8 1 1.1 1.2 1.1M693.9 598.3l1.8 -1.7 1.5 -2 1.1 -2.3M698.3 592.3l0.3 -2 0.2 -2.1 0.7 -1.9M698.3 592.3l1.9 -0.4 1.9 -0.7 2 -0.3M697.2 594.6l1.4 -0.2 1.5 0.3 1.5 -0.1M676.3 592.1l-0.7 2 -1.3 1.7 -1 1.9M673.3 597.7l-1.3 0.3 -1.2 -0.1 -1.3 0.1M673.3 597.7l-0.5 1.4 -0.4 1.5 -0.5 1.4M707.3 597.5l1 -0.3 1 -0.3 1.1 -0M707.3 597.5l0.9 0.9 1.2 0.8 1.2 0.5M682.2 595.9l2.5 -1.9 3 -1.5 3.4 -0.4 2.5 -2.2 3.3 -1 2.7 -2 2.7 -1.9 2.4 -2.2 3 -1.6 1.9 -3 2.3 -2.4 3.1 -1.4 2.2 -2.6 2.6 -1.6M717.5 571.6l-0.8 -2.4 -1.4 -2.1 -0.7 -2.5M714.6 564.6l-0.5 -2 -0.5 -2 0.2 -2.1M714.6 564.6l-1.4 -1.5 -1.1 -1.9 -1.7 -1.3M715 574.4l0.5 -1.9 -0.1 -1.9 0.5 -1.9M715.9 568.7l-1 -0.9 -0.9 -1.1 -1.1 -0.8M715.9 568.7l0.2 -1.1 0.3 -1 0 -1.1M715.9 568.7l0.9 -0.8 1.2 -0.5 1 -0.8M712.6 575.5l2.4 -0.2 2.2 -0.7 2.3 -0.8M719.5 573.8l0.5 -1.4 0.5 -1.3 0.3 -1.4M719.5 573.8l1.4 0.2 1.4 -0.2 1.4 -0.1M699.2 587.2l0.6 -2 -0.1 -1.9 -0.5 -2M699.2 581.3l0.4 -1.2 0.4 -1.2 0.6 -1.1M699.2 581.3l-0.9 -1.3 -0.4 -1.6 -1 -1.3M719.8 570.2l0.7 -1 0.9 -0.7 0.7 -0.9M719.8 570.2l1.2 -0 1.3 0.2 1.2 -0.2M681 598.2l1.3 3.2 -0.4 3.7 0.1 3.5 -0.2 3.6 -1.5 3.3 0.3 3.7 -1.5 3.1M681.7 612.4l1.2 2.4 1.8 1.9 1.8 1.9M686.5 618.6l1.5 0.8 1.5 0.7 1.7 0M686.5 618.6l1.1 1.5 1.5 1 1.6 0.9M686.5 618.6l0.4 1.7 0.2 1.7 0.3 1.8M681.4 613.2l1.2 2.3 1.2 2.2 1.1 2.3M684.9 620l-1.1 1.7 -1.6 1.4 -1.5 1.3M684.9 620l1.3 1.3 1.6 0.8 1.7 0.6M682.6 615.5l1.5 -0.4 1.5 -0.2 1.6 0.1M679.1 622.3l-0.1 0.9 0.3 1 0.5 0.9M679.1 622.3l-0.9 1.3 -1 1.1 -0.7 1.4M695.2 598.2l2.9 1.5 2.2 2.9 1.5 2.9 2.4 2.9 -0.2 3.4M701.5 604.8l1.5 0.4 1.4 0.7 1.3 0.8M705.7 606.7l0.7 1.1 0.4 1.1 0.2 1.3M705.7 606.7l1.1 -0.1 1.1 -0.3 1.1 -0M703 605.2l0.4 0.8 0.4 0.8 0.4 0.9M704 611.8l0.5 1.3 0.6 1.2 0.6 1.3M704 611.8l-0.5 1.6 -1 1.4 -1 1.4M776.2 572.9l2.1 -1.7 1.6 -2.1 1.4 -2.3M781.3 566.8l1 -1.2 0.7 -1.3 0.7 -1.4M781.3 566.8l-0.1 -2.1 -0.4 -2.1 -0.3 -2.1M778.3 571.2l1.4 -0.7 1.6 -0.4 1.6 -0.2M779.9 558.5l-0.1 -1.8 0.4 -1.8 0 -1.8M780.2 553.1l-0.9 -1.2 -0.9 -1.2 -1.2 -0.8M780.2 553.1l0.7 -1.3 0.6 -1.3 0.5 -1.3M779.8 556.7l-0.6 -1 -0.5 -0.9 -0.4 -1M777.8 590.6l1.3 -1.4 1.4 -1.2 1 -1.6M781.5 586.4l0.3 -1.5 0.5 -1.4 0.6 -1.5M781.5 586.4l1.2 -0.7 1.2 -0.2 1.4 -0M780.5 588l0.3 -1.1 0.6 -0.9 0.8 -0.8M780.4 557.7l0.2 -2.7 0.3 -2.8 1 -2.7M781.9 549.5l-0.2 -1.7 -0.7 -1.7 -1 -1.5M781.9 549.5l1 -1.5 0.6 -1.7 0.5 -1.7M781.9 549.5l2.1 -0.9 1.9 -1.4 1.5 -1.7M780.6 555l0.4 -1.7 0.3 -1.6 0.8 -1.5M780.9 554.2l-0.4 -1.5 -0.5 -1.4 -0.9 -1.4M780.9 554.2l0.5 -0.8 0.5 -0.9 0.8 -0.7M776.8 567.4l-3.4 -0.2 -2.7 -2.5 -3.6 -0.3 -2.8 -2.3 -3.1 -1M765.9 563.4l-2.6 0.5 -2.4 0.8 -2.3 1.1M758.6 565.8l-1.7 -1 -1.7 -0.9 -1.8 -0.8M758.6 565.8l-1.4 0.9 -1.2 1.2 -1.4 0.7M760.9 564.7l-1.5 -0.3 -1.5 0.3 -1.4 0.6M761.2 561.1l-0.9 0.2 -1 0.3 -1 0.2M761.2 561.1l-1 -1.4 -1.1 -1.3 -1.1 -1.3M778.2 565.9l2.9 -1.2 1.8 -2.9 3.4 -1 2.2 -2.4 2.2 -2.4 2.1 -2.5 2.2 -2.4 1.4 -3.1 2.4 -1.8M789.7 557l-0.7 -1.4 -1 -1.2 -1 -1.1M787 553.3l-1.1 -0.6 -0.9 -0.7 -1.1 -0.5M787 553.3l-0.2 -1.1 -0.4 -0.9 -0.7 -0.8M786.2 560.9l1.8 1 1.8 1.1 1.4 1.5M791.2 564.5l1.2 0.2 1.2 -0.1 1.2 -0.5M791.2 564.5l0.1 1.4 0.1 1.3 0.4 1.3M798.8 546.2l0.8 -1.4 1 -1.2 1.2 -1M798.8 546.2l1.2 0.1 1 0.4 0.9 0.7M788.1 572.5l1.9 0 1.8 -0 1.8 0.1M793.6 572.6l1.2 -0.9 1.3 -0.6 1.2 -0.9M793.6 572.6l1.3 0.1 1.2 0.5 1 0.7M793.6 572.6l0.9 0.9 1 0.8 1.1 0.6M809 545.1l0 -1.9 0.5 -1.9 -0.1 -2M809.4 539.3l0.4 -1.6 0.2 -1.7 -0.2 -1.6M809.4 539.3l-1 -0.8 -0.8 -1 -0.6 -1.2M809 543.2l1.2 -0.2 1.1 -0.5 0.9 -0.7M801.4 552.8l1.5 0.8 1.6 0.7 1.4 0.9M805.9 555.2l0.7 1.2 0.4 1.4 0.3 1.4M805.9 555.2l1.3 -0.2 1.3 0.1 1.3 -0M792.5 567.6l-1.2 -2.4 -1.3 -2.3 -1.4 -2.3M788.6 560.6l-1.9 0.2 -1.9 0.6 -1.9 0.6M788.6 560.6l-0.5 -2 -0.6 -2 -0.6 -2M788.6 560.6l0.1 -1.9 0.3 -2 0.2 -2M791.3 565.2l-1.6 -0.2 -1.5 0.3 -1.6 0.1M788.6 572.1l0 -2.7 0.5 -2.6 0.3 -2.6M789.4 564.2l-0.8 -1.9 -0.5 -2.1 0.3 -2.1M789.4 564.2l1.4 -1.1 1.5 -0.7 1.7 -0.5M813.8 542.6l0.6 -1.2 0.8 -1.2 0.5 -1.4M813.8 542.6l1.2 0.3 1.1 0.6 1.1 0.5M803.2 552l3.9 0 3.9 -0.6 3.8 -0.4M807.8 551.9l1.8 -1.7 2.2 -1.3 1.7 -1.8M813.5 547.1l1.4 0.5 1.5 0.5 1.5 0.1M813.5 547.1l0.3 -1.6 0.4 -1.5 0.6 -1.5M809.6 550.2l1.5 0.1 1.5 0.4 1.2 0.8M814.8 551l1 -1 0.8 -1.1 1 -1M814.8 551l0.9 0.2 1 0.5 0.7 0.7M800.2 555.9l3.1 -0.7 2.9 -1.8 3.5 -0.1 3.3 -0.9 2.9 -2.1 3.5 0 2.9 -1.2M815.4 550.7l1 -1.4 0.7 -1.7 0.9 -1.6M818 546l1.2 0.1 1.1 0.2 1.2 0.4M818 546l0.5 -1 0.4 -1.1 0.4 -1.1M816.4 549.3l1.1 -0.3 1 -0.3 1.1 0.1M814.3 551.5l2.5 -0.3 2.4 -0.9 2.5 -0.3M821.7 550l1.3 -0.8 1.3 -1 1.5 -0.4M821.7 550l0.9 1.3 1 1.3 1.1 1.1M816.8 551.2l1.1 -1 1.3 -0.7 1.5 -0.5M822.3 549.1l0.7 -1.4 0.2 -1.6 -0.1 -1.6M822.3 549.1l1.6 0.2 1.6 0.6 1.3 1M797.2 559.9l3.1 -0.8 3.5 -0.6 3.1 -1.7 3.4 -0.5 3.5 -0.3 3.3 -1.2 3.6 0 3.4 -0 3.4 -1 3.3 0.2M807.5 556.7l1.5 1.6 1.1 1.9 0.6 2.2M810.7 562.4l1.1 0.5 1.3 0.3 1.3 0.1M810.7 562.4l-0.1 1.8 -0.5 1.7 -0.4 1.8M820.3 554.8l1.1 2 0.5 2.1 0.6 2.2M822.5 561.1l-0.6 1.5 -0.6 1.5 -1 1.2M822.5 561.1l0.8 1.2 0.3 1.4 -0.1 1.4M821.9 558.9l-0 1.4 -0.2 1.3 -0.5 1.2M830.8 554l1 -0.2 1 -0.6 0.9 -0.6M830.8 554l1.1 0.8 1 0.8 0.8 1M779.2 596.9l2.2 -2.3 3.4 -0.7 2.5 -2.3 2.9 -1.7 2.5 -2.2 2.9 -1.5 3.4 -1.1 1.5 -3.2 0.7 -3.3 2.2 -2.6 1.8 -2.9 2.6 -2 2.9 -1.8 3.2 -0.9 2.5 -2.4 3.4 -0.3 3 -1.8 3.3 -0.4 3.3 -0.6 3.3 -0 3.1 -0.4M800.5 581.7l1.9 -0.7 1.7 -1 1.4 -1.4M805.5 578.6l1.1 -0.7 0.9 -1 0.5 -1.2M805.5 578.6l0.7 -1.4 0.9 -1.3 0.5 -1.5M802.2 577.4l-0 -1.7 -0.2 -1.7 0.3 -1.7M802.3 572.3l-0.9 -1 -0.7 -1.3 -0.4 -1.3M802.3 572.3l1.1 -0.5 1.2 -0.3 1.2 -0.5M802.2 575.7l0.5 -0.8 0.7 -0.8 0.7 -0.8M803.7 575.5l-0.9 -1.4 -1.3 -1 -1.3 -1M800.2 572.1l-1.3 -0.3 -1.3 0.2 -1.3 -0.2M800.2 572.1l-0.1 -1.1 0.1 -1 -0.1 -1M801.5 573.1l0.8 -0.7 0.6 -0.8 0.5 -0.8M802.7 576.9l1.8 0.1 1.9 -0.4 1.6 -0.9M808 575.7l1 -1.2 1.3 -1 1.1 -1M808 575.7l1.3 -0.4 1.3 0 1.2 -0.3M808 575.7l1.2 0.3 1 0.6 0.8 1M807.7 571.1l0.7 -2.5 -0 -2.6 0.7 -2.5M809.1 563.5l1.1 -1.6 1.2 -1.5 1.7 -1M809.1 563.5l-1.1 -1.7 -1.4 -1.6 -1.6 -1.3M808.4 568.6l1.3 -0.8 1.1 -1.2 1.1 -1.1M835.8 562.5l1.2 -0.7 1 -0.9 1.3 -0.6M835.8 562.5l1.1 0.7 1.1 0.6 1.3 0.2M801.2 581.9l3.1 -0.4 3.3 -0.6 3.2 -1 3.3 -0.5 3 -1.7 2.9 -1.8 3.5 0.6 3.2 -1.7 3.3 0.1 3.3 0.1 3.4 -0.6 3.1 0.6M823.5 576.5l1.1 -1.2 1.3 -1 1.5 -0.7M827.4 573.6l0.4 -0.8 0.7 -0.6 0.9 -0.4M827.4 573.6l0.9 -0.8 0.9 -0.7 0.8 -0.9M827.4 573.6l1 0.3 0.9 0.5 1 0.2M826.4 574.9l1.6 0.5 1.7 0.5 1.6 0.4M831.3 576.3l0.8 -1 0.8 -0.9 0.6 -1.1M831.3 576.3l1.1 0.5 0.9 0.8 1.1 0.5M831.3 576.3l1 1.1 1.2 0.7 1.3 0.7M828 575.4l0.9 -0.5 1 -0.2 1 -0.2M824.6 575.9l-0.8 -2.7 -0.5 -2.8 -0.8 -2.7M822.5 567.7l-0.4 -2 0.2 -2.1 -0.4 -2M822.5 567.7l-1.9 -0.7 -2 -0.3 -2 -0.2M823.8 573.2l-1.3 -1.1 -0.9 -1.4 -1.3 -1.1M839.8 575l1 -0.2 1.1 0 1 0.3M839.8 575l1.4 1 1.3 1 1.1 1.4M810.2 580.1l3.1 1.1 3 1.6 2.4 2.8 3.4 1.1 2.8 1.9 2.4 2.3M817.1 583.7l-0.1 1.7 -0.5 1.7 -0.4 1.7M816.1 588.8l0.4 1.4 0.1 1.4 0.7 1.2M816.1 588.8l-0.8 1.3 -0.8 1.3 -1.1 1.1M816.1 588.8l-1.3 0.3 -1.3 0.3 -1.4 -0.1M817 585.4l-0.7 0.8 -0.7 0.8 -0.8 0.7M827.3 590.9l1 -0.2 0.9 -0.2 1 -0.3M827.3 590.9l0.2 1.2 0.3 1.1 0.2 1.2M815.2 578.1l3.1 1.1 3.1 1.6 2.1 3.1 3.4 1 3 1.7 2.4 2.3M832 588.6l2.4 0.5 2.5 0.8 2.4 0.8M839.3 590.7l1.1 -0.9 0.9 -1.2 1.1 -1M839.3 590.7l1.6 0.3 1.6 0.3 1.6 0.1M839.3 590.7l1.5 1 1.7 0.8 1.8 0.7M827.2 585.1l0.4 2.3 0.6 2.2 0.1 2.3M828.3 591.9l0.7 1.1 0.9 0.9 0.7 1.2M828.3 591.9l-0.4 1.6 -0.8 1.5 -0.4 1.6M828.2 589.6l1.3 -0.4 1.3 -0.2 1.4 -0.1M832.3 588.9l1.6 -0.3 1.7 0.1 1.6 -0.4M832.3 588.9l0.2 1.2 -0.1 1.2 -0.2 1.3M777.7 601.1l2.9 1.3 3 1.4 3.6 -0.1 3.1 1 3.3 -0.4 2.9 -1.7 3.3 -0.8 3.1 -1.4 3 -1.4 2.9 -1.3 2.5 -2.1 2.3 -2.5 1.3 -2.9M797.5 602.3l1.5 1 1.7 0.6 1.6 0.7M802.3 604.6l1.2 -0.9 1.3 -0.6 1.4 -0.3M802.3 604.6l1.2 0.9 1.2 0.9 0.8 1.3M800.7 603.9l0.9 -0.6 0.9 -0.6 0.9 -0.6M795.7 603.1l1.1 -1.5 1.2 -1.3 1.6 -1.1M799.6 599.2l0.5 -0.8 0.7 -0.8 0.6 -0.8M799.6 599.2l1.2 -0.8 1.3 -0.6 1.3 -0.8M799.6 599.2l1.1 0 1.2 0 1.2 0M814 592.1l0 -2.1 0.6 -2 0.9 -1.9M815.5 586.1l1.3 -1.2 0.9 -1.5 1.2 -1.1M815.5 586.1l-0.3 -1.4 -0.4 -1.5 -0.6 -1.3M814.9 590.2l0.2 -1 0.1 -1.1 0.2 -1M814.9 590.2l0.9 -0.6 1.1 -0.3 1 -0.6M810.2 597.5l3.2 0 3.3 -0.1 2.9 1.6 2.6 1.8 0.5 3.5 -1.2 3.3 0.6 3.3 -0.6 3.4 0.8 3.3 -0.3 3.2M821.7 608.7l-1.4 2.2 -1.2 2.4 -1.7 1.9M817.4 615.2l-1.7 0.4 -1.8 0.6 -1.7 0.5M817.4 615.2l-0.6 1.8 -0.5 1.8 -0 2M820.3 610.9l1.1 1.1 0.7 1.4 0.7 1.4M819.4 598.9l2 -1.1 2.2 -0.8 2.2 -0.5M825.8 596.5l0.2 -1.6 -0.2 -1.5 -0.4 -1.5M825.8 596.5l1.2 -0.7 1.4 -0.6 1.4 -0.2M825.8 596.5l1.2 0.9 1.2 0.9 1.2 1M821.8 606.8l1.5 1.6 1.3 1.9 1.4 1.7M826 612l0.3 1.7 0.2 1.8 0.1 1.7M826 612l1.4 -0 1.5 -0.1 1.3 -0.3M823.3 608.4l1.2 -0.5 1.3 -0.3 1.3 -0.3M822 620.8l0.3 1 0.4 1.1 0.2 1.1M822 620.8l-0.6 1.5 -0.1 1.7 -0.3 1.7M821.2 599.1l3 1.3 1.8 3.1 1.4 2.8 -0.7 3.4 -0.5 3.3 0.6 3.6 -0.8 3.2M826.3 612.2l0.3 2.5 0 2.5 0.3 2.6M826.9 619.8l1.7 0.9 1.8 1 1.4 1.4M826.9 619.8l-0.1 2.1 -0.5 2.1 -0 2.1M826.9 619.8l-0.6 1.3 -0.5 1.3 -0.2 1.4M827.3 607l-2.1 1.8 -2 1.9 -2.2 1.7M821 612.4l-1.7 0.8 -1.7 0.9 -1.5 1.2M821 612.4l-1 2.1 -1.4 1.9 -0.8 2.2M823.2 610.7l-0 1.6 -0.2 1.7 -0.3 1.6M826 619.8l0.3 1.4 0.7 1.4 0.9 1.2M826 619.8l-0.6 1.1 -0.9 0.9 -1 0.8M824.2 600.1l2.5 2.3 2.9 2 3.6 0.8 2.6 2.2M835.5 607.1l2.5 0.5 2.5 -0.1 2.5 0.1M843 607.6l1.7 1 1.6 1.2 1.3 1.5M843 607.6l1.4 -1.1 1.3 -1.4 1.1 -1.4M835.8 607.4l1.7 -0 1.7 -0.4 1.7 0.1M835.8 607.4l0.7 1.5 0.8 1.6 1.1 1.3M772.7 609.1l3.4 0.6 3.2 1.8 3.1 1.9 1.4 3.5 1.7 2.9M778.9 611.3l1 2.5 1.2 2.5 1.4 2.4M782.5 618.7l-0.8 1.8 -0.6 2 -0.2 2M782.5 618.7l1.2 1 0.9 1.2 0.8 1.4M785.5 619.8l1 0.7 1.2 0.6 1 0.8M785.5 619.8l0.7 1.2 0.7 1.3 0.4 1.4M773.9 603.8l-2.1 -2.6 -1.9 -3 -0.6 -3.7 -0.3 -3.5 0 -3.3M769 589.5l1 -1.8 1.5 -1.5 1.1 -1.7M772.6 584.5l-0.4 -1.3 -0.5 -1.2 -0.5 -1.3M772.6 584.5l1.6 -0.6 1.6 -0.6 1.7 -0.4M771.5 586.2l1.1 0.4 1.3 0.2 1.1 0.4M769 587.7l-0.4 -1 -0.1 -1.1 -0.2 -1.1M769 587.7l0.5 -1 0.5 -1 0.6 -1M832.5 692.7l1.3 1.5 0.8 1.7 1.2 1.5M835.8 697.4l1.3 0.3 1.3 0.4 1.2 0.5M835.8 697.4l0.5 1.2 0.1 1.4 -0.2 1.3M834.6 695.9l1.1 0.1 1.2 -0.4 1 -0.4M835.8 691.1l1.1 -0.8 1.2 -0.5 1.3 -0.5M835.8 691.1l1 0.3 1.1 0.3 1 0.6M835.9 690.8l-0.5 -3.5 -2.3 -3 -2 -2.9 -2.2 -2.9 -3.1 -2 -3.1 -1.4M824.7 676l-2.3 0.2 -2.3 -0.4 -2.2 -0.9M817.9 674.9l-1.8 -0.1 -1.8 -0.2 -1.7 0.3M817.9 674.9l-1.8 -0.1 -1.7 0.4 -1.8 -0.1M817.9 674.9l-0.3 -1.3 -0.3 -1.3 -0.3 -1.3M833.3 684.6l-2.4 -0.7 -2.5 -0 -2.4 -0.2M826 683.7l-1.4 0.7 -1.4 0.5 -1.4 0.5M826 683.7l-1.3 -1 -0.8 -1.4 -1 -1.3M830.9 683.9l-0.6 -1.4 -0.2 -1.5 0.3 -1.4M822.7 675.1l-1 0.1 -1.1 -0.2 -1.1 -0.1M822.7 675.1l-1.3 -1 -1.6 -0.7 -1.5 -0.9M831.8 684l-4.5 0.8 -4.6 0.2M827.8 684.7l-1.6 1.5 -1.2 1.7 -1.4 1.6M823.6 689.5l-1.3 0.3 -1.3 0.1 -1.3 0.2M823.6 689.5l0.1 1.3 0.1 1.3 0.2 1.3M822.7 685l-0.8 0.4 -1 0.2 -0.9 0.3M822.7 685l-1.2 -1.2 -1.3 -1.2 -1.5 -0.9M853.2 670l1.6 -2.1 0.8 -2.5 1.2 -2.3M856.8 663.1l0.6 -1.5 0.6 -1.4 1.1 -1.2M856.8 663.1l1.8 -0.8 1.9 -0.7 1.9 -0.3M854.8 667.9l-0.1 -1.6 -0.4 -1.5 -0.8 -1.4M853.7 669.7l-0.3 -2.5 -0.7 -2.5 -0.9 -2.3M851.8 662.4l-0.3 -1.4 -0.4 -1.4 -0.5 -1.3M851.8 662.4l-1.7 -1.2 -1.7 -1.1 -1.4 -1.5M853.4 667.2l0.8 -1.3 0.9 -1.2 0.4 -1.4M862.3 660.2l-0.3 -1.3 -0.6 -1.1 -0.8 -1.1M862.3 660.2l1 -0.4 0.9 -0.2 0.9 -0.4M857.2 666.9l3.2 -1.2 2.8 -2.5 3.7 -0.5 2.9 -1.6M862.7 663.7l2.4 0.6 2.5 -0 2.4 0.7M870 665l1.8 -0.7 1.7 -1.1 1.6 -1.1M870 665l1.1 1 0.8 1.2 1 1.1M865.1 664.3l0.8 1.2 1 1.1 0.7 1.4M869.8 661.1l0.9 -1.2 0.8 -1.3 0.9 -1.3M869.8 661.1l1.1 -0.5 1.3 -0.1 1.1 -0.5M845.9 679.8l-1.6 -3.1 -1.4 -3.4 -0.8 -3.6 0.4 -3.5M842.2 670l0.5 -2 0.8 -1.9 0.5 -2M844 664.1l-0.3 -1.2 -0.4 -1.2 -0.5 -1.1M844 664.1l1.3 -0.7 1.1 -0.9 1.3 -0.6M842.5 666.2l-0.5 -0.8 -0.5 -0.9 -0.2 -0.9M842.5 666.2l0.7 -0.9 0.9 -0.7 1.1 -0.5M845.2 681l3.2 -0.1 3.4 -0.8 3.5 0.4 3.4 -0.4 3.4 -0.9 3.4 -0.6 3.6 0.8 2.9 -2.2 3.4 -1.2 1.8 -3.1 1.7 -2.7M877.4 672.5l-1 -2.2 -0.2 -2.4 -0.9 -2.2M875.3 665.7l-1.9 -0.6 -1.6 -1.2 -1.4 -1.3M875.3 665.7l-0.3 -1.4 -0.7 -1.2 -0.8 -1.1M876.2 667.9l-1.3 -0.7 -1.3 -0.5 -1.5 -0.2M857.3 680.3l1.6 1.9 0.9 2.2 1.3 2.2M861.1 686.6l-0.6 1.9 -0 2 -0.1 2M861.1 686.6l1.4 0.8 1.2 1.1 1.3 1.1M878.9 670.2l-0 -1.1 0.2 -1 0.5 -0.9M878.9 670.2l0.9 -0.6 1.1 -0.5 1.1 -0.1M864.2 680.1l3.2 1.7 3.6 1.6 2.8 2.5M870.1 683l1.5 -0.6 1.5 -0.6 1.7 -0.1M874.8 681.7l0.7 -0.7 0.8 -0.7 0.7 -0.7M874.8 681.7l1.1 0.3 1.1 0.4 1.2 0.1M873.8 685.9l1.4 0.3 1.4 0.3 1.3 0.7M873.8 685.9l0.8 1.4 0.5 1.6 0.7 1.4M836.2 691l2.9 1.3 3.4 0.1 3.4 0.1 3.3 -0.6 3.3 -0.5 3.5 1.4 3.2 -1.5 3.3 0.4 3.3 -0.8 3.3 -0.9 3.4 0.2 3.3 1.5 3.4 -0.8 3.1 0.1M861.5 691.6l2 1.8 1.6 2.1 1.8 2M866.9 697.5l1.9 0.4 1.8 0.7 1.7 0.9M866.9 697.5l1.6 1.6 1.6 1.6 1.1 1.9M866.9 697.5l0 1.9 -0.1 2 0.1 1.9M863.5 693.4l-0.7 1.4 -0.6 1.5 -0.4 1.5M869.4 690l1.7 1.2 1.4 1.6 0.8 1.9M873.3 694.7l-0 1.2 -0.1 1.2 -0 1.2M873.3 694.7l1.4 0.4 1.4 0.2 1.4 -0.2M872.5 692.8l1.2 -0.3 1.2 0.1 1.2 -0.3M871.2 690.1l0.8 2.1 0.5 2.2 0.8 2M873.3 696.4l1.2 0.6 0.9 0.9 0.7 1.1M873.3 696.4l0.1 1.7 0.5 1.7 0.4 1.6M872 692.2l1.3 0.3 1.4 0 1.3 -0.1M877.3 691.4l1.2 -1.7 1.3 -1.6 0.7 -1.9M880.5 686.2l-0.7 -1.2 -0.7 -1.2 -0.6 -1.2M880.5 686.2l0.8 -1.2 0.9 -1.2 1 -1.1M880.5 686.2l1.4 -0.9 1.6 -0.4 1.4 -0.9M879.8 688.1l1.2 0.1 1.2 -0.1 1.1 -0.5M882.3 691l0.9 -1.3 0.8 -1.4 0.4 -1.6M882.3 691l1.2 0.7 0.9 1.1 0.6 1.3M860.1 692.2l1.6 2.6 2.1 2.7 0.6 3.4 2 2.6 2.7 1.8 2.7 1.3 3 0.9M873.7 707.1l1.8 1.4 1.6 1.8 1.4 1.9M878.5 712.2l1.8 0.3 1.7 0.7 1.6 1M878.5 712.2l0.2 1.7 0.4 1.8 -0 1.7M877.1 710.3l-0.6 1.3 -0.5 1.3 -0.2 1.4M874.8 707.5l1.1 -0.2 1.2 0.3 1 0.6M874.8 707.5l0.9 0.8 1 0.8 1.3 0.4M866.1 703.2l2 3.2 0.5 4.1 2.4 3.3 1.4 3.5M870.4 713l2.5 0.2 2.5 0.2 2.5 -0M877.9 713.4l1.1 1.2 1.5 0.8 1.2 1.1M877.9 713.4l1.1 -1.7 0.7 -1.9 0.4 -1.9M872.4 717.3l1 0.4 0.9 0.5 0.9 0.7M872.4 717.3l-0.4 1.1 -0.3 1.1 -0.7 0.9M844.1 695.2l-0.1 3.2 1.5 3 1.4 3.1 0.9 3.1 1.5 3.1 3.5 0.9 2 3 2.6 2 3.6 0.6 2.5 2.2 2.8 2 3.6 -0.3 3.1 1.3 3.2 0.8 3.2 0.7 3.5 -0 2.7 2 3.1 1.2 2.7 1.9 3.2 1.1 3 1.6 2.2 2.2M897.8 731.9l0.5 1.9 0.4 1.9 -0.2 1.9M898.5 737.6l-0.4 1.1 -0.1 1.3 -0.4 1.1M898.5 737.6l0.6 1 0.5 1.2 0.2 1.2M862.7 718.7l0.6 2.7 1.1 2.6 0.5 2.8M864.9 726.8l-1 1.1 -0.9 1.4 -1.1 1M864.9 726.8l1.6 1.5 1.9 1.2 1.7 1.4M864.4 724l-1.2 1.3 -1.4 0.8 -1.1 1.3M899.4 733.4l2 -0.1 2 0.4 1.9 0.6M905.3 734.3l1 0.9 1 0.9 1.3 0.6M905.3 734.3l1 -0.7 1.1 -0.4 0.9 -0.7M903.4 733.7l0.7 -0.9 0.5 -1.1 0.4 -1.2M855.6 715.2l0.6 1.6 0.3 1.6 0.5 1.6M857 720l-0.7 1.2 -0.6 1.3 -0.5 1.3M857 720l1.2 0.7 1 0.8 1.2 0.6M856.5 718.4l1 0.4 0.7 0.7 0.8 0.6M875.1 722.9l2 -0.5 2.1 -0 2 0.7M881.2 723.1l0.5 1.4 0.1 1.4 0.1 1.5M881.2 723.1l1.4 -0 1.3 0.1 1.3 0.3M899.8 733.9l1.3 1 1.1 1.1 1 1.4M899.8 733.9l0.8 0.9 1 0.9 1.1 0.7M869.1 722.2l1.5 2.7 1 3.1 1.2 3 1.1 2.8M872.5 730.1l-1.2 1.7 -1.4 1.5 -1.3 1.5M868.6 734.8l0.5 1.4 0.6 1.3 0.4 1.4M868.6 734.8l-1.3 -0.1 -1.4 -0.1 -1.3 -0.1M869.9 733.3l-1 0.6 -1.1 0.6 -0.9 0.9M873.9 733.8l1.3 0.8 1.3 0.8 1.4 0.7M873.9 733.8l-0.4 1 -0.1 1.2 0.3 1.1M869.2 760.5l1.5 1.1 1.6 1.1 1.8 0.6M874.1 763.3l0.9 -0.7 0.6 -0.9 0.8 -0.6M874.1 763.3l0.9 0.6 1.1 0.3 1 -0M850.9 736.6l1.6 0.4 1.6 0.4 1.5 0.7M855.6 738.1l0.5 1.1 0.7 1.1 0.8 0.9M855.6 738.1l1.2 0.1 1.2 0.1 1.2 0.1M854.1 737.4l0.9 -0.5 0.9 -0.5 0.9 -0.3M837.8 714.7l0.6 1.4 0.6 1.5 0.9 1.3M839.9 718.9l1 0.2 1.1 0.2 1 0.1M839.9 718.9l0 1 0.1 1 0.1 0.9M839 717.6l-0.5 0.8 -0.3 0.9 -0.2 0.9M866.8 754.7l-0.8 2.6 -0.5 2.6 -1.3 2.4M864.2 762.3l0.8 2 1 1.9 0.2 2.2M864.2 762.3l-1.3 0.8 -1.3 1 -1.4 0.6M865.5 759.9l1.3 1.1 1.3 1 0.8 1.4M867.2 755.7l-1.5 2.1 -1.3 2.2 -1.2 2.3M863.2 762.3l0.4 1.7 0.8 1.5 0.2 1.8M863.2 762.3l-1.7 1.3 -1.8 1.2 -2 1M842.4 725.7l2.4 0.9 1.9 1.6 2.4 0.8M849.1 729l1.4 1.5 1.5 1.5 1.7 1M849.1 729l1.9 -0.6 1.7 -1.1 1.9 -0.7M855.2 741.2l1.9 -0.4 1.9 -0.2 1.8 -0M860.8 740.6l1.6 0.5 1.4 0.6 1.3 0.9M860.8 740.6l0.7 -1 0.7 -0.9 0.8 -0.7M870.9 764.8l1 0.8 1 0.9 0.9 0.9M870.9 764.8l0.7 1.2 1 1.1 0.6 1.4M866.2 751.1l3.4 0.2 3.3 2 3.5 0.9 3.8 -0.1 3.1 2.2 3.7 0.5 2.8 2.1M884.3 756.4l1.5 -2 0.7 -2.4 0.5 -2.5M887 749.5l1.8 -0.8 1.8 -0.6 1.7 -1M887 749.5l-0.6 -2 -0.2 -2 -0 -2.1M889.8 758.9l1.1 0.1 1.1 0.3 0.8 0.7M889.8 758.9l1 0.8 1.2 0.5 1 0.9M847.2 708.1l3.3 1.4 0.1 3.7 -1 3.6 -0.4 3.5 -0.2 3.6 1 3.6 -1 3.3M850.6 713l-1.4 1.4 -1.6 1.1 -2 0.5M845.6 716l-0.9 1 -0.8 1 -0.6 1.2M845.6 716l-1.2 -0.4 -1.3 0.1 -1.3 0.1M849.2 714.4l-1.2 -0.1 -1.2 0.1 -1.1 -0.4M849.4 718.4l1.2 1.9 1.1 1.9 1.1 1.8M852.8 724l1 0.9 1.2 0.7 1.1 0.8M852.8 724l-0.4 1.8 -0 1.8 -0.3 1.7M851.7 722.2l1.2 -0.5 1.2 -0.7 0.9 -1M849 730.8l-0.1 1.5 -0.2 1.5 -0.1 1.5M849 730.8l-1.3 0.9 -1.3 0.8 -1.5 0.5M801 755.3l1.9 -0.9 1.9 -1 1.6 -1.5M806.4 751.9l-0 -1.7 0.2 -1.7 0.4 -1.7M806.4 751.9l1 -1.4 1.3 -1.2 1.2 -1.3M806.4 751.9l1.5 -0.5 1.5 -0.2 1.5 -0.5M804.8 753.4l1.1 0.6 1.2 0.4 1.1 0.6M804.8 754.1l1 -0.9 0.9 -1 0.7 -1.1M804.8 754.1l1.5 -0.5 1.5 -0.8 1.3 -1M805.1 753.8l0.9 -3.1 2.6 -2.3 1 -3.4 2.5 -2.4 2.5 -2.3 3.1 -1.5 2.8 -1.8 3.6 -0.4 2.1 -3 3.2 -1.5 1.4 -2.9M826.8 733.3l1.7 -0.7 1.8 -0.1 1.9 -0.1M832.2 732.4l0.6 -0.9 0.8 -0.7 0.9 -0.6M832.2 732.4l1.1 0.1 1.1 0.4 1.1 0.4M832.2 732.4l1 0.3 1.1 0.2 1.1 0.2M830.3 732.5l1.1 0.3 1.1 0.2 1 0.2M823.7 736.6l2.1 1.2 2.1 1.1 2.2 0.9M830.1 739.8l1.3 -0.2 1.3 0.2 1.4 -0.2M830.1 739.8l0.9 1.2 0.8 1.4 1 1.3M818 738.6l0.2 -2.1 0.3 -2.1 0.9 -1.8M819.4 732.6l1 -1.4 1.2 -1.3 0.6 -1.6M819.4 732.6l0.3 -1.2 -0 -1.2 -0 -1.2M830.8 729.2l-0.2 -1.6 0.2 -1.6 -0.3 -1.6M830.8 729.2l1.1 -0.7 1.2 -0.6 1.2 -0.6M812.7 742.4l3.1 -0.3 2.9 -1.5 3.1 -1.3 3.3 1.1 3.4 -0.8 3.2 0.8 3.2 0.3 2.9 2 3.3 0.2 3.1 0.8 3.1 0.3M830 739.9l1.3 1.9 1.7 1.5 1.3 1.8M834.3 745.1l-0.8 1.4 -1.1 1.2 -0.9 1.4M834.3 745.1l1.2 0.4 1.3 0 1.2 0.3M831.3 741.8l1.3 -0.4 1.3 0 1.3 -0M836 741.4l1.6 -0.5 1.6 -0.7 1.6 -0.4M840.8 739.8l1.2 0.2 1.2 0 1.2 0.4M840.8 739.8l0.3 -0.9 0.4 -0.9 0.3 -1M837.6 740.9l0.5 -0.8 0.4 -1 0.5 -0.9M847.3 744l1.3 -0.5 1.4 -0.3 1.3 -0.5M847.3 744l1.2 0.7 1 1 1.1 0.8M810.1 745.8l1.9 -4.1 1.9 -4M813.9 737.7l-0.3 -1.5 -0.7 -1.3 -0.3 -1.5M813.9 737.7l1 -0.7 1.1 -0.5 1.3 -0.2M805.2 754l3.1 -0.1 3.3 0.1 3.1 -1.7 3.3 0.1 3.4 0.7 3.2 -0.8 3.3 -0.1 3.2 1.4 3.3 -0.9 3.3 0.1 3.3 -0.2 3.2 1.1 3.1 0.3M846.6 753.9l1.1 1.1 1.2 0.9 1 1.2M849.9 757.1l1.3 -0.1 1.2 -0.4 1.3 0M849.9 757.1l0.8 1 0.8 1 1.1 0.6M849.9 757.1l-0.1 0.9 -0.2 0.8 -0.4 0.8M839.7 752.7l1.8 1.9 1.2 2.3 0.6 2.5M843.3 759.4l1.1 1.6 0.8 1.7 0.9 1.6M843.3 759.4l0.1 1.9 0.3 1.8 0.6 1.8M841.5 754.6l1.5 -0.3 1.6 0.1 1.5 -0.1M835.7 752.7l2.2 -1 2.4 -0.6 2.3 -0.8M842.6 750.3l0.4 -1.7 -0.1 -1.7 -0.6 -1.6M842.6 750.3l2.1 -0.1 2 0.5 2.1 0.3M847.3 754l1.1 -0.1 1.1 0 1.1 -0.1M847.3 754l1.4 0.7 1.4 0.8 1.5 0.8M846.7 760.9l0.1 1.7 0.2 1.7 0.7 1.6M847.7 765.9l0.2 1 0.5 0.9 0.5 0.9M847.7 765.9l0.6 0.7 0.4 0.9 0.3 1M846.8 762.6l-0.6 0.8 -0.7 0.7 -1 0.5M812.2 763.8l0.9 1.7 0.6 1.8 0.2 1.8M813.9 769.1l1.1 0.7 1.3 0.3 1.2 0.2M813.9 769.1l-0.2 1.1 -0.4 1.1 -0.2 1.1M813.9 769.1l-0.7 1.3 -0.7 1.2 -0.7 1.2M813.7 767.3l0.1 1.1 -0.1 1.1 -0.2 1.1M856.7 763.9l0.5 1.5 0.2 1.6 0.3 1.6M857.7 768.6l-0.7 0.8 -0.3 1.1 -0.3 1M857.7 768.6l0.5 0.8 0.4 0.9 0.2 1M857.4 767l0.8 0.4 0.8 0.7 0.8 0.4M852.6 762.5l0.9 -1.5 1.3 -1.1 1.6 -0.8M856.4 759.1l0.3 -1.2 0.6 -1.1 0.9 -1M856.4 759.1l1.3 -0.3 1.4 -0 1.3 -0.4M836.8 761.5l1 1.9 0.5 2.1 0.2 2.2M838.5 767.7l1.2 0.7 1 1 0.6 1.3M838.5 767.7l-0.3 1.4 -0.6 1.4 -0.8 1.2M838.5 767.7l-0.8 1.6 -0.5 1.7 -0.5 1.7M838.3 765.5l1.2 -0.6 1.1 -0.7 1.2 -0.4M816.4 763.6l2.5 -0.5 2.2 -1.1 2.3 -1M823.4 761l1.7 0.8 1.5 1 1.7 0.9M823.4 761l0.8 -1.2 1 -1.1 0.9 -1.2M818.9 763.1l-0.2 -1.5 -0.3 -1.4 -0 -1.5M860.8 765.9l1.5 0.6 1.2 1.1 1.5 0.6M860.8 765.9l0.9 1.1 1.3 0.8 1.4 0.4M807.7 765.1l2.9 1.4 3.5 0 3.1 1.7 3.3 0.7 3.5 -0.3 3.3 0.6 3.4 0.2 3.4 -0.2 3.4 0.2 3.3 0.5 3.4 0.4 3.3 0.3 3.4 -0.2 3.3 1 3.4 0.4 3.1 1.5 3.1 0.6M862.7 773.7l2.4 -1.3 1.9 -2.1 1.5 -2.2M868.5 768.1l1.7 -0 1.7 -0.2 1.7 0M868.5 768.1l-0.3 -1.6 -0.6 -1.5 -0.5 -1.5M857.8 771.9l2.5 -0.9 2.2 -1.6 2.4 -1.3M864.9 768.1l0.6 -2 1 -1.8 1.1 -1.7M864.9 768.1l1.5 -0.5 1.6 -0.3 1.6 0M864.9 768.1l2.2 0.7 2.1 0.3 2.3 0.2M823.3 768.7l0.4 -1.6 0.4 -1.6 0.4 -1.6M824.5 763.9l0.8 -0.7 0.8 -0.6 0.7 -0.8M824.5 763.9l-0.7 -1.2 -0.4 -1.3 -0.7 -1.1M824.1 765.5l-0.1 -1 -0.4 -0.9 -0.4 -0.9M859 772.5l2.4 -1.1 2.6 -0.6 2.7 -0.1M866.7 770.7l1.4 -0.9 1.6 -0.5 1.7 0M866.7 770.7l1.3 0.6 1.5 0.5 1.4 0.6M863.8 773.9l1.2 -0.5 1.1 -0.9 1 -0.8M863.8 773.9l1.5 0.7 1.5 0.9 1.3 1M841.8 782.2l1.3 1.7 1.2 1.7 1.2 1.7M845.5 787.3l0.4 1.6 -0.2 1.7 -0.1 1.6M845.5 787.3l1.5 0.8 1.5 0.6 1.6 0.2M818.3 780.8l1.8 -1.9 2.1 -1.5 2.4 -1M824.6 776.4l1.9 0.4 2 -0.3 2.1 0M824.6 776.4l0.5 -1.7 0.6 -1.7 1.1 -1.4M813 779.8l1.5 -0.7 1.6 -0.3 1.4 -0.7M817.5 778.1l1 0.5 1 0.4 1 0.3M817.5 778.1l0.7 -1.2 0.4 -1.3 -0 -1.4M814.5 779.1l-0.2 -1 -0.4 -0.9 -0.6 -0.8M801.2 775.5l2.2 -0.3 2 -0.9 2.1 -0.5M807.5 773.8l1.6 0.4 1.4 0.7 1.3 1M807.5 773.8l1.1 -1.4 1.3 -1.4 0.9 -1.5M848.8 784.9l1.6 0.3 1.7 -0.1 1.6 0.2M848.8 784.9l0.8 1.3 1.1 1 0.9 1.3M805.2 777.7l2.7 2.9 2.5 3.2 2 3.5M809.3 782.4l1.8 -0.2 1.7 -0.5 1.5 -1.1M814.3 780.6l0.3 -1.4 0.4 -1.5 0.3 -1.4M814.3 780.6l1.1 -0.3 1.1 -0.1 1.2 0.1M812.8 781.7l0.6 -0.9 0.8 -0.7 0.8 -0.8M812.4 787.3l1.1 0.5 1.2 0.5 1.1 0.8M812.4 787.3l0.2 1.2 0.4 1.1 0.7 1.1M820.2 780.2l2.1 2 3 1.4 2.7 1.8 1.8 2.4M828.2 785.7l2.7 0.4 2.7 0.7 2.5 1.3M836.1 788.1l2.2 -0.4 1.9 -1.1 2.2 -0.4M836.1 788.1l1.5 1.1 1.5 1 1.6 1M836.1 788.1l1 1.9 0.8 1.9 1.4 1.7M830.9 786.1l1.5 0.7 1.6 0.6 1.6 0.4M829.8 787.8l1 0.4 1 0.4 1 0.3M829.8 787.8l0.2 1.5 -0.2 1.4 -0 1.4M793.9 770.2l-1.3 2.9 -2.7 2 -3.4 0.6 -3.3 0.8 -2.9 2 -3.4 0.2 -2.7 1.9 -1.9 2.8 -3 2.3 -3.2 -1.9 -3.3 -0.9 -2.6 -1.8M763.7 783.2l-1.6 -0 -1.6 -0.3 -1.6 0.1M758.9 783l-0.9 1 -0.6 1.2 -0.6 1.2M758.9 783l-1.2 0.2 -1.2 0 -1.2 -0M758.9 783l-1 -0.1 -1 0.2 -1 0.1M783.1 776.5l-2.3 -1.2 -2.5 -0.8 -2.1 -1.5M776.2 773l-2.1 0.4 -2.1 -0.2 -2.2 0.3M776.2 773l-1.1 -1.9 -0.5 -2.1 -0.7 -2M777.4 778.7l-1 -1.2 -1.4 -0.8 -1.2 -0.9M773.8 775.8l-1 0.1 -1 0.1 -1 -0.1M773.8 775.8l-0.5 -0.8 -0.2 -0.9 -0.2 -1M775 776.7l-0.4 -0.8 -0.6 -0.7 -0.8 -0.6M760.2 781.1l-1.3 -0 -1.2 -0.5 -1.2 -0.5M760.2 781.1l-0.6 -0.9 -0.6 -0.8 -0.6 -1M790 775.2l-0.6 3.9 0.8 4.3 -1.2 3.9M789 787.3l0.3 1.3 -0 1.5 0.1 1.4M789 787.3l-0.9 1.2 -0.6 1.5 -0.6 1.4M720.2 773l1.1 1.9 1.6 1.6 1.9 1.2M724.8 777.7l0.6 1.2 0.8 1.1 1 0.9M724.8 777.7l1.9 -0.1 1.8 -0.3 1.7 -0.8M721.3 774.9l0.1 1.4 0.2 1.3 0.4 1.3M720 773.8l0.4 1.4 0.7 1.3 0.7 1.4M720 773.8l-1 0.7 -0.7 1.1 -0.8 1M719.8 774.1l-3.1 0.8 -3.3 0.5 -3.4 0.3 -3.3 0.3 -3.4 0.2 -3.1 -1.3 -3.7 -0.3 -2.7 -2.2 -2.5 -2.3 -2.6 -2.1 -2.6 -2.1 -3.1 -1.2 -3.4 -0.2 -3.2 -1.8 -3.2 0.3M701 775.2l-2 -0.1 -1.9 -0.6 -1.9 -0.5M695.2 774l-0.4 -1.6 0 -1.6 -0.2 -1.6M695.2 774l-1.3 -0.1 -1.3 0.4 -1.1 0.7M683.4 764.9l-2.4 0.4 -2.2 0.9 -2.1 1.1M676.7 767.3l-1 1.6 -1.4 1.3 -1.1 1.5M676.7 767.3l-1.9 -0.5 -1.9 -0.1 -1.8 0.7M681 765.3l-1.1 -0.9 -1.3 -0.6 -1.3 -0.6M698.4 774.7l-2.2 0.8 -2.2 0.9 -2 1.1M692 777.5l-0.1 1.5 0.5 1.4 -0 1.5M692 777.5l-1.6 -0.2 -1.5 -0.2 -1.4 -0.7M696.2 775.5l-1.4 -0.3 -1.3 -0.5 -1.4 -0.2M693.9 772.5l-2.4 0.2 -2.3 -0.1 -2.3 -0M686.9 772.6l-1.2 0.6 -1 0.8 -1.3 0.3M686.9 772.6l-1.5 -0.1 -1.4 -0.2 -1.4 0.1M689.2 772.6l-0.3 1.4 0.1 1.4 0.5 1.3M673.2 763l-1.5 0.8 -1.6 0.4 -1.6 0.4M673.2 763l-1.3 -0.2 -1.4 0.1 -1.3 -0.1M698.8 775.1l-3.1 0.1 -3 1.3 -2.9 1.8 -3.2 0.1 -3.2 1.3 -3.3 -0.3 -3.2 0.4 -3.2 -1.7 -3.3 1.1 -3.2 -0.7 -3 -0.5M681 779.5l-1.4 0.8 -1.5 0.8 -1.4 0.9M676.7 782l-0 1.2 -0.4 1.1 -0.3 1.1M676.7 782l-1.3 0.2 -1.2 0.4 -1.2 0.6M671.1 778.9l-2.5 -0.3 -2.5 0.4 -2.5 0.1M663.6 779.1l-1.5 -0.5 -1.4 -0.5 -1.4 -0.7M663.6 779.1l-1.3 0.8 -1.2 1.1 -1.3 0.7M666.1 779l-0.2 -1.5 -0.2 -1.5 -0.2 -1.6M682.3 779.6l-1.6 -1.6 -1 -2.1 -0.5 -2.3M679.2 773.6l-1.3 -0.7 -1.4 -0.6 -1.5 -0M679.2 773.6l0.2 -1.8 0.7 -1.8 1 -1.5M679.2 773.6l0.6 -1.6 0.4 -1.6 0.5 -1.7M679.7 775.9l-1.4 0.2 -1.3 0.6 -1 0.8M664.2 778l-0.9 0.5 -0.8 0.5 -0.8 0.7M664.2 778l-0.9 -1 -0.7 -1.3 -0.9 -1.1M689.8 778.1l-2.4 2 -2.8 1.6 -3.5 0.2 -2.5 2.6 -3.4 0.1 -3.3 -0.3 -3 1.6 -3.1 0.1M675.7 784.6l-1 -1.8 -1.3 -1.5 -1.4 -1.5M672 779.8l-1.2 -0.2 -1.1 -0.5 -1.1 -0.2M672 779.8l-0.3 -1.2 -0.1 -1.3 -0.3 -1.2M674.7 782.8l0.6 -1 1 -0.7 0.6 -1.1M680.6 782.3l-0.5 2.6 0.1 2.7 -0.3 2.6M679.9 790.2l-1 1.5 -1.2 1.5 -0.6 1.8M679.9 790.2l0.8 2 1 2 0.4 2.2M680.2 787.6l-1.5 0.6 -1.4 0.7 -1.3 0.9M665.8 786l-1.4 0.6 -1.5 0.3 -1.6 -0.1M665.8 786l-1.6 -0.1 -1.6 0.3 -1.6 -0M699.8 776.2l-1.1 2.8 -2.7 2 -2.7 2 -1.1 2.8M698.4 779.2l-1.5 0.7 -1.6 0.7 -1.5 0.7M693.8 781.3l-1.2 -0.2 -1.3 0.2 -1.2 0.3M693.8 781.3l-0.5 1.2 -0.6 1 -0.3 1.2M696.9 779.9l-0.2 1 -0.2 1 -0.6 0.9M692.2 785.8l0.1 1.2 0.2 1.2 -0.2 1.2M692.2 785.8l-0.8 0.8 -0.9 0.5 -0.9 0.4M720.2 773.9l2.8 -1.4 3.2 -1 3.3 -0.6 3.3 -0.3 3.2 -1.2 3.3 0.5 3.3 -0.4 3.2 -1.2 3.3 -0.3 3.3 -0.8 3 -0.6M731.4 770.7l2.3 1.2 2.3 1 2.5 0.2M738.5 773.1l1.5 1.2 1.5 1.2 1.8 0.8M738.5 773.1l1.9 -0.5 2 -0.1 2 0.3M733.7 771.9l1.3 -0.8 1.1 -1.1 0.8 -1.3M731.2 770.7l2 1.9 1.7 2.2 1 2.6M735.9 777.4l-0.2 1.6 0 1.6 0.3 1.7M735.9 777.4l1.1 1.9 1.4 1.8 1.3 1.8M734.9 774.8l1.5 -0.6 1.4 -0.9 1.6 -0.5M739.9 769.8l1.2 1.5 0.8 1.7 0.9 1.7M742.8 774.7l-0.1 1.5 0.1 1.6 -0.4 1.5M742.8 774.7l1.3 0.8 1.5 0.5 1.4 0.8M741.9 773l-0.2 1.1 0 1.2 0.3 1.1M755.4 766.6l0.9 -0.8 1.1 -0.5 1 -0.7M755.4 766.6l1.1 0.4 1.2 0.2 1.1 0.3M733.2 770.1l3.3 -0.1 3.3 1.4 3.2 1.3 3.3 1.1 3.5 0.2 3.2 1.3 3.3 1.1 3.6 0.1 2.9 1.4M757.4 776.4l2.4 -1.2 2.5 -0.6 2.7 -0.1M765 774.5l1 1.8 1.4 1.5 1 1.7M765 774.5l1.5 -1.1 1.5 -1.3 1.5 -1.2M762.3 774.6l0.2 -1.6 -0.2 -1.6 -0.6 -1.5M754.4 775.8l2 -1.1 1.5 -1.6 2 -1.1M759.9 772l0.4 -1.3 0.7 -1.1 0.7 -1M759.9 772l1.5 -0.4 1.5 -0.5 1.4 -0.8M757.9 773.1l0.7 -1.2 0.8 -1.1 0.9 -1M762.8 777.9l1.4 -0.5 1.5 -0.2 1.5 0M762.8 777.9l0.8 1 0.6 1.2 0.4 1.3M720 774.2l-1.2 3 0.2 3.5 -1 3.1M718.4 782.7l1.4 2.3 1.5 2.1 1.5 2.2M722.8 789.3l-0.8 1.8 -0.7 1.8 -1.2 1.6M722.8 789.3l1.5 1.2 1.2 1.5 1.4 1.4M718 783.8l0.2 1.1 0.3 1 -0.1 1.2M718 783.8l-1.2 0.8 -1 1.2 -1.3 0.8M721.2 775.2l2.1 2.3 2.7 2 3.2 0.9 3.1 1.8 3.6 -0.6 3.2 1.9 3.4 0.5 3.3 -0M730.2 781l1 2.5 0.6 2.6 1.4 2.4M733.2 788.5l0 1.8 0.4 1.8 -0.2 1.8M733.2 788.5l1 1.2 0.6 1.5 0.6 1.5M745.8 784l1.5 -0.5 1.5 -0.2 1.6 0M745.8 784l1.6 0.4 1.4 1 1.3 1.2M617.8 775l-2.9 0.9 -3.3 -0.1 -3.2 0.7 -3.4 -0.6 -3.1 1 -3.3 0.1 -3.2 -0.2 -3.2 -0.7 -3.4 0.8 -3 -1.3 -3.3 -0.1 -3.2 -0.3 -3.3 0.5 -3.3 -1 -3.1 0.8 -3.4 -0.5 -3.1 1.2 -3.1 1.4 -3.4 -0.5 -3.2 1.1 -2.2 2.3M583.7 775.5l-1.5 1.6 -1.6 1.5 -1.1 1.9M579.5 780.5l-0.5 1.4 -0.5 1.3 -0.6 1.4M579.5 780.5l-1.8 -0 -1.7 -0.4 -1.6 -0.9M580.6 778.6l-1.2 0.6 -1.2 0.4 -1.2 0.6M570.5 775.3l-2.3 -1.2 -2.4 -1.1 -2.6 -0.4M563.2 772.6l-0.9 -1.6 -0.7 -1.8 -0.2 -1.9M563.2 772.6l-2 -0.1 -2 -0.2 -1.8 -0.8M565.8 773l-1.4 0.7 -1.4 0.7 -1.1 1.1M589 776.9l-2.7 -0.7 -2.8 -0.5 -2.5 -1M581 774.7l-0.9 -1.8 -0.1 -1.9 0.4 -1.9M581 774.7l-2.2 -0.5 -2.1 -0.5 -1.9 -1.2M586.3 776.2l-1.4 1 -1.1 1.3 -1.1 1.2M600 776.9l-1.2 -1.8 -0.5 -2.1 -0.8 -2M597.5 771l-1.4 -0.4 -1.6 0 -1.5 0.3M597.5 771l-0.6 -1.1 -0.8 -1 -0.8 -1.1M597.5 771l0.7 -1.1 0.8 -1 1.1 -0.7M598.8 775.1l0.1 -1.3 0.5 -1.2 0 -1.3M581.2 775.4l-1.5 1.2 -1.6 1 -1.5 1.2M576.6 778.8l-0.6 1.1 -0.7 1.1 -0.6 1.1M576.6 778.8l-1.1 0.6 -0.9 0.7 -1.1 0.6M576.6 778.8l-1.3 0.4 -1.4 0.3 -1.2 0.7M579.7 776.6l-1 -0.5 -1 -0.5 -1.1 -0.4M551.2 780.5l-0.3 0.9 -0.3 1 -0 0.9M551.2 780.5l-1.2 0.2 -1.3 -0 -1.3 0.3M610.8 774.8l-1.3 -2.7 -2.7 -2.3 -3.4 0.1 -3.2 0.1 -3.2 -1.2 -3.2 0.9 -3.2 -0.3 -3.1 0.9 -3.3 -0.3 -3.1 1.2 -3.1 0.6 -2.8 1.1M591.9 769.5l-1.7 -1.4 -2.1 -0.9 -1.6 -1.5M586.5 765.7l0.2 -1.9 0.2 -1.8 0.1 -1.9M586.5 765.7l-1.7 -0.5 -1.6 -0.7 -1.5 -0.8M587.6 770.2l-1.9 -2 -2.1 -1.8 -2.3 -1.6M581.3 764.8l-2.1 0.8 -2.1 1 -2.1 1.1M581.3 764.8l-0.4 -1.7 -0.9 -1.6 -0.7 -1.6M580.5 771.3l-1 2.5 -1.6 2 -2 1.7M575.9 777.5l-1.5 -0.1 -1.5 0.4 -1.5 0.3M575.9 777.5l-1.2 1.3 -1.3 1.3 -1 1.5M577.9 775.8l1.2 1.1 1.1 1.1 1.3 0.9M575.2 772.9l-1.3 0.6 -1.4 0.1 -1.4 0.5M575.2 772.9l-1.1 -0.2 -1.1 -0.2 -1 -0.5M589.8 777.1l-3.2 1.2 -2.4 2.9 -3 2 -3.9 -0.7 -3.1 1.4M584.7 780.6l-1.6 0.5 -1.3 0.9 -1.2 1.2M580.6 783.2l-1.3 0.3 -1.4 -0.2 -1.3 0.1M580.6 783.2l-0.4 0.9 -0.3 0.9 -0.6 0.7M581.8 782l-0.7 -0.6 -0.9 -0.5 -0.7 -0.8M574.2 783.9l-0.8 1.3 -0.6 1.4 -0.1 1.5M574.2 783.9l-1.2 -0.4 -1.2 -0.6 -0.9 -0.9M599.9 777.2l-0.6 4.4 -1.2 4.2M598.4 784.6l1.3 1.2 1.6 0.9 1.6 0.8M602.9 787.5l1.3 0 1.3 -0.3 1.3 -0.3M602.9 787.5l1.2 0.9 1.3 0.8 1.3 0.8M598.1 785.8l0.4 1 0.1 1.1 0.4 1M598.1 785.8l-0.9 0.6 -1.1 0.5 -1 0.4M624.2 773l3.2 0.6 3.4 1 3.6 -0.6 3.5 1 3.3 -1.1 3.3 -1.8 2.8 2.7 3.1 1.6 3 1.8 2.4 2.2M652.2 777.5l1.2 -0.9 1.2 -1 1.4 -0.6M656 775l0.7 -0.6 0.7 -0.7 0.9 -0.5M656 775l0.9 0.2 0.9 0.3 0.9 0.1M654.6 775.6l-0.1 -0.9 -0.2 -0.9 -0.2 -0.9M635.5 774.3l1.6 -0.8 1.7 -0.3 1.8 0.1M640.6 773.3l1.2 0.1 1.2 -0.1 1.1 0M640.6 773.3l1.1 -0.5 1.2 -0.3 1.1 -0.4M638.8 773.2l0.8 0.7 0.7 0.8 0.8 0.7M633 774.2l2.2 0.4 2.3 -0 2.1 -0.8M639.6 773.8l1.2 -1.4 0.8 -1.8 0.6 -1.8M639.6 773.8l1.4 0.6 1.2 0.9 1 1.1M637.5 774.6l1.3 -0.3 1.2 -0.7 1 -0.9M655.8 780.4l1.6 -0.3 1.6 0.2 1.6 -0M655.8 780.4l0.6 1.3 0.6 1.2 1 0.9M640.1 775.2l2.3 3.1 0.7 4.1 1.8 3.4M643.9 783.9l1.6 1.1 1.8 0.4 1.8 0.6M649.1 786l1.3 0.6 1.2 0.9 1.4 0.5M649.1 786l1.1 -0.3 1.1 -0 1 -0.3M644.9 785.8l0.8 0.6 0.8 0.7 0.7 0.6M644.9 785.8l-0.1 1.1 -0.3 1.1 -0 1.2"/></g>
<clipPath id="cbig"><path d="M605 698.5 L606.8 697.3 L609.4 696.3 L612.4 695.4 L615.7 694.3 L619 693 L622.4 691.5 L626.2 689.9 L630 688.2 L633.9 686.2 L637.5 684 L641 681.4 L644.6 678.6 L648 675.6 L651.2 672.4 L654 669 L656.4 665.4 L658.4 661.4 L660.2 657.4 L661.7 653.5 L663 650 L664 647.1 L664.7 644.6 L665.1 642.2 L665.4 639.8 L665.6 637 L665.7 633.8 L665.6 630.3 L665.3 626.7 L665 623.2 L664.7 620 L664.3 616.8 L663.6 613.5 L663 610.4 L662.6 608.1 L662.5 607 L662.7 607.4 L663 608.9 L663.7 611.2 L664.6 613.7 L666 616 L667.8 618.2 L669.9 620.7 L672.3 623.1 L675.3 625.5 L678.7 627.5 L682.8 629.2 L687.6 630.7 L692.7 632 L697.9 633.1 L703 634 L707.9 634.7 L712.9 635.3 L717.8 635.6 L722.7 635.6 L727.5 635 L732.2 633.8 L736.8 632.2 L741.4 630.1 L745.8 627.9 L750 625.6 L754.2 623.1 L758.4 620.2 L762.4 617.3 L765.9 614.7 L768.7 612.5 L770.6 610.8 L771.7 609.3 L772.3 608.2 L772.7 607.6 L773 607.5 L773.3 608 L773.4 609.1 L773.3 610.6 L773 612.6 L772.5 615 L771.6 617.9 L770.3 621.5 L768.9 625.4 L767.7 629.3 L767 633 L766.8 636.4 L766.8 639.8 L767.1 643.1 L767.8 646.5 L768.7 650 L769.9 653.7 L771.4 657.4 L773.2 661.3 L775.4 665 L778 668.7 L781.2 672.3 L784.9 676 L789 679.5 L793.1 682.8 L797 685.6 L800.9 687.9 L805 689.9 L808.9 691.5 L812.5 692.9 L815.6 694 L818.4 694.7 L821 695 L823 695.1 L824.2 695.2 L824 695.5 L822.1 696 L818.7 696.6 L814.5 697.3 L810.1 698 L806 698.7 L802.3 699.3 L798.5 699.8 L794.7 700.4 L791 701.3 L787.5 702.5 L784.1 704.2 L780.7 706.3 L777.5 708.6 L774.7 711.1 L772.5 713.7 L770.9 716.5 L769.8 719.4 L769.1 722.5 L768.8 725.6 L768.7 728.7 L768.9 731.8 L769.5 734.9 L770.3 737.9 L771.4 740.9 L772.5 743.7 L774.1 746.6 L776.1 749.6 L778.2 752.4 L779.6 754.5 L780 755.5 L779 755.2 L777 753.8 L774.4 751.8 L771.5 749.5 L768.7 747.5 L765.9 745.6 L763 743.5 L759.9 741.4 L756.8 739.5 L753.7 738 L750.6 736.9 L747.5 735.9 L744.4 735.3 L741.5 735 L738.7 735 L736.1 735.4 L733.7 736.2 L731.4 737.3 L729.3 738.6 L727.5 740 L726 741.4 L724.7 743 L723.6 744.7 L722.8 746.7 L722 749 L721.4 752 L721.1 755.7 L720.9 759.4 L720.7 762.7 L720.5 765 L720.2 766.2 L719.9 766.8 L719.6 766.8 L719.3 766.2 L719 765 L718.7 763 L718.4 760.2 L718.1 756.9 L717.7 753.7 L717 751 L716.2 748.8 L715.3 746.9 L714.1 745.1 L712.6 743.5 L710.6 742 L707.9 740.5 L704.7 739 L701.1 737.7 L697.4 736.6 L693.7 736 L690.1 735.8 L686.4 735.9 L682.6 736.3 L678.8 737 L675 738 L671.2 739.4 L667.3 741.1 L663.4 743.1 L659.7 745.2 L656 747.5 L652.5 749.9 L649 752.6 L645.7 755.4 L642.5 758.1 L639.4 760.6 L636.5 762.9 L633.6 765.2 L631 767.4 L628.4 769.3 L626 771 L623.5 772.5 L620.8 773.8 L618.4 774.8 L616.7 775.5 L616 775.5 L616.7 774.8 L618.5 773.5 L620.9 771.7 L623.6 769.8 L626 768 L628.2 766.3 L630.5 764.7 L632.8 762.9 L635.2 761 L637.5 758.7 L639.9 756.1 L642.4 753.1 L644.8 750 L646.9 746.8 L648.7 743.7 L650.1 740.6 L651.2 737.5 L652 734.4 L652.5 731.5 L652.5 728.7 L652.1 726.1 L651.2 723.7 L649.9 721.4 L648.5 719.3 L647 717.5 L645.5 716 L643.9 714.8 L642.2 713.8 L640.1 712.9 L637.5 712 L634.3 711.1 L630.4 710.2 L626.3 709.4 L622.3 708.6 L618.7 708 L615.4 707.6 L612.2 707.3 L609.2 707.1 L606.8 706.7 L605 706 L603.9 704.8 L603.3 703.3 L603.3 701.6 L603.9 700Z"/></clipPath>
<path d="M605 698.5 L606.8 697.3 L609.4 696.3 L612.4 695.4 L615.7 694.3 L619 693 L622.4 691.5 L626.2 689.9 L630 688.2 L633.9 686.2 L637.5 684 L641 681.4 L644.6 678.6 L648 675.6 L651.2 672.4 L654 669 L656.4 665.4 L658.4 661.4 L660.2 657.4 L661.7 653.5 L663 650 L664 647.1 L664.7 644.6 L665.1 642.2 L665.4 639.8 L665.6 637 L665.7 633.8 L665.6 630.3 L665.3 626.7 L665 623.2 L664.7 620 L664.3 616.8 L663.6 613.5 L663 610.4 L662.6 608.1 L662.5 607 L662.7 607.4 L663 608.9 L663.7 611.2 L664.6 613.7 L666 616 L667.8 618.2 L669.9 620.7 L672.3 623.1 L675.3 625.5 L678.7 627.5 L682.8 629.2 L687.6 630.7 L692.7 632 L697.9 633.1 L703 634 L707.9 634.7 L712.9 635.3 L717.8 635.6 L722.7 635.6 L727.5 635 L732.2 633.8 L736.8 632.2 L741.4 630.1 L745.8 627.9 L750 625.6 L754.2 623.1 L758.4 620.2 L762.4 617.3 L765.9 614.7 L768.7 612.5 L770.6 610.8 L771.7 609.3 L772.3 608.2 L772.7 607.6 L773 607.5 L773.3 608 L773.4 609.1 L773.3 610.6 L773 612.6 L772.5 615 L771.6 617.9 L770.3 621.5 L768.9 625.4 L767.7 629.3 L767 633 L766.8 636.4 L766.8 639.8 L767.1 643.1 L767.8 646.5 L768.7 650 L769.9 653.7 L771.4 657.4 L773.2 661.3 L775.4 665 L778 668.7 L781.2 672.3 L784.9 676 L789 679.5 L793.1 682.8 L797 685.6 L800.9 687.9 L805 689.9 L808.9 691.5 L812.5 692.9 L815.6 694 L818.4 694.7 L821 695 L823 695.1 L824.2 695.2 L824 695.5 L822.1 696 L818.7 696.6 L814.5 697.3 L810.1 698 L806 698.7 L802.3 699.3 L798.5 699.8 L794.7 700.4 L791 701.3 L787.5 702.5 L784.1 704.2 L780.7 706.3 L777.5 708.6 L774.7 711.1 L772.5 713.7 L770.9 716.5 L769.8 719.4 L769.1 722.5 L768.8 725.6 L768.7 728.7 L768.9 731.8 L769.5 734.9 L770.3 737.9 L771.4 740.9 L772.5 743.7 L774.1 746.6 L776.1 749.6 L778.2 752.4 L779.6 754.5 L780 755.5 L779 755.2 L777 753.8 L774.4 751.8 L771.5 749.5 L768.7 747.5 L765.9 745.6 L763 743.5 L759.9 741.4 L756.8 739.5 L753.7 738 L750.6 736.9 L747.5 735.9 L744.4 735.3 L741.5 735 L738.7 735 L736.1 735.4 L733.7 736.2 L731.4 737.3 L729.3 738.6 L727.5 740 L726 741.4 L724.7 743 L723.6 744.7 L722.8 746.7 L722 749 L721.4 752 L721.1 755.7 L720.9 759.4 L720.7 762.7 L720.5 765 L720.2 766.2 L719.9 766.8 L719.6 766.8 L719.3 766.2 L719 765 L718.7 763 L718.4 760.2 L718.1 756.9 L717.7 753.7 L717 751 L716.2 748.8 L715.3 746.9 L714.1 745.1 L712.6 743.5 L710.6 742 L707.9 740.5 L704.7 739 L701.1 737.7 L697.4 736.6 L693.7 736 L690.1 735.8 L686.4 735.9 L682.6 736.3 L678.8 737 L675 738 L671.2 739.4 L667.3 741.1 L663.4 743.1 L659.7 745.2 L656 747.5 L652.5 749.9 L649 752.6 L645.7 755.4 L642.5 758.1 L639.4 760.6 L636.5 762.9 L633.6 765.2 L631 767.4 L628.4 769.3 L626 771 L623.5 772.5 L620.8 773.8 L618.4 774.8 L616.7 775.5 L616 775.5 L616.7 774.8 L618.5 773.5 L620.9 771.7 L623.6 769.8 L626 768 L628.2 766.3 L630.5 764.7 L632.8 762.9 L635.2 761 L637.5 758.7 L639.9 756.1 L642.4 753.1 L644.8 750 L646.9 746.8 L648.7 743.7 L650.1 740.6 L651.2 737.5 L652 734.4 L652.5 731.5 L652.5 728.7 L652.1 726.1 L651.2 723.7 L649.9 721.4 L648.5 719.3 L647 717.5 L645.5 716 L643.9 714.8 L642.2 713.8 L640.1 712.9 L637.5 712 L634.3 711.1 L630.4 710.2 L626.3 709.4 L622.3 708.6 L618.7 708 L615.4 707.6 L612.2 707.3 L609.2 707.1 L606.8 706.7 L605 706 L603.9 704.8 L603.3 703.3 L603.3 701.6 L603.9 700Z" fill="#ecad86"/>
<g clip-path="url(#cbig)">
<path d="M605 698.5 L606.8 697.3 L609.4 696.3 L612.4 695.4 L615.7 694.3 L619 693 L622.4 691.5 L626.2 689.9 L630 688.2 L633.9 686.2 L637.5 684 L641 681.4 L644.6 678.6 L648 675.6 L651.2 672.4 L654 669 L656.4 665.4 L658.4 661.4 L660.2 657.4 L661.7 653.5 L663 650 L664 647.1 L664.7 644.6 L665.1 642.2 L665.4 639.8 L665.6 637 L665.7 633.8 L665.6 630.3 L665.3 626.7 L665 623.2 L664.7 620 L664.3 616.8 L663.6 613.5 L663 610.4 L662.6 608.1 L662.5 607 L662.7 607.4 L663 608.9 L663.7 611.2 L664.6 613.7 L666 616 L667.8 618.2 L669.9 620.7 L672.3 623.1 L675.3 625.5 L678.7 627.5 L682.8 629.2 L687.6 630.7 L692.7 632 L697.9 633.1 L703 634 L707.9 634.7 L712.9 635.3 L717.8 635.6 L722.7 635.6 L727.5 635 L732.2 633.8 L736.8 632.2 L741.4 630.1 L745.8 627.9 L750 625.6 L754.2 623.1 L758.4 620.2 L762.4 617.3 L765.9 614.7 L768.7 612.5 L770.6 610.8 L771.7 609.3 L772.3 608.2 L772.7 607.6 L773 607.5 L773.3 608 L773.4 609.1 L773.3 610.6 L773 612.6 L772.5 615 L771.6 617.9 L770.3 621.5 L768.9 625.4 L767.7 629.3 L767 633 L766.8 636.4 L766.8 639.8 L767.1 643.1 L767.8 646.5 L768.7 650 L769.9 653.7 L771.4 657.4 L773.2 661.3 L775.4 665 L778 668.7 L781.2 672.3 L784.9 676 L789 679.5 L793.1 682.8 L797 685.6 L800.9 687.9 L805 689.9 L808.9 691.5 L812.5 692.9 L815.6 694 L818.4 694.7 L821 695 L823 695.1 L824.2 695.2 L824 695.5 L822.1 696 L818.7 696.6 L814.5 697.3 L810.1 698 L806 698.7 L802.3 699.3 L798.5 699.8 L794.7 700.4 L791 701.3 L787.5 702.5 L784.1 704.2 L780.7 706.3 L777.5 708.6 L774.7 711.1 L772.5 713.7 L770.9 716.5 L769.8 719.4 L769.1 722.5 L768.8 725.6 L768.7 728.7 L768.9 731.8 L769.5 734.9 L770.3 737.9 L771.4 740.9 L772.5 743.7 L774.1 746.6 L776.1 749.6 L778.2 752.4 L779.6 754.5 L780 755.5 L779 755.2 L777 753.8 L774.4 751.8 L771.5 749.5 L768.7 747.5 L765.9 745.6 L763 743.5 L759.9 741.4 L756.8 739.5 L753.7 738 L750.6 736.9 L747.5 735.9 L744.4 735.3 L741.5 735 L738.7 735 L736.1 735.4 L733.7 736.2 L731.4 737.3 L729.3 738.6 L727.5 740 L726 741.4 L724.7 743 L723.6 744.7 L722.8 746.7 L722 749 L721.4 752 L721.1 755.7 L720.9 759.4 L720.7 762.7 L720.5 765 L720.2 766.2 L719.9 766.8 L719.6 766.8 L719.3 766.2 L719 765 L718.7 763 L718.4 760.2 L718.1 756.9 L717.7 753.7 L717 751 L716.2 748.8 L715.3 746.9 L714.1 745.1 L712.6 743.5 L710.6 742 L707.9 740.5 L704.7 739 L701.1 737.7 L697.4 736.6 L693.7 736 L690.1 735.8 L686.4 735.9 L682.6 736.3 L678.8 737 L675 738 L671.2 739.4 L667.3 741.1 L663.4 743.1 L659.7 745.2 L656 747.5 L652.5 749.9 L649 752.6 L645.7 755.4 L642.5 758.1 L639.4 760.6 L636.5 762.9 L633.6 765.2 L631 767.4 L628.4 769.3 L626 771 L623.5 772.5 L620.8 773.8 L618.4 774.8 L616.7 775.5 L616 775.5 L616.7 774.8 L618.5 773.5 L620.9 771.7 L623.6 769.8 L626 768 L628.2 766.3 L630.5 764.7 L632.8 762.9 L635.2 761 L637.5 758.7 L639.9 756.1 L642.4 753.1 L644.8 750 L646.9 746.8 L648.7 743.7 L650.1 740.6 L651.2 737.5 L652 734.4 L652.5 731.5 L652.5 728.7 L652.1 726.1 L651.2 723.7 L649.9 721.4 L648.5 719.3 L647 717.5 L645.5 716 L643.9 714.8 L642.2 713.8 L640.1 712.9 L637.5 712 L634.3 711.1 L630.4 710.2 L626.3 709.4 L622.3 708.6 L618.7 708 L615.4 707.6 L612.2 707.3 L609.2 707.1 L606.8 706.7 L605 706 L603.9 704.8 L603.3 703.3 L603.3 701.6 L603.9 700Z" fill="none" stroke="#d98455" stroke-width="15" filter="url(#bl4)" opacity="0.75"/>
<ellipse cx="678.5" cy="664" rx="11" ry="30" fill="url(#gl)" opacity="1" transform="rotate(10 678.5 664)"/>
<ellipse cx="676" cy="660" rx="6" ry="20" fill="url(#gl)" opacity="0.9" transform="rotate(10 676 660)"/>
<ellipse cx="722" cy="683" rx="33" ry="29" fill="none" stroke="#fce6d6" stroke-width="8" filter="url(#bl3)" opacity="0.95" transform="rotate(18 722 683)"/>
<ellipse cx="692" cy="710" rx="20" ry="7" fill="url(#gl)" opacity="0.9" transform="rotate(22 692 710)"/>
<ellipse cx="753" cy="640" rx="13" ry="8" fill="url(#gl)" opacity="0.8" transform="rotate(-32 753 640)"/>
<ellipse cx="705" cy="739" rx="12" ry="6" fill="url(#gl)" opacity="0.8" transform="rotate(25 705 739)"/>
<ellipse cx="658" cy="727" rx="6" ry="10" fill="url(#gl)" opacity="0.8" transform="rotate(35 658 727)"/>
<ellipse cx="759" cy="735" rx="9" ry="6" fill="url(#gl)" opacity="0.7" transform="rotate(35 759 735)"/>
<ellipse cx="795" cy="688" rx="10" ry="4" fill="url(#gl)" opacity="0.5" transform="rotate(25 795 688)"/>
<ellipse cx="774" cy="692" rx="13" ry="24" fill="url(#gd)" opacity="1" transform="rotate(22 774 692)"/>
<ellipse cx="773" cy="690" rx="8" ry="15" fill="url(#gd)" opacity="0.9" transform="rotate(22 773 690)"/>
<ellipse cx="764" cy="716" rx="7" ry="12" fill="url(#gd)" opacity="0.8" transform="rotate(35 764 716)"/>
<ellipse cx="731" cy="729" rx="12" ry="9" fill="url(#gd)" opacity="1" transform="rotate(-20 731 729)"/>
<ellipse cx="731" cy="728" rx="7" ry="5" fill="url(#gd)" opacity="0.8" transform="rotate(-20 731 728)"/>
<ellipse cx="676" cy="731" rx="18" ry="7" fill="url(#gd)" opacity="1" transform="rotate(-22 676 731)"/>
<ellipse cx="677" cy="731" rx="11" ry="4" fill="url(#gd)" opacity="0.8" transform="rotate(-22 677 731)"/>
<ellipse cx="626" cy="705" rx="24" ry="6" fill="url(#gd)" opacity="1" transform="rotate(12 626 705)"/>
<ellipse cx="700" cy="641" rx="30" ry="5" fill="url(#gd)" opacity="0.5" transform="rotate(8 700 641)"/>
<ellipse cx="748" cy="633" rx="16" ry="5" fill="url(#gd)" opacity="0.45" transform="rotate(-25 748 633)"/>
</g>
<path d="M605 698.5 L606.8 697.3 L609.4 696.3 L612.4 695.4 L615.7 694.3 L619 693 L622.4 691.5 L626.2 689.9 L630 688.2 L633.9 686.2 L637.5 684 L641 681.4 L644.6 678.6 L648 675.6 L651.2 672.4 L654 669 L656.4 665.4 L658.4 661.4 L660.2 657.4 L661.7 653.5 L663 650 L664 647.1 L664.7 644.6 L665.1 642.2 L665.4 639.8 L665.6 637 L665.7 633.8 L665.6 630.3 L665.3 626.7 L665 623.2 L664.7 620 L664.3 616.8 L663.6 613.5 L663 610.4 L662.6 608.1 L662.5 607 L662.7 607.4 L663 608.9 L663.7 611.2 L664.6 613.7 L666 616 L667.8 618.2 L669.9 620.7 L672.3 623.1 L675.3 625.5 L678.7 627.5 L682.8 629.2 L687.6 630.7 L692.7 632 L697.9 633.1 L703 634 L707.9 634.7 L712.9 635.3 L717.8 635.6 L722.7 635.6 L727.5 635 L732.2 633.8 L736.8 632.2 L741.4 630.1 L745.8 627.9 L750 625.6 L754.2 623.1 L758.4 620.2 L762.4 617.3 L765.9 614.7 L768.7 612.5 L770.6 610.8 L771.7 609.3 L772.3 608.2 L772.7 607.6 L773 607.5 L773.3 608 L773.4 609.1 L773.3 610.6 L773 612.6 L772.5 615 L771.6 617.9 L770.3 621.5 L768.9 625.4 L767.7 629.3 L767 633 L766.8 636.4 L766.8 639.8 L767.1 643.1 L767.8 646.5 L768.7 650 L769.9 653.7 L771.4 657.4 L773.2 661.3 L775.4 665 L778 668.7 L781.2 672.3 L784.9 676 L789 679.5 L793.1 682.8 L797 685.6 L800.9 687.9 L805 689.9 L808.9 691.5 L812.5 692.9 L815.6 694 L818.4 694.7 L821 695 L823 695.1 L824.2 695.2 L824 695.5 L822.1 696 L818.7 696.6 L814.5 697.3 L810.1 698 L806 698.7 L802.3 699.3 L798.5 699.8 L794.7 700.4 L791 701.3 L787.5 702.5 L784.1 704.2 L780.7 706.3 L777.5 708.6 L774.7 711.1 L772.5 713.7 L770.9 716.5 L769.8 719.4 L769.1 722.5 L768.8 725.6 L768.7 728.7 L768.9 731.8 L769.5 734.9 L770.3 737.9 L771.4 740.9 L772.5 743.7 L774.1 746.6 L776.1 749.6 L778.2 752.4 L779.6 754.5 L780 755.5 L779 755.2 L777 753.8 L774.4 751.8 L771.5 749.5 L768.7 747.5 L765.9 745.6 L763 743.5 L759.9 741.4 L756.8 739.5 L753.7 738 L750.6 736.9 L747.5 735.9 L744.4 735.3 L741.5 735 L738.7 735 L736.1 735.4 L733.7 736.2 L731.4 737.3 L729.3 738.6 L727.5 740 L726 741.4 L724.7 743 L723.6 744.7 L722.8 746.7 L722 749 L721.4 752 L721.1 755.7 L720.9 759.4 L720.7 762.7 L720.5 765 L720.2 766.2 L719.9 766.8 L719.6 766.8 L719.3 766.2 L719 765 L718.7 763 L718.4 760.2 L718.1 756.9 L717.7 753.7 L717 751 L716.2 748.8 L715.3 746.9 L714.1 745.1 L712.6 743.5 L710.6 742 L707.9 740.5 L704.7 739 L701.1 737.7 L697.4 736.6 L693.7 736 L690.1 735.8 L686.4 735.9 L682.6 736.3 L678.8 737 L675 738 L671.2 739.4 L667.3 741.1 L663.4 743.1 L659.7 745.2 L656 747.5 L652.5 749.9 L649 752.6 L645.7 755.4 L642.5 758.1 L639.4 760.6 L636.5 762.9 L633.6 765.2 L631 767.4 L628.4 769.3 L626 771 L623.5 772.5 L620.8 773.8 L618.4 774.8 L616.7 775.5 L616 775.5 L616.7 774.8 L618.5 773.5 L620.9 771.7 L623.6 769.8 L626 768 L628.2 766.3 L630.5 764.7 L632.8 762.9 L635.2 761 L637.5 758.7 L639.9 756.1 L642.4 753.1 L644.8 750 L646.9 746.8 L648.7 743.7 L650.1 740.6 L651.2 737.5 L652 734.4 L652.5 731.5 L652.5 728.7 L652.1 726.1 L651.2 723.7 L649.9 721.4 L648.5 719.3 L647 717.5 L645.5 716 L643.9 714.8 L642.2 713.8 L640.1 712.9 L637.5 712 L634.3 711.1 L630.4 710.2 L626.3 709.4 L622.3 708.6 L618.7 708 L615.4 707.6 L612.2 707.3 L609.2 707.1 L606.8 706.7 L605 706 L603.9 704.8 L603.3 703.3 L603.3 701.6 L603.9 700Z" fill="none" stroke="#a85a32" stroke-width="1.3" stroke-linejoin="round"/>
<clipPath id="cnuc"><ellipse cx="722" cy="684.5" rx="26" ry="22" transform="rotate(18 722 684.5)"/></clipPath>
<ellipse cx="722" cy="684.5" rx="26" ry="22" fill="#eeb08a" transform="rotate(18 722 684.5)"/>
<g clip-path="url(#cnuc)">
<ellipse cx="722" cy="684.5" rx="25" ry="21" fill="none" stroke="#a94c17" stroke-width="9" filter="url(#bl3)" transform="rotate(18 722 684.5) translate(2 5)"/>
<path d="M700 694 Q710 712 733 707 Q746 703 748 688 Q740 702 724 700 Q710 700 700 694Z" fill="#a94c17" filter="url(#bl1)"/>
<ellipse cx="712" cy="674" rx="15" ry="10" fill="url(#gw)" opacity="1" transform="rotate(-25 712 674)"/>
<ellipse cx="710" cy="673" rx="9" ry="6" fill="url(#gw)" opacity="1" transform="rotate(-25 710 673)"/>
</g>
<ellipse cx="722" cy="684.5" rx="26" ry="22" fill="none" stroke="#a85a32" stroke-width="1.1" transform="rotate(18 722 684.5)"/>
<circle cx="735" cy="682" r="6.6" fill="#e9a177" stroke="#a85a32" stroke-width="0.9"/>
<path d="M729.5 685 Q735 692 741 684.5 Q735 688 729.5 685Z" fill="#a94c17" stroke="#a94c17" stroke-width="1.2" filter="url(#bl1)"/>
<ellipse cx="733.5" cy="679.5" rx="4" ry="3" fill="url(#gw)" opacity="1" transform="rotate(-20 733.5 679.5)"/>
<path d="M365 640 L366.2 639 L367.9 638.1 L369.8 637.2 L371.8 636.5 L373.9 635.9 L376 635.5 L378 635.3 L380.1 635.2 L382.3 635.2 L384.5 635.5 L386.8 635.9 L389 636.5 L391.3 637.4 L393.7 638.5 L396.1 639.8 L398.5 641.3 L400.8 642.7 L403 644 L405 645.2 L406.9 646.4 L408.8 647.6 L410.5 648.9 L412.3 650.1 L414 651.5 L415.8 653 L417.7 654.6 L419.6 656.2 L421.3 657.9 L422.8 659.5 L424 661 L424.8 662.4 L425.4 663.8 L425.8 665.1 L425.9 666.4 L426 667.7 L426 669 L426 670.3 L425.9 671.7 L425.6 673 L425.3 674.4 L424.7 675.7 L424 677 L423 678.3 L421.7 679.6 L420.3 681 L418.8 682.2 L417.3 683.4 L416 684.5 L414.8 685.5 L413.7 686.3 L412.6 687.1 L411.4 687.8 L410.3 688.5 L409 689 L407.6 689.5 L406.1 689.9 L404.6 690.3 L403 690.6 L401.5 690.6 L400 690.5 L398.6 690.1 L397.3 689.6 L395.9 688.9 L394.6 688.1 L393.3 687.1 L392 686 L390.7 684.8 L389.4 683.4 L388.1 681.9 L386.8 680.3 L385.4 678.7 L384 677 L382.4 675.3 L380.7 673.4 L378.9 671.6 L377.2 669.7 L375.5 667.8 L374 666 L372.6 664.3 L371.3 662.6 L370.1 660.9 L368.9 659.2 L367.9 657.6 L367 656 L366.2 654.4 L365.6 652.9 L365 651.3 L364.6 649.8 L364.2 648.4 L364 647 L363.8 645.7 L363.7 644.4 L363.6 643.2 L363.8 642.1 L364.2 641Z" fill="#faec9e" stroke="#b08a5a" stroke-width="1.1"/>
<path d="M427 675 L427.5 673.9 L428.2 673 L429 672.1 L429.9 671.3 L430.9 670.6 L432 670 L433.1 669.6 L434.2 669.2 L435.4 669 L436.7 668.9 L438.2 668.9 L440 669 L442.1 669.2 L444.4 669.5 L447 670 L449.7 670.5 L452.4 671 L455 671.5 L457.6 672 L460.2 672.6 L462.9 673.3 L465.6 673.9 L468.3 674.5 L471 675 L473.8 675.4 L476.7 675.7 L479.6 676 L482.4 676.3 L485.3 676.6 L488 677 L490.7 677.4 L493.5 677.8 L496.2 678.2 L498.7 678.7 L501 679.3 L503 680 L504.6 680.8 L505.8 681.7 L506.8 682.6 L507.7 683.7 L508.4 684.8 L509 686 L509.5 687.3 L509.9 688.8 L510.2 690.3 L510.4 691.9 L510.4 693.5 L510.5 695 L510.5 696.5 L510.5 698.1 L510.4 699.8 L510.3 701.3 L510 702.7 L509.5 704 L508.9 705.1 L508.2 706.2 L507.3 707.1 L506.3 707.9 L505.2 708.5 L504 709 L502.6 709.3 L501.1 709.3 L499.5 709.2 L497.7 709.1 L495.9 708.8 L494 708.5 L492 708.1 L489.8 707.5 L487.6 706.9 L485.3 706.3 L483.1 705.8 L481 705.5 L479.1 705.5 L477.2 705.6 L475.4 705.8 L473.7 706.1 L471.9 706.4 L470 706.5 L468 706.5 L466 706.6 L464 706.6 L462 706.5 L460 706.3 L458 706 L456.1 705.5 L454.2 705 L452.3 704.3 L450.5 703.5 L448.7 702.8 L447 702 L445.4 701.2 L443.8 700.5 L442.3 699.7 L440.9 698.9 L439.4 698 L438 697 L436.6 695.9 L435.1 694.8 L433.7 693.6 L432.3 692.4 L431.1 691.2 L430 690 L429.1 688.8 L428.4 687.7 L427.7 686.6 L427.2 685.4 L426.8 684.2 L426.5 683 L426.3 681.7 L426.2 680.3 L426.2 678.9 L426.4 677.5 L426.6 676.2Z" fill="#faec9e" stroke="#b08a5a" stroke-width="1.1"/>
<path d="M513 697 L513.2 695.6 L513.3 694.2 L513.6 692.7 L513.9 691.3 L514.4 690.1 L515 689 L515.8 688.1 L516.7 687.4 L517.8 686.8 L519 686.3 L520.4 685.9 L522 685.5 L523.8 685.2 L525.9 685.1 L528.1 685.1 L530.4 685.1 L532.7 685 L535 685 L537.3 685 L539.8 684.9 L542.2 684.9 L544.7 684.9 L546.9 684.8 L549 684.5 L550.8 684 L552.4 683.4 L553.8 682.7 L555.2 682 L556.6 681.4 L558 681 L559.5 680.8 L561 680.6 L562.5 680.6 L564 680.6 L565.5 680.8 L567 681 L568.5 681.3 L569.9 681.8 L571.3 682.4 L572.8 683 L574.3 683.5 L576 684 L577.8 684.4 L579.8 684.7 L581.9 685 L584 685.3 L586 685.6 L588 686 L589.9 686.4 L591.9 686.7 L593.9 687 L595.7 687.4 L597.5 687.9 L599 688.5 L600.4 689.2 L601.6 689.9 L602.7 690.7 L603.6 691.6 L604.4 692.7 L605 694 L605.4 695.7 L605.6 697.7 L605.6 699.9 L605.5 702.1 L605.3 704.2 L605 706 L604.6 707.5 L604.1 708.9 L603.6 710.1 L602.9 711.1 L602 712.1 L601 713 L599.9 713.8 L598.9 714.4 L597.6 714.9 L596.1 715.3 L594.3 715.7 L592 716 L589.1 716.2 L585.7 716.4 L582 716.5 L578 716.5 L574 716.5 L570 716.5 L565.9 716.4 L561.6 716.3 L557.1 716.1 L552.8 715.9 L548.7 715.7 L545 715.5 L541.8 715.4 L538.8 715.2 L536.1 715.1 L533.6 715 L531.3 714.8 L529 714.5 L526.8 714.2 L524.7 713.8 L522.8 713.3 L521 712.8 L519.4 712.2 L518 711.5 L516.8 710.6 L515.7 709.6 L514.8 708.6 L514.1 707.4 L513.5 706.2 L513 705 L512.7 703.8 L512.6 702.4 L512.6 701.1 L512.7 699.7 L512.8 698.4Z" fill="#faec9e" stroke="#b08a5a" stroke-width="1.1"/>
<path d="M364 639 L364.6 639.9 L365.3 641.1 L366.2 642.6 L367.1 644.2 L368.2 645.9 L369.4 647.6 L370.7 649.4 L372 651 L373.4 652.6 L375 654.3 L376.6 656 L378.3 657.7 L380.1 659.3 L382 661 L384 662.5 L386 664 L388.1 665.3 L390.3 666.6 L392.5 667.8 L394.8 668.9 L397.2 670 L399.7 671.1 L402.3 672.3 L405 673.5 L407.7 674.8 L410.5 676.1 L413.3 677.4 L416.2 678.7 L419.3 680 L422.6 681.4 L426.1 682.7 L430 684 L434.3 685.3 L438.9 686.7 L443.9 688.1 L449.1 689.5 L454.3 690.9 L459.6 692.2 L464.9 693.4 L470 694.5 L475 695.5 L479.9 696.4 L484.8 697.3 L489.7 698 L494.6 698.8 L499.6 699.4 L504.8 700 L510 700.5 L515.3 700.9 L520.8 701.3 L526.2 701.6 L531.8 701.8 L537.5 702 L543.2 702.1 L549.1 702.2 L555 702.3 L561.4 702.4 L568.5 702.4 L575.9 702.3 L583.3 702.3 L590.3 702.2 L596.7 702.1 L602 702 L606 702" fill="none" stroke="#a85a32" stroke-width="5.8" stroke-linecap="round"/>
<path d="M364 639 L364.6 639.9 L365.3 641.1 L366.2 642.6 L367.1 644.2 L368.2 645.9 L369.4 647.6 L370.7 649.4 L372 651 L373.4 652.6 L375 654.3 L376.6 656 L378.3 657.7 L380.1 659.3 L382 661 L384 662.5 L386 664 L388.1 665.3 L390.3 666.6 L392.5 667.8 L394.8 668.9 L397.2 670 L399.7 671.1 L402.3 672.3 L405 673.5 L407.7 674.8 L410.5 676.1 L413.3 677.4 L416.2 678.7 L419.3 680 L422.6 681.4 L426.1 682.7 L430 684 L434.3 685.3 L438.9 686.7 L443.9 688.1 L449.1 689.5 L454.3 690.9 L459.6 692.2 L464.9 693.4 L470 694.5 L475 695.5 L479.9 696.4 L484.8 697.3 L489.7 698 L494.6 698.8 L499.6 699.4 L504.8 700 L510 700.5 L515.3 700.9 L520.8 701.3 L526.2 701.6 L531.8 701.8 L537.5 702 L543.2 702.1 L549.1 702.2 L555 702.3 L561.4 702.4 L568.5 702.4 L575.9 702.3 L583.3 702.3 L590.3 702.2 L596.7 702.1 L602 702 L606 702" fill="none" stroke="#f2b892" stroke-width="3.4" stroke-linecap="round"/>
<g transform="translate(396.3 678.7) rotate(30)"><ellipse cx="0" cy="0.5" rx="13.5" ry="7.0" fill="#faec9e" stroke="#b08a5a" stroke-width="0.9"/><path d="M-10.5 0 Q-3.675 -5.5 2.625 -4.4 Q8.4 -2.4200000000000004 10.5 1.1 Q3.15 5.28 -3.675 3.9600000000000004 Q-8.4 2.4200000000000004 -10.5 0Z" fill="#1c1c1c"/><ellipse cx="-1.05" cy="0" rx="4.41" ry="2.2" fill="url(#gk)"/></g>
<g transform="translate(454.7 699) rotate(17)"><ellipse cx="0" cy="0.5" rx="15.5" ry="7.199999999999999" fill="#faec9e" stroke="#b08a5a" stroke-width="0.9"/><path d="M-12.5 0 Q-4.375 -5.75 3.125 -4.6 Q10.0 -2.53 12.5 1.15 Q3.75 5.52 -4.375 4.14 Q-10.0 2.53 -12.5 0Z" fill="#1c1c1c"/><ellipse cx="-1.25" cy="0" rx="5.25" ry="2.3" fill="url(#gk)"/></g>
<g transform="translate(562.5 689) rotate(-6)"><ellipse cx="0" cy="0.5" rx="14" ry="7.0" fill="#faec9e" stroke="#b08a5a" stroke-width="0.9"/><path d="M-11 0 Q-3.8499999999999996 -5.5 2.75 -4.4 Q8.8 -2.4200000000000004 11 1.1 Q3.3 5.28 -3.8499999999999996 3.9600000000000004 Q-8.8 2.4200000000000004 -11 0Z" fill="#1c1c1c"/><ellipse cx="-1.1" cy="0" rx="4.62" ry="2.2" fill="url(#gk)"/></g>
</g>
<g filter="url(#bl)"><g fill="none" stroke="#333" stroke-width="1.2">
<line x1="487.5" y1="585" x2="522.5" y2="565"/>
<line x1="822" y1="517.5" x2="805" y2="546"/>
<line x1="748" y1="547" x2="719.5" y2="680"/>
<line x1="816" y1="645" x2="739" y2="685"/>
<line x1="615" y1="674" x2="669" y2="702"/>
<line x1="549.5" y1="674.5" x2="528.7" y2="700.5"/>
<line x1="416.7" y1="723.7" x2="440" y2="700"/>
<line x1="500" y1="749.5" x2="510.5" y2="701"/>
<line x1="600" y1="723.7" x2="614.5" y2="703.7"/>
<path d="M410 660 L458.7 652.5 L472 680"/>
</g>
<g font-family="Liberation Sans, sans-serif" fill="#2b2b2b" stroke="#2b2b2b" stroke-width="0.4">
<text x="803.7" y="511.3" font-size="12.6" textLength="52.5" lengthAdjust="spacingAndGlyphs">Dendritos</text>
<text x="732" y="540.7" font-size="12.6" textLength="37.5" lengthAdjust="spacingAndGlyphs">Núcleo</text>
<text x="433" y="602.5" font-size="12.6" textLength="42.7" lengthAdjust="spacingAndGlyphs">Sinapse</text>
<text x="427" y="640" font-size="12.6" textLength="95" lengthAdjust="spacingAndGlyphs">Bainha de mielina</text>
<text x="520.5" y="666.7" font-size="12.6" textLength="37.7" lengthAdjust="spacingAndGlyphs">Axônio</text>
<text x="591.7" y="652" font-size="12.6" textLength="32.8" lengthAdjust="spacingAndGlyphs">Corpo</text>
<text x="588.2" y="665.7" font-size="12.6" textLength="36.8" lengthAdjust="spacingAndGlyphs">celular</text>
<text x="827.5" y="642" font-size="12.6" textLength="46.2" lengthAdjust="spacingAndGlyphs">Nucléolo</text>
<text x="379.5" y="740.5" font-size="12.6" textLength="50.5" lengthAdjust="spacingAndGlyphs">Célula de</text>
<text x="379.5" y="755" font-size="12.6" textLength="50" lengthAdjust="spacingAndGlyphs">Schwann</text><path d="M379.5 757.2L381.1 756.3L382.7 758.1L384.3 756.3L385.9 758.1L387.5 756.3L389.1 758.1L390.7 756.3L392.3 758.1L393.9 756.3L395.5 758.1L397.1 756.3L398.7 758.1L400.3 756.3L401.9 758.1L403.5 756.3L405.1 758.1L406.7 756.3L408.3 758.1L409.9 756.3L411.5 758.1L413.1 756.3L414.7 758.1L416.3 756.3L417.9 758.1L419.5 756.3L421.1 758.1L422.7 756.3L424.3 758.1L425.9 756.3L427.5 758.1L429.1 756.3L430.7 758.1" fill="none" stroke="#c0504d" stroke-width="0.6" opacity="0.7"/>
<text x="465.7" y="766.2" font-size="12.6" textLength="54.8" lengthAdjust="spacingAndGlyphs">Nódulo de</text>
<text x="472.5" y="780.7" font-size="12.6" textLength="41.2" lengthAdjust="spacingAndGlyphs">Ranvier</text><path d="M472.5 782.9L474.1 782L475.7 783.8L477.3 782L478.9 783.8L480.5 782L482.1 783.8L483.7 782L485.3 783.8L486.9 782L488.5 783.8L490.1 782L491.7 783.8L493.3 782L494.9 783.8L496.5 782L498.1 783.8L499.7 782L501.3 783.8L502.9 782L504.5 783.8L506.1 782L507.7 783.8L509.3 782L510.9 783.8L512.5 782L514.1 783.8" fill="none" stroke="#c0504d" stroke-width="0.6" opacity="0.7"/>
<text x="569.2" y="741.2" font-size="12.6" textLength="37" lengthAdjust="spacingAndGlyphs">Axônio</text>
</g></g>
</svg>
<svg class="abs" style="left:0;top:800px" width="1280" height="560" viewBox="0 800 1280 560">
<g filter="url(#bl)">
<g stroke="#1a1a1a" stroke-width="1.3" fill="none">
<line x1="457.3" y1="845.1" x2="579.0" y2="898.2"/>
<line x1="457.3" y1="845.1" x2="579.0" y2="977.8"/>
<line x1="457.3" y1="845.1" x2="579.0" y2="1055.3"/>
<line x1="457.3" y1="845.1" x2="579.0" y2="1131.6"/>
<line x1="457.3" y1="845.1" x2="579.0" y2="1208.3"/>
<line x1="457.3" y1="878.6" x2="579.0" y2="898.2"/>
<line x1="457.3" y1="878.6" x2="579.0" y2="977.8"/>
<line x1="457.3" y1="878.6" x2="579.0" y2="1055.3"/>
<line x1="457.3" y1="878.6" x2="579.0" y2="1131.6"/>
<line x1="457.3" y1="878.6" x2="579.0" y2="1208.3"/>
<line x1="457.3" y1="913" x2="579.0" y2="898.2"/>
<line x1="457.3" y1="913" x2="579.0" y2="977.8"/>
<line x1="457.3" y1="913" x2="579.0" y2="1055.3"/>
<line x1="457.3" y1="913" x2="579.0" y2="1131.6"/>
<line x1="457.3" y1="913" x2="579.0" y2="1208.3"/>
<line x1="457.3" y1="947" x2="579.0" y2="898.2"/>
<line x1="457.3" y1="947" x2="579.0" y2="977.8"/>
<line x1="457.3" y1="947" x2="579.0" y2="1055.3"/>
<line x1="457.3" y1="947" x2="579.0" y2="1131.6"/>
<line x1="457.3" y1="947" x2="579.0" y2="1208.3"/>
<line x1="457.3" y1="1003.6" x2="579.0" y2="898.2"/>
<line x1="457.3" y1="1003.6" x2="579.0" y2="977.8"/>
<line x1="457.3" y1="1003.6" x2="579.0" y2="1055.3"/>
<line x1="457.3" y1="1003.6" x2="579.0" y2="1131.6"/>
<line x1="457.3" y1="1003.6" x2="579.0" y2="1208.3"/>
<line x1="457.3" y1="1037.2" x2="579.0" y2="898.2"/>
<line x1="457.3" y1="1037.2" x2="579.0" y2="977.8"/>
<line x1="457.3" y1="1037.2" x2="579.0" y2="1055.3"/>
<line x1="457.3" y1="1037.2" x2="579.0" y2="1131.6"/>
<line x1="457.3" y1="1037.2" x2="579.0" y2="1208.3"/>
<line x1="457.3" y1="1072" x2="579.0" y2="898.2"/>
<line x1="457.3" y1="1072" x2="579.0" y2="977.8"/>
<line x1="457.3" y1="1072" x2="579.0" y2="1055.3"/>
<line x1="457.3" y1="1072" x2="579.0" y2="1131.6"/>
<line x1="457.3" y1="1072" x2="579.0" y2="1208.3"/>
<line x1="457.3" y1="1106" x2="579.0" y2="898.2"/>
<line x1="457.3" y1="1106" x2="579.0" y2="977.8"/>
<line x1="457.3" y1="1106" x2="579.0" y2="1055.3"/>
<line x1="457.3" y1="1106" x2="579.0" y2="1131.6"/>
<line x1="457.3" y1="1106" x2="579.0" y2="1208.3"/>
<line x1="457.3" y1="1151.2" x2="579.0" y2="898.2"/>
<line x1="457.3" y1="1151.2" x2="579.0" y2="977.8"/>
<line x1="457.3" y1="1151.2" x2="579.0" y2="1055.3"/>
<line x1="457.3" y1="1151.2" x2="579.0" y2="1131.6"/>
<line x1="457.3" y1="1151.2" x2="579.0" y2="1208.3"/>
<line x1="457.3" y1="1185.2" x2="579.0" y2="898.2"/>
<line x1="457.3" y1="1185.2" x2="579.0" y2="977.8"/>
<line x1="457.3" y1="1185.2" x2="579.0" y2="1055.3"/>
<line x1="457.3" y1="1185.2" x2="579.0" y2="1131.6"/>
<line x1="457.3" y1="1185.2" x2="579.0" y2="1208.3"/>
<line x1="457.3" y1="1219.3" x2="579.0" y2="898.2"/>
<line x1="457.3" y1="1219.3" x2="579.0" y2="977.8"/>
<line x1="457.3" y1="1219.3" x2="579.0" y2="1055.3"/>
<line x1="457.3" y1="1219.3" x2="579.0" y2="1131.6"/>
<line x1="457.3" y1="1219.3" x2="579.0" y2="1208.3"/>
<line x1="457.3" y1="1253.3" x2="579.0" y2="898.2"/>
<line x1="457.3" y1="1253.3" x2="579.0" y2="977.8"/>
<line x1="457.3" y1="1253.3" x2="579.0" y2="1055.3"/>
<line x1="457.3" y1="1253.3" x2="579.0" y2="1131.6"/>
<line x1="457.3" y1="1253.3" x2="579.0" y2="1208.3"/>
<line x1="601.5999999999999" y1="898.2" x2="718.7" y2="965"/>
<line x1="601.5999999999999" y1="898.2" x2="718.7" y2="1054.2"/>
<line x1="601.5999999999999" y1="898.2" x2="718.7" y2="1139.5"/>
<line x1="601.5999999999999" y1="977.8" x2="718.7" y2="965"/>
<line x1="601.5999999999999" y1="977.8" x2="718.7" y2="1054.2"/>
<line x1="601.5999999999999" y1="977.8" x2="718.7" y2="1139.5"/>
<line x1="601.5999999999999" y1="1055.3" x2="718.7" y2="965"/>
<line x1="601.5999999999999" y1="1055.3" x2="718.7" y2="1054.2"/>
<line x1="601.5999999999999" y1="1055.3" x2="718.7" y2="1139.5"/>
<line x1="601.5999999999999" y1="1131.6" x2="718.7" y2="965"/>
<line x1="601.5999999999999" y1="1131.6" x2="718.7" y2="1054.2"/>
<line x1="601.5999999999999" y1="1131.6" x2="718.7" y2="1139.5"/>
<line x1="601.5999999999999" y1="1208.3" x2="718.7" y2="965"/>
<line x1="601.5999999999999" y1="1208.3" x2="718.7" y2="1054.2"/>
<line x1="601.5999999999999" y1="1208.3" x2="718.7" y2="1139.5"/>
<line x1="739.4" y1="971.3" x2="852.0" y2="1046.7"/>
<line x1="741.3" y1="1054.1" x2="850.1" y2="1053.1"/>
<line x1="739.4" y1="1133.3" x2="852.0" y2="1059.2"/>
</g>
<line x1="399.5" y1="845.1" x2="424" y2="845.1" stroke="#2a2a2a" stroke-width="1.6"/>
<path d="M421.5 839.1 L434 845.1 L421.5 851.1 Z" fill="#000"/>
<line x1="399.5" y1="878.6" x2="424" y2="878.6" stroke="#2a2a2a" stroke-width="1.6"/>
<path d="M421.5 872.6 L434 878.6 L421.5 884.6 Z" fill="#000"/>
<line x1="399.5" y1="913" x2="424" y2="913" stroke="#2a2a2a" stroke-width="1.6"/>
<path d="M421.5 907 L434 913 L421.5 919 Z" fill="#000"/>
<line x1="399.5" y1="947" x2="424" y2="947" stroke="#2a2a2a" stroke-width="1.6"/>
<path d="M421.5 941 L434 947 L421.5 953 Z" fill="#000"/>
<line x1="399.5" y1="1003.6" x2="424" y2="1003.6" stroke="#2a2a2a" stroke-width="1.6"/>
<path d="M421.5 997.6 L434 1003.6 L421.5 1009.6 Z" fill="#000"/>
<line x1="399.5" y1="1037.2" x2="424" y2="1037.2" stroke="#2a2a2a" stroke-width="1.6"/>
<path d="M421.5 1031.2 L434 1037.2 L421.5 1043.2 Z" fill="#000"/>
<line x1="399.5" y1="1072" x2="424" y2="1072" stroke="#2a2a2a" stroke-width="1.6"/>
<path d="M421.5 1066 L434 1072 L421.5 1078 Z" fill="#000"/>
<line x1="399.5" y1="1106" x2="424" y2="1106" stroke="#2a2a2a" stroke-width="1.6"/>
<path d="M421.5 1100 L434 1106 L421.5 1112 Z" fill="#000"/>
<line x1="399.5" y1="1151.2" x2="424" y2="1151.2" stroke="#2a2a2a" stroke-width="1.6"/>
<path d="M421.5 1145.2 L434 1151.2 L421.5 1157.2 Z" fill="#000"/>
<line x1="399.5" y1="1185.2" x2="424" y2="1185.2" stroke="#2a2a2a" stroke-width="1.6"/>
<path d="M421.5 1179.2 L434 1185.2 L421.5 1191.2 Z" fill="#000"/>
<line x1="399.5" y1="1219.3" x2="424" y2="1219.3" stroke="#2a2a2a" stroke-width="1.6"/>
<path d="M421.5 1213.3 L434 1219.3 L421.5 1225.3 Z" fill="#000"/>
<line x1="399.5" y1="1253.3" x2="424" y2="1253.3" stroke="#2a2a2a" stroke-width="1.6"/>
<path d="M421.5 1247.3 L434 1253.3 L421.5 1259.3 Z" fill="#000"/>
<line x1="872.6999999999999" y1="1053" x2="895" y2="1053" stroke="#333" stroke-width="1.6"/>
<path d="M893.5 1049 L902 1053 L893.5 1057 Z" fill="#000"/>
<circle cx="446" cy="845.1" r="11.8" fill="#e8e8e8" stroke="#222" stroke-width="1.3"/><circle cx="446" cy="845.1" r="10.2" fill="#bdbdbd"/>
<circle cx="446" cy="878.6" r="11.8" fill="#e8e8e8" stroke="#222" stroke-width="1.3"/><circle cx="446" cy="878.6" r="10.2" fill="#bdbdbd"/>
<circle cx="446" cy="913" r="11.8" fill="#e8e8e8" stroke="#222" stroke-width="1.3"/><circle cx="446" cy="913" r="10.2" fill="#bdbdbd"/>
<circle cx="446" cy="947" r="11.8" fill="#e8e8e8" stroke="#222" stroke-width="1.3"/><circle cx="446" cy="947" r="10.2" fill="#bdbdbd"/>
<circle cx="446" cy="1003.6" r="11.8" fill="#e8e8e8" stroke="#222" stroke-width="1.3"/><circle cx="446" cy="1003.6" r="10.2" fill="#bdbdbd"/>
<circle cx="446" cy="1037.2" r="11.8" fill="#e8e8e8" stroke="#222" stroke-width="1.3"/><circle cx="446" cy="1037.2" r="10.2" fill="#bdbdbd"/>
<circle cx="446" cy="1072" r="11.8" fill="#e8e8e8" stroke="#222" stroke-width="1.3"/><circle cx="446" cy="1072" r="10.2" fill="#bdbdbd"/>
<circle cx="446" cy="1106" r="11.8" fill="#e8e8e8" stroke="#222" stroke-width="1.3"/><circle cx="446" cy="1106" r="10.2" fill="#bdbdbd"/>
<circle cx="446" cy="1151.2" r="11.8" fill="#e8e8e8" stroke="#222" stroke-width="1.3"/><circle cx="446" cy="1151.2" r="10.2" fill="#bdbdbd"/>
<circle cx="446" cy="1185.2" r="11.8" fill="#e8e8e8" stroke="#222" stroke-width="1.3"/><circle cx="446" cy="1185.2" r="10.2" fill="#bdbdbd"/>
<circle cx="446" cy="1219.3" r="11.8" fill="#e8e8e8" stroke="#222" stroke-width="1.3"/><circle cx="446" cy="1219.3" r="10.2" fill="#bdbdbd"/>
<circle cx="446" cy="1253.3" r="11.8" fill="#e8e8e8" stroke="#222" stroke-width="1.3"/><circle cx="446" cy="1253.3" r="10.2" fill="#bdbdbd"/>
<circle cx="590.3" cy="898.2" r="11.3" fill="#fff" stroke="#222" stroke-width="1.3"/><circle cx="590.3" cy="898.2" r="9.3" fill="#ffff00"/>
<circle cx="590.3" cy="977.8" r="11.3" fill="#fff" stroke="#222" stroke-width="1.3"/><circle cx="590.3" cy="977.8" r="9.3" fill="#ffff00"/>
<circle cx="590.3" cy="1055.3" r="11.3" fill="#fff" stroke="#222" stroke-width="1.3"/><circle cx="590.3" cy="1055.3" r="9.3" fill="#ffff00"/>
<circle cx="590.3" cy="1131.6" r="11.3" fill="#fff" stroke="#222" stroke-width="1.3"/><circle cx="590.3" cy="1131.6" r="9.3" fill="#ffff00"/>
<circle cx="590.3" cy="1208.3" r="11.3" fill="#fff" stroke="#222" stroke-width="1.3"/><circle cx="590.3" cy="1208.3" r="9.3" fill="#ffff00"/>
<circle cx="730" cy="965" r="11.3" fill="#fff" stroke="#222" stroke-width="1.3"/><circle cx="730" cy="965" r="9.3" fill="#ffff00"/>
<circle cx="730" cy="1054.2" r="11.3" fill="#fff" stroke="#222" stroke-width="1.3"/><circle cx="730" cy="1054.2" r="9.3" fill="#ffff00"/>
<circle cx="730" cy="1139.5" r="11.3" fill="#fff" stroke="#222" stroke-width="1.3"/><circle cx="730" cy="1139.5" r="9.3" fill="#ffff00"/>
<circle cx="861.4" cy="1053" r="11.3" fill="#fff" stroke="#222" stroke-width="1.3"/><circle cx="861.4" cy="1053" r="9.100000000000001" fill="#ff0000"/>
<g font-family="Liberation Serif, serif" fill="#2a2a2a" stroke="#2a2a2a" stroke-width="0.3">
<text x="366" y="848.6" font-size="21">i<tspan dy="5" font-size="13.5">A1</tspan></text>
<text x="366" y="882.1" font-size="21">i<tspan dy="5" font-size="13.5">A2</tspan></text>
<text x="366" y="916.5" font-size="21">i<tspan dy="5" font-size="13.5">A3</tspan></text>
<text x="366" y="950.5" font-size="21">i<tspan dy="5" font-size="13.5">A4</tspan></text>
<text x="366" y="1007.1" font-size="21">i<tspan dy="5" font-size="13.5">B1</tspan></text>
<text x="366" y="1040.7" font-size="21">i<tspan dy="5" font-size="13.5">B2</tspan></text>
<text x="366" y="1075.5" font-size="21">i<tspan dy="5" font-size="13.5">B3</tspan></text>
<text x="366" y="1109.5" font-size="21">i<tspan dy="5" font-size="13.5">B4</tspan></text>
<text x="366" y="1154.7" font-size="21">i<tspan dy="5" font-size="13.5">C1</tspan></text>
<text x="366" y="1188.7" font-size="21">i<tspan dy="5" font-size="13.5">C2</tspan></text>
<text x="366" y="1222.8" font-size="21">i<tspan dy="5" font-size="13.5">C3</tspan></text>
<text x="366" y="1256.8" font-size="21">i<tspan dy="5" font-size="13.5">C4</tspan></text>
<text x="875" y="1089.5" font-size="16.5" textLength="41.5" lengthAdjust="spacingAndGlyphs">1 ou 0</text>
<text x="455.5" y="1306.3" font-size="14.3" text-anchor="middle" textLength="87.5" lengthAdjust="spacingAndGlyphs" fill="#4a4a4a" stroke="none">CAMADA DE</text>
<text x="455.4" y="1323.8" font-size="14.3" text-anchor="middle" textLength="69.3" lengthAdjust="spacingAndGlyphs" fill="#4a4a4a" stroke="none">ENTRADA</text>
<text x="669.8" y="1306.5" font-size="14.3" text-anchor="middle" textLength="72" lengthAdjust="spacingAndGlyphs" fill="#4a4a4a" stroke="none">CAMADAS</text>
<text x="670" y="1323.8" font-size="14.3" text-anchor="middle" textLength="67.5" lengthAdjust="spacingAndGlyphs" fill="#4a4a4a" stroke="none">OCULTAS</text>
<text x="868.1" y="1304.3" font-size="14.3" text-anchor="middle" textLength="87.3" lengthAdjust="spacingAndGlyphs" fill="#4a4a4a" stroke="none">CAMADA DE</text>
<text x="868.5" y="1322" font-size="14.3" text-anchor="middle" textLength="44.5" lengthAdjust="spacingAndGlyphs" fill="#4a4a4a" stroke="none">SAÍDA</text>
</g></g></svg>
</body></html>
